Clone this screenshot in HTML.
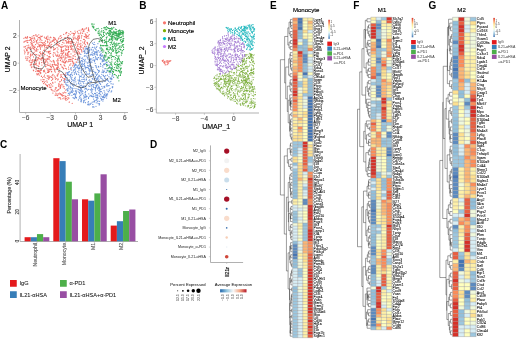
<!DOCTYPE html>
<html><head><meta charset="utf-8"><style>
html,body{margin:0;padding:0;background:#fff;}
svg{display:block;font-family:"Liberation Sans",Arial,sans-serif;}
</style></head><body>
<svg width="520" height="341" viewBox="0 0 520 341">
<rect width="520" height="341" fill="#fff"/>
<text x="1" y="8.8" font-size="10" text-anchor="start" fill="#000" font-weight="bold">A</text>
<path d="M45.2 38.3h0M66.8 32.3h0M59.2 54.8h0M26.4 60.0h0M51.9 90.2h0M32.1 43.8h0M65.2 99.5h0M61.9 57.2h0M88.2 30.3h0M80.5 48.9h0M33.4 35.7h0M35.8 71.4h0M66.0 55.3h0M27.8 42.5h0M68.7 59.5h0M44.6 71.7h0M53.8 49.7h0M40.0 70.8h0M58.5 93.9h0M72.0 48.8h0M88.5 35.8h0M51.5 84.8h0M33.9 64.3h0M81.6 50.8h0M62.1 61.7h0M55.1 77.7h0M78.1 48.6h0M49.3 78.1h0M35.0 35.7h0M32.4 45.7h0M29.2 61.2h0M60.1 94.5h0M42.2 58.6h0M87.0 38.3h0M35.5 44.5h0M39.3 63.9h0M62.7 46.9h0M48.2 70.2h0M57.9 74.1h0M49.8 57.3h0M37.7 39.2h0M23.9 38.3h0M30.6 54.6h0M64.4 38.1h0M40.5 53.4h0M47.9 36.1h0M54.6 63.9h0M46.5 47.0h0M78.5 39.1h0M58.7 38.0h0M41.1 54.9h0M59.0 86.5h0M45.6 43.8h0M38.8 66.5h0M25.7 48.2h0M41.0 79.9h0M38.4 44.1h0M36.9 42.4h0M65.0 95.8h0M73.3 63.4h0M71.7 39.8h0M32.3 38.3h0M47.0 68.8h0M78.3 42.9h0M40.5 49.2h0M39.8 71.7h0M41.0 58.9h0M47.2 61.9h0M62.3 96.1h0M57.0 67.5h0M52.9 40.8h0M35.3 63.1h0M45.4 66.5h0M60.5 86.9h0M40.3 48.0h0M60.9 85.1h0M64.3 65.5h0M57.7 79.9h0M53.7 67.7h0M86.0 46.6h0M60.8 99.1h0M79.3 37.2h0M31.9 60.7h0M28.7 45.2h0M67.4 37.7h0M50.1 64.1h0M34.5 59.8h0M57.9 52.7h0M36.8 51.2h0M60.4 60.5h0M25.1 52.2h0M65.0 66.0h0M30.8 47.1h0M41.7 36.6h0M77.9 46.6h0M61.5 80.5h0M69.3 59.4h0M53.8 52.7h0M60.3 97.9h0M41.6 36.6h0M58.6 45.0h0M31.1 39.1h0M27.2 42.2h0M44.5 50.1h0M74.0 49.0h0M56.9 40.4h0M36.4 63.2h0M85.5 34.9h0M77.9 59.9h0M56.5 90.8h0M49.8 65.6h0M69.2 102.2h0M50.6 53.4h0M27.5 36.7h0M40.7 39.2h0M42.5 45.3h0M43.2 62.0h0M34.3 60.9h0M44.3 54.1h0M55.2 65.3h0M37.1 65.5h0M24.2 47.0h0M29.8 57.4h0M43.9 44.6h0M62.5 67.3h0M49.6 51.7h0M88.8 38.2h0M33.1 66.9h0M57.1 90.8h0M62.4 95.3h0M32.7 54.4h0M60.7 74.9h0M65.2 79.0h0M57.0 67.8h0M72.5 46.1h0M28.8 47.1h0M72.0 42.5h0M56.5 56.1h0M55.5 79.2h0M66.3 32.6h0M33.6 46.2h0M72.9 50.1h0M27.9 47.3h0M68.4 49.0h0M57.9 62.4h0M82.8 42.0h0M53.5 47.3h0M37.8 71.4h0M33.2 66.9h0M86.7 36.9h0M53.6 49.9h0M33.2 53.1h0M79.2 35.9h0M83.3 49.0h0M48.4 56.9h0M47.7 59.6h0M40.3 47.1h0M57.6 41.3h0M65.5 96.9h0M72.2 61.3h0M85.0 36.5h0M55.0 53.1h0M43.5 83.5h0M67.1 49.8h0M60.6 57.0h0M34.9 39.1h0M56.7 43.6h0M53.6 37.4h0M39.7 46.5h0M61.4 94.8h0M73.3 58.4h0M51.2 67.0h0M48.7 52.7h0M28.0 48.0h0M87.7 36.4h0M57.1 75.1h0M80.8 43.3h0M41.8 45.8h0M50.2 60.9h0M31.1 38.6h0M58.3 79.1h0M54.0 69.1h0M66.4 50.0h0M32.3 46.0h0M58.5 71.5h0M49.5 43.9h0M43.8 62.1h0M39.4 45.7h0M56.7 78.5h0M51.6 46.5h0M67.9 97.8h0M46.2 59.0h0M68.9 41.9h0M57.2 42.5h0M77.9 44.4h0M56.6 41.1h0M38.6 58.7h0M67.7 99.6h0M33.5 56.9h0M27.9 56.9h0M72.2 103.3h0M67.7 55.8h0M48.5 52.2h0M42.3 53.7h0M86.9 36.2h0M87.4 42.6h0M78.1 59.9h0M36.6 54.7h0M83.0 29.0h0M51.0 89.0h0M84.5 46.4h0M46.2 47.6h0M44.8 47.9h0M86.1 28.6h0M39.3 63.2h0M49.4 46.0h0M52.2 64.6h0M85.1 40.7h0M63.9 51.9h0M45.0 54.5h0M75.5 32.8h0M30.3 65.0h0M70.7 61.0h0M39.3 58.7h0M64.8 78.5h0M67.7 36.0h0M79.3 49.3h0M61.3 55.3h0M72.5 42.0h0M40.2 45.5h0M62.0 51.8h0M57.3 44.5h0M89.2 34.6h0M55.2 89.6h0M26.6 49.3h0M31.8 41.3h0M86.2 34.8h0M63.2 74.3h0M38.2 55.0h0M33.2 42.4h0M40.7 72.7h0M66.8 42.3h0M24.6 51.8h0M68.6 40.9h0M44.5 42.3h0M50.0 69.0h0M66.0 33.7h0M50.9 48.5h0M44.5 70.2h0M47.4 58.7h0M47.9 41.8h0M71.9 42.3h0M51.8 89.7h0M54.3 39.2h0M66.1 96.6h0M48.3 65.4h0M33.5 48.5h0M58.2 97.8h0M31.1 64.4h0M36.9 36.4h0M78.2 39.0h0M75.7 43.8h0M78.5 40.8h0M38.3 57.4h0M58.0 56.2h0M32.0 45.7h0M79.1 35.7h0M63.4 68.9h0M65.2 50.2h0M51.6 71.4h0M52.0 77.3h0M53.3 60.4h0M56.2 44.8h0M54.1 40.5h0M32.4 59.8h0M29.9 60.6h0M65.8 33.0h0M57.1 55.7h0M86.6 37.2h0M84.3 39.4h0M28.2 53.6h0M73.7 38.9h0M83.0 47.8h0M77.6 37.7h0M37.6 46.9h0M57.2 51.2h0M26.3 40.7h0M31.5 67.5h0M65.8 54.3h0M62.1 94.5h0M65.4 57.0h0M76.5 47.0h0M47.6 85.4h0M53.0 40.3h0M77.9 46.2h0M62.5 77.7h0M26.1 38.2h0M64.5 59.9h0M57.7 95.5h0M32.6 44.2h0M30.9 54.1h0M38.7 71.5h0M62.7 42.4h0M65.0 63.2h0M40.0 38.2h0M50.4 47.0h0M61.0 53.6h0M66.4 60.8h0M50.7 45.0h0M85.9 37.6h0M37.0 73.4h0M57.3 76.0h0M77.5 40.1h0M44.3 49.8h0M73.0 62.4h0M72.8 61.5h0M38.8 34.8h0M46.0 84.3h0M70.8 47.1h0M60.4 60.2h0M41.4 76.0h0M87.5 43.4h0M41.1 44.8h0M73.1 51.8h0M81.9 51.9h0M54.8 91.2h0M52.7 82.4h0M61.5 50.3h0M37.9 74.5h0M46.6 37.6h0M31.0 42.5h0M65.7 90.1h0M65.5 48.8h0M73.8 42.4h0M44.9 59.2h0M25.3 46.4h0M42.5 81.7h0M48.2 51.3h0M25.9 58.4h0M52.7 86.1h0M46.8 80.8h0M59.3 43.3h0M80.7 33.7h0M77.9 39.8h0M24.0 42.2h0M56.3 87.9h0M36.1 64.7h0M42.6 43.2h0M70.0 65.0h0M65.3 54.0h0M50.3 57.0h0M82.6 33.3h0M82.4 28.6h0M37.5 46.9h0M39.3 62.1h0M58.9 84.6h0M46.9 51.8h0M35.1 60.4h0M32.2 62.2h0M82.2 45.0h0M36.5 49.9h0M34.1 38.7h0M40.2 51.8h0M58.3 39.1h0M45.5 41.2h0M30.6 56.2h0M72.2 60.1h0M30.9 42.6h0M50.2 87.4h0M69.6 65.1h0M65.6 62.3h0M50.6 83.6h0M61.7 84.2h0M51.7 44.3h0M66.2 61.6h0M44.5 75.0h0M30.3 58.9h0M65.4 45.9h0M51.8 61.7h0M64.9 58.1h0M68.4 98.1h0M75.2 56.6h0M59.6 81.8h0M57.7 75.8h0M49.8 85.3h0M42.0 57.4h0M51.6 80.3h0M47.1 47.1h0M49.7 43.0h0M54.8 69.9h0M47.2 75.8h0M54.7 49.3h0M60.0 36.3h0M78.8 53.9h0M80.0 47.2h0M48.7 46.2h0M52.0 41.0h0M42.4 45.5h0M43.8 63.5h0M52.1 75.6h0M67.3 54.5h0M67.1 45.9h0M30.6 37.7h0M46.7 38.4h0M64.0 86.7h0M68.0 95.4h0M58.9 83.7h0M60.5 47.0h0M39.3 37.4h0M54.7 37.8h0M56.3 65.0h0M59.5 93.0h0M54.7 69.9h0M48.6 58.9h0M87.2 32.5h0M65.9 75.6h0M68.9 98.2h0M57.6 63.9h0M83.0 29.3h0M48.0 63.1h0M58.5 85.9h0M37.8 60.1h0M51.7 69.2h0M78.4 49.2h0M78.4 57.7h0M57.1 47.6h0M45.7 51.1h0M43.6 71.7h0M27.2 49.8h0M24.3 41.3h0M64.5 74.8h0M68.8 43.0h0M67.9 61.9h0M74.2 34.5h0M67.1 55.0h0M60.9 46.5h0M43.8 59.1h0M44.9 59.8h0M66.2 98.4h0M62.9 98.7h0M66.4 43.0h0M71.3 45.3h0M72.2 41.1h0M72.0 33.2h0M77.8 32.8h0M44.4 82.7h0M48.1 70.9h0M52.8 78.7h0M47.8 76.2h0M65.4 58.8h0M49.3 87.1h0M61.3 49.2h0M45.8 73.2h0M63.5 50.4h0M48.7 79.3h0M63.6 95.5h0M77.1 48.5h0M24.0 46.9h0M51.7 71.8h0M61.6 47.7h0M60.4 87.9h0M85.3 44.7h0M63.9 78.7h0M54.6 42.6h0M76.1 62.0h0M74.8 44.6h0M62.1 95.6h0M55.3 72.0h0M36.4 41.5h0M47.8 70.0h0M50.4 66.4h0M75.8 38.7h0M63.3 53.2h0M61.3 46.8h0M75.2 59.4h0M37.1 40.6h0M60.6 93.6h0M83.9 31.6h0M63.3 57.2h0M40.8 70.1h0M66.1 100.2h0M68.0 56.9h0M53.4 39.0h0M40.8 53.7h0M79.1 30.3h0M27.6 37.8h0M68.5 49.6h0M62.9 84.9h0M30.8 51.6h0M40.8 36.2h0M55.6 39.6h0M39.6 37.7h0M71.2 41.7h0M33.1 61.0h0M53.7 52.8h0M65.3 37.7h0M70.9 69.2h0M41.5 58.3h0M34.2 47.5h0M79.2 52.4h0M35.0 64.4h0M67.9 42.9h0M55.4 48.7h0M40.9 42.2h0M30.3 48.9h0M83.0 31.1h0M71.8 49.2h0M88.4 27.9h0M77.1 52.9h0M36.1 60.1h0M84.0 43.5h0M61.6 37.3h0M70.8 41.8h0M64.0 64.8h0M41.9 42.5h0M64.3 81.1h0M72.2 58.0h0M77.3 52.4h0M81.4 47.1h0M48.1 39.3h0M48.4 72.4h0M53.3 66.3h0M45.1 81.3h0M49.0 84.4h0M57.7 67.4h0M87.7 43.9h0M35.9 34.6h0M70.0 41.7h0M61.9 66.9h0M70.2 34.6h0M56.4 65.2h0M42.3 36.1h0M50.6 37.2h0M62.9 92.8h0M33.6 70.7h0M73.1 39.3h0M49.5 59.0h0M75.1 52.7h0M39.7 52.4h0M40.3 59.1h0M65.6 54.7h0M52.4 65.5h0M25.3 37.4h0M82.2 29.3h0M66.2 47.1h0M68.6 47.7h0M59.6 97.7h0M64.8 45.9h0M58.2 60.0h0M44.0 76.4h0M41.6 62.5h0M59.1 38.1h0M32.1 36.8h0M43.2 57.9h0M42.9 45.4h0M61.5 76.6h0M54.3 68.8h0M64.3 62.7h0M44.4 45.3h0M38.5 66.1h0M49.2 71.7h0M24.7 53.8h0M80.7 45.0h0M60.6 64.4h0M28.0 56.5h0M52.9 83.2h0M31.1 44.0h0M34.1 52.6h0M47.1 78.6h0M64.5 92.0h0M74.0 63.2h0M84.2 36.5h0M61.6 58.8h0M63.9 55.9h0M53.7 61.9h0M71.5 49.2h0M49.6 69.4h0M49.2 51.4h0M56.8 60.8h0M36.0 50.0h0M87.1 42.4h0M61.1 64.9h0M58.0 66.4h0M69.1 56.6h0M47.5 72.4h0M68.5 67.0h0M30.4 55.5h0M50.3 69.8h0M61.7 94.3h0M52.9 74.7h0M58.8 89.4h0M35.2 51.1h0M34.2 49.0h0M57.6 65.5h0M36.3 40.7h0M65.4 73.0h0M51.0 87.2h0M44.1 79.7h0M24.2 50.1h0M67.9 41.8h0M56.7 69.2h0M41.4 76.4h0M61.8 58.3h0M31.9 38.7h0M74.0 34.9h0M30.5 39.8h0M58.3 89.9h0M64.3 88.6h0M74.7 51.5h0M71.0 53.9h0M35.1 47.2h0M62.3 53.5h0M53.5 56.3h0M52.9 74.3h0M77.7 50.0h0M39.9 56.6h0M71.2 43.7h0M55.8 87.6h0M39.9 40.0h0M47.5 41.0h0M60.9 35.5h0M59.1 56.3h0M47.0 45.5h0M36.5 48.5h0M67.7 52.9h0M30.0 47.4h0M78.9 36.5h0M53.1 90.9h0M76.9 38.9h0M47.2 82.2h0M57.2 44.2h0M70.5 46.7h0M48.2 45.6h0M64.0 43.0h0M81.4 36.1h0M57.7 68.4h0M49.3 77.2h0M61.3 50.6h0M45.1 77.6h0M47.7 65.1h0M44.4 44.1h0M42.5 57.7h0M32.6 47.9h0M67.6 53.7h0M51.1 77.3h0M70.0 45.8h0M79.7 53.7h0M65.3 40.7h0M34.6 41.9h0M43.9 55.9h0M26.5 50.6h0M66.0 40.5h0M71.1 46.3h0M52.6 79.3h0M27.0 45.5h0M73.3 33.3h0M69.7 56.9h0M65.3 61.5h0M52.1 66.0h0M85.1 36.5h0M41.1 68.7h0M59.7 45.9h0M27.8 54.2h0M51.0 42.2h0M44.4 37.2h0M39.6 45.3h0M57.9 60.9h0M33.3 70.0h0M60.0 85.1h0M63.4 62.1h0M31.4 48.9h0M47.7 42.6h0M27.9 48.3h0M45.3 62.7h0M47.8 39.6h0M31.1 64.2h0M52.5 41.3h0M65.3 98.5h0M66.9 46.0h0M40.1 37.3h0M79.2 49.5h0M45.4 40.9h0M78.3 51.3h0M48.2 69.0h0M61.3 74.9h0M56.5 65.1h0M34.3 49.7h0M69.2 39.3h0M52.9 41.4h0M75.8 59.4h0M42.6 77.5h0M57.8 59.0h0M46.2 60.4h0M83.5 39.3h0M43.4 60.7h0M61.0 53.4h0M45.2 62.1h0M77.4 31.3h0M43.5 70.6h0M66.6 49.7h0M25.7 41.2h0M68.6 61.1h0M48.4 71.3h0M51.3 67.4h0M61.1 57.1h0M31.4 40.6h0M58.9 46.0h0M56.1 69.2h0M38.8 70.7h0M31.3 66.1h0M52.9 93.0h0M60.2 81.6h0M73.8 35.5h0M49.7 39.9h0M75.0 37.2h0M75.0 31.1h0M39.5 55.3h0M37.9 49.7h0M70.5 59.4h0M46.4 85.3h0M32.0 55.3h0M63.7 34.4h0M60.1 88.4h0M68.4 46.3h0M36.6 61.0h0M36.1 69.3h0M43.0 79.5h0M49.0 37.8h0M86.4 27.8h0M46.5 38.3h0M57.0 93.8h0M68.7 56.8h0M55.3 38.9h0M79.6 56.9h0M28.9 52.0h0M35.1 54.4h0M54.7 71.0h0M49.5 53.9h0M26.9 37.9h0M68.1 47.6h0M41.9 65.1h0M41.2 70.4h0M60.8 85.9h0M65.6 75.4h0M47.8 48.3h0M72.6 65.8h0M65.8 53.6h0M60.2 57.9h0M27.9 52.6h0M55.6 54.9h0M39.9 44.7h0M46.9 37.1h0M53.8 60.9h0M61.4 49.9h0M43.8 50.4h0M29.2 40.4h0M47.4 86.2h0M83.2 47.9h0M34.7 47.3h0M70.3 43.5h0M50.2 42.1h0M63.6 93.1h0M66.6 41.8h0M46.4 37.2h0M36.3 67.9h0M84.7 43.0h0M45.4 84.2h0M66.7 57.8h0M68.6 52.6h0M27.7 58.5h0M45.9 64.7h0M63.3 46.4h0M89.0 31.0h0M64.4 82.3h0M34.2 37.7h0M74.5 33.6h0M77.5 59.2h0M59.4 71.9h0M60.5 77.2h0M63.5 52.1h0M72.7 46.5h0M75.0 50.5h0M53.8 48.1h0M55.3 77.0h0M74.9 54.5h0M73.8 33.6h0M25.7 37.0h0M60.5 40.7h0M33.7 40.3h0M75.2 45.3h0M65.8 53.1h0M76.7 62.0h0M38.7 46.0h0M41.2 60.0h0M39.1 42.3h0M38.2 70.4h0M81.2 47.2h0M42.5 52.2h0M55.9 95.1h0M63.3 61.5h0M62.1 94.5h0M47.6 86.6h0M80.8 40.7h0M30.3 39.7h0M68.9 33.6h0M88.5 29.2h0M57.2 44.5h0M31.8 64.1h0M32.8 59.6h0M47.2 64.8h0M41.9 40.3h0M50.8 69.4h0M59.7 68.8h0M69.4 102.1h0M50.2 51.1h0M49.4 56.3h0M50.9 37.7h0M64.0 97.8h0M40.7 73.6h0M48.7 45.2h0M37.0 35.6h0M83.8 30.5h0M69.6 51.6h0M66.5 68.9h0M39.3 75.0h0M72.9 55.8h0M70.8 56.9h0M58.6 73.8h0M68.5 51.4h0M65.3 68.4h0M38.6 73.7h0M55.1 82.1h0M58.3 63.3h0M38.5 37.6h0M58.4 67.2h0M77.5 45.0h0M54.2 75.9h0M81.1 30.0h0M77.8 36.1h0M34.0 46.0h0M30.7 54.1h0M69.7 61.2h0M55.4 88.0h0M73.9 38.2h0M68.7 54.9h0M58.2 44.9h0M48.3 52.8h0M37.1 70.5h0M27.7 40.4h0M71.2 47.8h0M45.3 45.3h0M78.9 33.7h0M65.8 92.7h0M37.2 59.2h0M53.1 54.9h0M70.9 49.4h0M50.8 76.5h0M77.3 53.8h0M49.3 71.1h0M84.8 41.4h0M48.4 77.8h0M73.7 55.8h0M58.6 64.8h0M54.4 62.2h0M79.2 58.6h0M55.1 95.1h0M52.9 64.4h0M57.6 90.0h0M68.7 69.2h0M31.7 43.7h0M70.8 63.8h0M51.4 71.5h0M81.4 37.9h0M45.9 66.5h0M42.0 46.8h0M44.5 46.3h0M57.6 59.0h0M27.3 50.1h0M80.4 46.4h0M59.3 55.4h0M54.5 64.3h0M62.4 54.8h0M76.7 42.1h0M27.3 50.8h0M59.0 58.1h0M61.1 51.5h0M43.1 81.3h0M27.7 60.0h0M80.7 32.2h0M63.2 40.5h0M43.3 42.9h0M79.1 37.9h0M84.4 42.6h0M51.2 77.3h0M69.1 38.6h0M43.3 44.6h0M62.3 51.2h0M60.8 38.5h0M84.0 51.6h0M79.3 38.4h0M48.9 75.9h0M38.6 68.6h0M30.1 62.4h0M71.9 59.7h0M68.6 35.5h0M78.5 36.1h0M43.1 53.4h0M73.3 64.8h0M85.2 33.8h0M55.8 93.1h0M63.3 68.2h0M29.7 37.4h0M79.6 44.1h0M84.8 29.2h0M45.9 61.2h0M60.2 87.2h0M63.1 62.1h0M47.2 55.5h0M67.6 39.3h0M81.8 35.7h0M56.6 67.9h0M31.6 62.6h0M34.7 67.8h0M57.3 54.9h0M36.9 57.7h0M37.3 36.5h0M57.0 95.1h0M56.1 87.5h0M61.5 79.6h0M34.0 47.0h0M25.9 56.9h0M58.0 49.1h0M82.6 33.2h0M62.0 44.7h0M63.1 86.9h0M70.7 31.5h0M40.1 72.7h0M88.7 29.9h0M64.6 79.8h0M77.6 53.0h0M68.6 38.3h0M46.6 37.5h0M37.0 43.6h0M55.5 64.9h0M37.0 74.7h0M46.9 39.2h0M73.0 37.1h0M62.8 60.1h0M81.3 49.7h0M86.2 35.6h0" stroke="#ef6f68" stroke-width="1.25" stroke-linecap="round" fill="none" opacity="1"/>
<path d="M75.3 97.4h0M86.2 56.2h0M88.0 102.2h0M98.2 88.7h0M82.7 93.7h0M103.9 86.8h0M96.5 97.3h0M79.9 80.7h0M106.2 94.3h0M104.9 68.7h0M93.9 71.3h0M80.7 97.9h0M94.7 60.0h0M99.0 70.3h0M96.9 95.3h0M68.4 86.8h0M94.2 101.2h0M82.8 74.2h0M112.5 74.7h0M86.0 95.4h0M75.2 64.1h0M67.3 77.9h0M107.5 75.2h0M109.2 85.6h0M66.0 82.7h0M81.1 85.3h0M95.4 65.7h0M89.6 86.3h0M109.9 74.1h0M98.1 78.2h0M85.6 91.4h0M109.1 89.9h0M69.6 80.2h0M92.5 43.2h0M82.7 91.2h0M95.9 59.2h0M102.3 59.9h0M90.7 68.8h0M104.5 86.3h0M99.5 87.3h0M92.4 96.6h0M103.9 63.8h0M69.4 75.3h0M101.0 51.7h0M77.7 66.2h0M78.9 70.0h0M82.8 66.4h0M85.8 97.3h0M95.6 93.3h0M102.0 72.2h0M91.5 85.9h0M101.7 58.9h0M89.9 59.8h0M95.3 57.8h0M105.6 78.8h0M65.7 77.6h0M101.8 86.4h0M83.8 95.3h0M96.0 106.3h0M95.5 87.4h0M102.9 67.0h0M111.7 90.9h0M80.0 66.9h0M104.5 64.0h0M90.1 75.7h0M97.3 101.8h0M88.5 98.4h0M97.3 79.6h0M83.3 79.3h0M76.5 97.9h0M103.6 97.4h0M70.0 86.0h0M101.8 74.3h0M101.2 96.2h0M96.3 100.2h0M68.9 88.2h0M99.2 81.9h0M93.9 96.5h0M104.4 64.6h0M106.3 62.3h0M91.3 95.3h0M95.2 63.3h0M79.5 78.9h0M73.5 94.4h0M73.0 97.5h0M104.7 76.8h0M95.3 89.6h0M92.9 67.4h0M89.0 80.3h0M87.2 49.2h0M86.0 86.8h0M99.4 71.1h0M83.3 59.4h0M72.3 90.4h0M89.3 70.0h0M72.4 88.2h0M91.6 88.0h0M100.1 89.3h0M100.1 83.2h0M75.9 64.3h0M70.6 83.3h0M80.8 101.6h0M104.5 71.2h0M70.1 93.3h0M87.1 96.3h0M91.7 74.8h0M99.5 104.8h0M100.7 66.3h0M104.9 97.6h0M73.3 80.1h0M105.8 93.8h0M108.9 76.6h0M95.0 100.6h0M87.6 83.8h0M109.8 66.2h0M67.5 80.5h0M86.1 80.1h0M95.6 88.4h0M86.9 67.4h0M97.5 88.9h0M74.7 84.5h0M98.5 72.3h0M93.6 44.3h0M74.1 66.9h0M103.6 96.4h0M95.5 90.8h0M73.6 86.0h0M111.1 83.7h0M71.9 95.3h0M70.6 75.1h0M91.4 96.3h0M88.5 82.5h0M93.4 94.8h0M90.8 59.9h0M105.8 95.6h0M86.2 48.4h0M96.3 54.2h0M113.6 77.4h0M100.6 98.2h0M81.4 60.7h0M94.0 107.0h0M98.6 81.0h0M89.5 71.2h0M83.5 81.9h0M96.2 102.8h0M100.7 94.6h0M97.9 98.2h0M84.7 100.2h0M85.3 88.4h0M80.4 62.2h0M101.7 58.8h0M75.2 68.3h0M79.4 92.8h0M102.9 101.0h0M104.0 76.4h0M78.6 82.9h0M81.4 76.8h0M90.0 84.5h0M90.4 104.2h0M83.5 102.6h0M71.3 70.0h0M98.3 87.3h0M101.4 91.6h0M112.9 84.1h0M93.2 84.9h0M93.6 87.6h0M68.0 73.8h0M76.4 92.7h0M78.0 68.0h0M98.4 70.5h0M107.1 95.0h0M97.4 59.0h0M96.8 80.2h0M96.9 52.4h0M96.4 79.0h0M81.2 89.5h0M69.3 94.0h0M75.3 65.1h0M89.6 47.6h0M75.1 94.5h0M77.1 66.1h0M102.4 55.3h0M82.3 65.0h0M95.9 72.3h0M97.0 97.3h0M85.1 47.9h0M86.3 88.7h0M87.3 51.9h0M74.2 70.2h0M81.1 72.1h0M111.5 78.0h0M101.3 78.6h0M111.8 76.0h0M110.8 71.6h0M85.9 61.8h0M72.8 85.4h0M96.5 75.3h0M101.1 76.8h0M74.4 74.2h0M93.9 84.6h0M69.7 95.0h0M107.3 65.2h0M74.0 81.0h0M85.2 49.6h0M72.1 91.3h0M92.8 104.4h0M83.2 86.5h0M74.3 72.7h0M89.0 105.0h0M94.8 54.8h0M79.0 67.9h0M80.1 85.8h0M75.6 71.1h0M91.7 88.8h0M89.6 79.8h0M92.9 71.0h0M83.6 100.9h0M96.9 98.9h0M111.7 67.9h0M77.3 59.8h0M84.2 76.3h0M106.8 95.3h0M96.5 75.1h0M96.7 80.2h0M92.1 52.4h0M98.5 57.5h0M74.5 65.1h0M89.7 86.4h0M95.0 72.3h0M97.5 94.8h0M97.8 88.6h0M96.2 52.3h0M74.3 69.5h0M100.8 64.6h0M97.0 92.5h0M83.4 68.8h0M66.1 79.9h0M111.8 79.5h0M80.8 88.3h0M85.1 52.0h0M97.7 51.0h0M102.5 97.2h0M95.9 83.5h0M72.4 92.5h0M105.4 81.2h0M93.1 53.6h0M100.3 58.7h0M71.1 87.7h0M76.0 88.7h0M79.7 75.8h0M78.9 68.6h0M87.3 57.7h0M94.9 87.7h0M75.9 94.2h0M100.5 63.4h0M88.0 52.9h0M111.0 78.4h0M98.6 66.4h0M99.9 55.7h0M104.1 94.9h0M67.0 80.2h0M72.1 88.5h0M104.5 94.2h0M97.0 78.7h0M92.8 47.4h0M95.5 56.5h0M75.7 69.0h0M90.2 89.6h0M95.8 87.3h0M94.5 101.8h0M97.0 57.9h0M102.7 96.6h0M103.9 61.2h0M78.7 89.4h0M64.9 81.7h0M89.1 50.4h0M86.4 53.5h0M68.3 74.7h0M89.5 64.9h0M99.8 76.3h0M87.5 57.3h0M97.3 55.2h0M78.8 72.7h0M99.6 92.8h0M81.6 70.6h0M94.7 47.2h0M86.1 83.6h0M68.8 71.9h0M94.7 60.5h0M102.7 70.0h0M70.7 76.4h0M71.2 92.4h0M84.5 63.2h0M75.7 90.7h0M93.9 59.8h0M86.6 89.0h0M100.8 48.9h0M79.9 57.0h0M75.5 72.1h0M107.1 62.0h0M71.1 91.0h0M84.1 96.3h0M107.6 79.4h0M94.0 101.6h0M106.8 96.1h0M76.0 65.1h0M81.8 64.2h0M83.7 83.6h0M108.8 91.8h0M100.4 91.7h0M104.9 57.3h0M96.6 66.1h0M90.5 63.0h0M105.3 63.7h0M106.6 98.1h0M111.5 91.0h0M97.7 84.7h0M90.9 71.2h0M79.9 93.6h0M103.3 99.6h0M104.1 55.6h0M101.1 53.6h0M86.4 67.5h0M78.4 83.3h0M109.2 72.2h0M109.5 90.3h0M78.4 99.9h0M92.3 47.3h0M93.0 96.8h0M89.4 73.2h0M84.0 100.3h0M97.1 54.2h0M81.1 64.9h0M112.6 87.7h0M63.8 80.5h0M84.8 89.1h0M89.7 96.2h0M103.7 64.4h0M73.7 91.0h0M84.9 66.1h0M99.5 103.7h0M79.4 90.2h0M71.9 77.5h0M88.4 85.8h0M110.1 77.8h0M102.1 99.5h0M88.5 101.6h0M89.0 103.9h0M91.6 49.8h0M95.3 95.0h0M84.4 81.2h0M84.2 75.2h0M86.7 46.3h0M99.9 91.3h0M89.3 52.0h0M93.8 101.9h0M72.7 80.1h0M100.1 91.3h0M99.6 88.7h0M76.4 97.4h0M111.8 70.3h0M104.1 86.4h0M69.5 71.5h0M79.7 92.5h0M70.5 68.1h0M94.6 60.8h0M78.7 74.6h0M71.7 72.9h0M87.7 104.7h0M86.9 53.6h0M93.3 49.9h0M83.3 64.3h0M84.4 64.1h0M98.5 66.8h0M106.9 89.9h0M80.7 83.2h0M110.6 67.5h0M84.8 60.4h0M91.3 85.4h0M107.0 94.2h0M93.2 86.4h0M91.0 67.6h0M87.3 74.0h0M81.2 101.3h0M80.5 76.4h0M111.1 83.8h0M87.2 62.8h0M82.4 81.7h0M103.5 57.9h0M81.6 66.6h0M90.5 58.9h0M79.5 96.3h0M70.5 87.3h0M100.7 89.3h0M91.1 103.2h0M84.9 53.2h0M101.5 98.8h0M108.1 91.6h0M93.5 106.9h0M99.4 83.2h0M71.6 81.7h0M84.9 66.8h0M99.3 52.0h0M80.5 90.5h0M65.1 76.3h0M85.2 94.2h0M92.4 70.9h0M108.5 81.2h0M79.8 67.1h0M110.3 78.4h0M82.2 87.3h0M103.5 75.3h0M83.9 85.8h0M92.1 89.9h0M94.5 61.7h0M81.9 58.4h0M103.6 96.3h0M78.8 91.9h0M75.8 81.8h0M87.8 58.8h0M111.1 91.9h0M69.9 92.1h0M92.3 102.1h0M93.0 69.3h0M108.0 70.3h0M100.4 57.6h0M100.6 84.4h0M67.2 73.8h0M100.1 54.7h0M96.5 59.0h0M84.5 79.2h0M104.7 92.0h0M86.1 99.2h0M87.0 48.1h0M97.9 43.7h0M95.6 65.8h0M75.2 95.8h0M86.5 72.1h0M99.9 89.9h0M71.8 74.3h0M111.1 72.5h0M103.5 57.1h0M109.9 82.0h0M95.3 76.5h0M107.1 70.4h0M104.5 86.7h0M101.3 55.9h0M86.5 96.4h0M70.5 86.8h0M91.3 67.8h0M86.8 73.8h0M76.1 65.2h0M91.3 92.2h0M93.1 51.1h0M108.8 65.2h0M69.4 79.9h0M90.9 61.5h0M95.2 78.6h0M112.1 87.0h0M95.5 77.2h0M107.5 85.9h0M81.0 81.4h0M91.2 54.1h0M88.8 48.1h0M106.2 85.8h0M98.1 103.5h0M84.0 101.8h0M93.1 96.5h0M89.2 62.2h0M67.8 91.1h0M81.2 85.3h0M96.5 51.0h0M100.3 77.8h0M81.0 101.7h0M93.1 94.9h0M70.4 74.4h0M92.3 78.4h0M83.8 77.2h0M84.3 56.2h0M102.0 56.6h0M66.9 72.7h0M82.5 63.0h0M102.4 55.2h0M97.4 97.2h0M85.9 74.5h0M110.8 81.4h0M66.7 84.4h0M84.4 61.1h0M89.0 104.2h0M78.1 62.2h0M110.0 88.4h0M84.6 51.4h0M106.7 84.4h0M70.3 82.8h0M65.1 74.7h0M101.2 89.1h0M89.0 51.5h0M97.4 69.7h0M96.9 46.3h0M73.8 67.3h0M79.7 58.2h0M97.4 55.2h0M83.2 87.2h0M84.7 50.7h0M65.7 77.2h0M67.3 74.4h0M87.8 53.3h0M97.4 73.9h0M104.7 60.0h0M87.0 49.7h0M87.5 48.7h0M98.2 87.8h0M92.5 106.9h0M92.8 89.5h0M80.4 87.6h0M81.4 88.8h0M66.8 89.7h0M107.7 83.6h0M99.8 47.9h0M82.1 86.0h0M80.7 99.9h0M107.7 80.3h0M113.2 84.1h0M112.0 78.8h0M72.4 75.5h0M87.5 63.1h0M81.7 75.0h0M93.0 55.2h0M76.6 74.4h0M88.6 68.7h0M97.1 52.7h0M90.1 58.9h0M102.7 88.2h0M103.2 75.4h0M89.0 65.7h0M77.3 67.5h0M99.4 96.1h0M87.5 90.1h0M73.2 71.0h0M80.9 61.0h0M81.0 91.7h0M100.7 54.2h0M74.3 93.7h0M96.6 86.3h0M95.5 87.5h0M112.8 75.9h0M104.0 90.5h0M87.7 65.3h0M76.2 73.4h0M99.6 101.3h0M85.2 68.9h0M107.0 62.7h0M84.6 53.2h0M102.8 65.7h0M85.2 67.2h0M93.4 57.5h0M81.6 92.1h0M79.6 86.6h0M95.0 52.9h0M94.3 60.1h0M92.9 79.4h0M79.2 84.1h0M93.8 74.9h0M78.4 68.5h0M81.2 101.8h0M74.7 98.7h0M74.9 80.2h0M104.0 95.5h0M76.2 93.2h0M74.0 82.8h0M103.1 97.7h0M91.0 66.5h0M75.7 91.6h0M81.5 69.6h0M88.8 59.8h0M99.1 75.4h0M89.0 73.8h0M81.6 99.0h0M80.9 63.0h0M94.5 78.6h0M68.0 85.0h0M90.1 62.4h0M79.3 97.9h0M79.9 68.6h0M83.2 51.1h0M97.0 85.5h0M85.6 67.8h0M74.3 94.1h0M86.1 97.0h0M81.8 90.2h0M112.7 86.7h0M97.7 74.0h0M86.9 53.5h0M71.1 84.2h0M98.6 57.7h0M96.0 49.3h0M94.4 51.8h0M88.9 61.5h0M91.1 49.2h0M87.5 82.2h0M97.8 77.4h0M94.6 93.4h0M92.2 55.2h0M85.4 96.9h0M91.9 91.6h0M81.2 70.7h0M96.5 47.3h0M94.3 42.3h0M100.4 58.3h0M105.7 75.7h0M85.2 96.9h0M98.4 76.5h0M95.0 48.3h0M104.0 59.2h0M100.7 55.6h0M91.2 81.9h0M98.9 71.8h0M103.5 71.2h0M76.8 91.0h0M98.7 67.1h0M88.9 74.3h0M101.3 100.0h0M80.8 54.4h0M80.3 90.2h0M96.7 67.8h0M89.7 50.6h0M110.5 72.3h0M88.8 93.9h0M72.4 89.5h0M80.7 95.7h0M95.6 73.0h0M81.9 79.6h0M73.5 70.0h0M75.4 96.9h0M91.2 81.2h0M95.1 48.6h0M103.0 60.0h0M107.6 93.9h0M97.8 95.8h0M85.1 86.1h0M88.9 50.2h0M71.7 79.6h0M72.0 72.5h0M90.4 70.1h0M88.6 97.3h0M102.5 79.0h0M90.4 54.9h0M103.2 61.0h0M100.4 55.6h0M92.2 84.4h0M81.6 72.9h0M65.4 84.1h0M98.5 50.5h0M91.1 90.2h0M87.8 57.2h0M77.8 71.6h0M81.6 94.0h0M100.2 47.8h0M98.8 93.5h0M82.7 61.4h0M89.0 70.2h0M85.1 92.6h0M105.9 72.6h0M71.4 67.8h0M109.1 67.9h0M96.9 78.3h0M86.4 79.4h0M74.9 78.2h0M81.5 100.3h0M95.1 83.3h0M106.5 72.2h0M99.6 89.9h0M72.8 84.0h0M96.7 85.1h0M79.2 80.9h0M97.4 59.7h0M103.7 60.9h0M90.8 95.4h0M68.1 90.1h0M82.9 74.3h0M89.6 60.6h0M85.0 55.6h0M96.1 97.0h0M82.8 91.7h0M85.3 92.3h0M89.4 69.1h0M74.6 78.4h0M85.5 102.7h0M78.0 80.1h0M77.9 89.0h0M68.7 72.4h0M89.3 49.4h0M105.4 68.6h0M93.6 99.1h0M98.6 80.3h0M100.1 59.0h0M88.2 52.8h0M85.1 59.3h0M92.9 60.5h0M76.5 84.0h0M88.2 55.7h0M68.1 74.9h0M88.6 89.3h0M81.7 68.2h0M75.6 95.8h0M94.3 54.0h0M104.8 78.2h0M94.5 53.3h0M86.4 88.9h0M67.1 85.3h0M67.5 72.6h0M96.3 87.1h0M84.4 65.7h0M98.8 90.7h0M96.3 67.6h0M92.1 75.3h0M101.2 89.0h0M103.6 72.6h0M78.5 65.2h0M104.2 97.7h0M106.6 85.9h0M92.0 54.5h0M70.2 89.1h0M73.8 98.1h0M79.4 98.1h0M78.0 58.3h0M85.0 66.0h0M67.3 88.6h0M92.7 74.5h0M104.7 87.6h0M91.0 95.7h0M70.2 77.0h0M76.0 67.3h0M72.1 88.5h0M92.3 93.4h0M95.2 81.0h0M91.9 62.3h0M99.3 103.8h0M96.1 85.4h0M85.5 71.6h0M102.1 61.8h0M67.8 82.4h0M104.7 57.0h0M98.1 101.1h0M88.0 62.9h0M85.5 94.3h0M95.4 51.9h0M83.8 98.2h0M103.2 80.2h0M88.0 67.1h0M96.1 74.6h0M79.1 81.6h0M84.3 97.3h0M106.2 80.1h0M82.3 57.9h0M94.8 44.5h0M90.6 65.7h0M88.0 67.7h0M67.4 90.1h0M104.3 81.0h0M68.1 81.0h0M108.4 85.6h0M75.1 79.5h0M82.0 60.3h0M102.2 82.2h0M79.5 77.2h0M111.0 78.8h0M110.2 78.8h0M86.3 77.8h0M94.9 72.7h0M95.5 76.5h0M99.2 104.9h0M96.2 94.8h0M74.6 66.1h0M74.0 88.3h0M89.9 81.5h0M79.2 80.2h0M89.2 66.4h0M80.3 95.0h0M71.2 78.3h0M88.0 104.1h0M83.0 77.5h0M99.0 79.8h0M88.8 49.8h0M105.3 96.2h0M102.5 93.0h0M95.5 97.0h0M78.6 86.8h0M98.1 98.1h0M91.9 58.9h0M75.3 77.2h0M98.8 86.1h0M68.4 93.3h0M102.5 61.0h0M102.7 72.0h0M66.8 85.7h0M97.0 99.8h0M83.6 70.8h0M74.8 94.0h0M99.7 93.7h0" stroke="#6e96db" stroke-width="1.25" stroke-linecap="round" fill="none" opacity="1"/>
<path d="M111.8 65.3h0M101.3 47.9h0M105.6 42.2h0M117.2 38.4h0M106.5 42.2h0M120.5 61.9h0M110.5 47.6h0M109.7 58.0h0M120.4 40.7h0M104.7 32.2h0M111.1 69.1h0M102.1 50.5h0M121.2 47.4h0M117.3 77.7h0M115.2 43.6h0M111.4 42.5h0M109.6 52.5h0M122.1 53.0h0M123.1 34.2h0M121.9 62.0h0M120.7 49.4h0M120.0 72.0h0M110.2 49.3h0M117.0 31.4h0M123.4 38.8h0M107.8 49.5h0M122.6 61.6h0M107.5 32.5h0M113.2 51.3h0M123.5 49.5h0M107.1 49.7h0M113.4 56.6h0M109.1 40.4h0M106.2 53.9h0M112.6 38.0h0M99.4 35.3h0M121.1 39.6h0M118.3 51.0h0M112.0 56.1h0M99.1 30.2h0M115.4 64.7h0M119.3 43.3h0M115.0 39.0h0M114.3 42.0h0M109.6 39.4h0M102.8 36.6h0M119.2 51.7h0M116.6 45.8h0M119.0 59.6h0M115.0 48.3h0M112.6 37.1h0M111.8 61.9h0M100.6 45.1h0M120.6 69.9h0M116.7 43.2h0M107.1 68.7h0M112.9 71.8h0M123.6 47.5h0M112.2 48.0h0M118.0 44.0h0M112.3 68.4h0M110.7 28.5h0M118.1 38.6h0M117.9 61.8h0M109.5 67.2h0M115.4 37.9h0M111.9 59.7h0M116.9 37.5h0M106.1 45.5h0M100.5 45.8h0M117.0 58.6h0M101.8 31.9h0M104.5 55.1h0M122.4 42.2h0M117.5 65.1h0M112.6 40.6h0M106.3 37.5h0M106.0 27.3h0M121.4 41.6h0M103.5 33.0h0M107.5 33.1h0M102.7 40.4h0M113.0 51.3h0M105.9 55.7h0M118.1 66.7h0M118.6 57.7h0M110.4 44.8h0M113.8 32.0h0M104.2 56.2h0M119.7 46.0h0M111.0 63.4h0M99.1 41.7h0M101.1 34.8h0M111.7 36.2h0M118.7 31.8h0M114.2 74.3h0M101.3 38.6h0M117.9 52.6h0M122.2 45.3h0M121.2 37.6h0M118.1 68.1h0M113.6 32.0h0M122.9 32.2h0M118.4 66.6h0M106.3 64.5h0M108.7 68.2h0M108.0 71.1h0M110.3 71.6h0M105.8 56.8h0M115.6 50.1h0M122.9 31.1h0M116.3 66.9h0M113.8 27.4h0M122.0 50.8h0M113.5 71.7h0M105.2 28.1h0M122.0 41.5h0M99.1 34.1h0M103.5 34.6h0M121.3 63.4h0M113.2 33.8h0M119.9 67.1h0M110.8 53.8h0M118.9 33.8h0M120.8 49.8h0M104.9 39.8h0M110.0 62.4h0M111.3 55.0h0M123.7 38.4h0M106.1 33.4h0M108.9 28.4h0M121.9 53.4h0M120.8 65.2h0M117.0 68.6h0M113.5 69.5h0M102.4 45.6h0M119.4 71.2h0M123.4 33.1h0M103.5 32.4h0M116.8 67.9h0M114.9 69.8h0M111.4 57.7h0M121.9 62.5h0M115.1 59.2h0M110.8 68.5h0M112.9 33.7h0M109.1 49.9h0M109.2 57.6h0M107.4 48.2h0M109.1 47.1h0M123.3 31.5h0M108.3 51.4h0M113.4 46.9h0M104.2 27.4h0M105.4 52.3h0M106.4 29.7h0M121.2 72.9h0M104.3 40.6h0M116.2 70.7h0M110.2 48.0h0M120.5 74.1h0M109.9 34.6h0M115.3 52.8h0M114.0 32.0h0M113.3 49.9h0M117.0 33.3h0M104.0 45.5h0M112.9 44.5h0M109.4 71.6h0M122.7 44.7h0M113.8 32.6h0M108.7 61.1h0M114.6 45.5h0M98.9 33.4h0M112.6 36.0h0M106.0 60.8h0M121.4 55.1h0M104.6 59.0h0M102.1 41.0h0M102.3 37.2h0M101.4 38.4h0M106.6 48.4h0M117.8 48.9h0M110.4 48.5h0M118.1 76.6h0M111.7 64.3h0M107.9 41.6h0M107.3 65.3h0M110.0 55.7h0M103.4 36.3h0M106.7 64.3h0M116.5 50.5h0M99.8 40.9h0M112.3 44.6h0M104.5 42.7h0M105.3 45.7h0M118.6 70.3h0M116.2 75.6h0M115.0 32.8h0M99.2 35.6h0M104.7 55.8h0M119.4 59.0h0M109.2 39.9h0M106.9 29.1h0M123.5 40.7h0M120.0 33.0h0M115.0 46.3h0M121.1 43.0h0M100.6 37.5h0M118.9 80.8h0M114.7 64.3h0M105.3 41.6h0M107.1 36.9h0M104.4 35.6h0M114.4 63.0h0M111.3 36.5h0M120.7 32.7h0M102.5 39.9h0M111.4 52.9h0M112.4 66.8h0M121.2 52.5h0M118.3 33.6h0M115.9 32.5h0M115.8 70.6h0M108.6 35.1h0M115.1 44.2h0M101.5 35.6h0M108.5 33.5h0M108.0 57.1h0M112.4 48.9h0M118.8 31.4h0M117.9 56.2h0M118.5 58.3h0M101.1 40.7h0M106.4 49.1h0M112.0 32.1h0M116.4 70.7h0M118.7 75.4h0M106.3 34.6h0M117.8 65.0h0M107.7 45.6h0M110.0 71.6h0M106.8 44.3h0M111.3 67.9h0M121.0 46.1h0M116.0 48.9h0M120.4 68.7h0M112.4 46.6h0M118.8 43.4h0M100.2 37.3h0M119.1 55.9h0M112.4 56.4h0M108.7 57.4h0M100.7 34.2h0M115.5 62.1h0M119.0 64.9h0M118.3 35.0h0M111.8 69.3h0M121.4 68.0h0M108.3 53.1h0M118.3 64.3h0M110.7 70.8h0M115.8 51.5h0M112.6 71.2h0M116.6 53.7h0M120.1 34.8h0M106.8 66.1h0M119.4 47.2h0M99.2 33.3h0M106.4 41.0h0M109.6 30.8h0M112.5 51.2h0M106.0 60.0h0M119.5 30.7h0M101.2 45.7h0M101.3 50.0h0M122.9 38.8h0M103.8 27.8h0M105.1 29.6h0M111.7 43.2h0M115.5 57.6h0M113.5 43.1h0M117.1 64.7h0M116.6 52.6h0M110.1 42.4h0M114.0 36.8h0M120.4 75.3h0M120.2 71.8h0M110.7 36.3h0M123.6 32.7h0M107.1 59.7h0M106.6 43.4h0M113.3 72.3h0M122.4 32.3h0M104.6 27.9h0M122.6 41.1h0M112.6 46.5h0M122.5 40.6h0M107.5 58.8h0M115.0 31.8h0M121.9 30.5h0M116.1 45.8h0M101.7 30.8h0M109.9 70.6h0M111.8 41.8h0M117.0 63.7h0M119.9 49.2h0M112.5 73.6h0M112.9 34.6h0M122.0 50.9h0M102.8 49.3h0M113.4 50.3h0M116.5 33.8h0M120.4 75.4h0M117.6 59.7h0M107.5 27.5h0M109.2 39.7h0M103.4 30.7h0M116.1 32.5h0M103.8 50.9h0M123.6 44.5h0M106.2 52.9h0M102.2 48.8h0M116.2 44.5h0M118.7 36.7h0M115.4 47.1h0M117.7 52.7h0M110.3 64.6h0M113.8 50.0h0M102.8 52.2h0M106.5 38.9h0M114.4 67.5h0M122.4 50.7h0M115.0 74.6h0M103.3 45.7h0M106.0 52.9h0M117.4 61.5h0M122.2 63.7h0M114.4 37.7h0M120.3 49.5h0M123.0 46.4h0M114.1 56.6h0M111.0 28.5h0M105.8 60.3h0M119.0 32.6h0M118.3 48.2h0M111.6 49.9h0M117.1 65.4h0M101.7 28.5h0M119.6 63.9h0M114.4 43.9h0M111.8 27.6h0M106.9 45.9h0M121.5 71.7h0M119.0 70.3h0M118.6 33.2h0M98.3 31.7h0M119.9 72.5h0M111.4 39.5h0M120.3 33.2h0M106.4 26.6h0M123.6 49.5h0M118.0 71.0h0M118.1 78.0h0M123.0 31.1h0M117.5 39.1h0M106.4 45.5h0M109.3 33.6h0M116.2 55.4h0M117.9 45.2h0M108.7 67.8h0M116.3 75.8h0M117.2 58.3h0M108.6 58.0h0M100.0 31.9h0M106.1 33.3h0M117.0 60.7h0M119.5 60.9h0M103.9 57.8h0M108.3 41.4h0M92.4 26.3h0M95.6 30.2h0M92.0 24.7h0M92.0 23.7h0M93.1 27.5h0M93.1 26.1h0M93.6 27.9h0M93.9 26.9h0M96.9 28.7h0M98.2 28.3h0M95.0 29.4h0M95.9 30.6h0M96.0 30.0h0M94.0 24.2h0M97.9 33.0h0M110.7 32.2h0M111.1 39.9h0M120.7 39.5h0M112.0 35.6h0M118.4 30.5h0M110.1 31.2h0M117.9 36.6h0M116.1 39.8h0M119.7 30.1h0M116.3 29.5h0M111.7 29.2h0M109.2 32.3h0M121.7 36.8h0M109.4 30.3h0M117.2 34.9h0M108.4 28.4h0M116.8 36.0h0M111.7 35.8h0M116.2 32.1h0M122.7 32.9h0M114.6 35.1h0M119.9 35.1h0M119.1 36.6h0M122.9 41.6h0M119.8 30.2h0M116.8 33.6h0M111.6 38.7h0M111.4 37.6h0M115.6 33.4h0M119.0 37.9h0M120.4 31.0h0M118.4 34.4h0M122.6 33.7h0M115.3 35.0h0M112.8 28.6h0M110.7 33.7h0M113.4 34.5h0M116.2 32.8h0M112.4 32.3h0M113.0 38.1h0M115.6 38.9h0M111.2 32.5h0M114.2 32.8h0M123.0 33.6h0M117.9 35.9h0M120.8 32.0h0M116.3 35.7h0M113.8 36.6h0M113.7 31.1h0M112.2 34.3h0M111.3 38.9h0M109.2 33.2h0M120.1 37.7h0M121.8 32.4h0M120.6 34.1h0M121.8 34.2h0M112.0 29.3h0M116.9 39.9h0M110.3 34.2h0M119.2 34.6h0M117.4 39.9h0M122.8 35.9h0M110.6 30.6h0M110.1 34.7h0M117.0 33.9h0M115.3 29.1h0M119.1 35.1h0M112.8 39.5h0M122.6 40.8h0M114.0 33.7h0M112.0 38.2h0M121.8 33.8h0M109.6 33.8h0M116.0 38.8h0M110.9 31.2h0M119.6 33.4h0M108.7 28.3h0M109.2 32.8h0M123.1 32.3h0M116.0 35.1h0M109.5 35.7h0M114.9 31.9h0M120.9 37.4h0M109.9 28.6h0M108.8 31.0h0M123.0 40.0h0M109.9 38.9h0M119.8 34.1h0M123.4 36.0h0M109.8 30.2h0" stroke="#35ad55" stroke-width="1.25" stroke-linecap="round" fill="none" opacity="1"/>
<path d="M29.7 48.2 L32.1 52.3 L36.1 56.3 L35.3 60.3 L33.7 64.4 L34.5 67.6 L37.7 68.4 L41.8 69.2 L45.0 65.2 L43.4 60.3 L42.6 54.7 L45.0 50.6 L49.0 46.6 L51.5 47.5 L57.0 42.9 L62.0 40.0 L67.6 37.6 L71.1 38.5 L74.6 47.3 L79.0 57.9 L79.9 64.9 L85.2 73.7 L87.9 77.3 L92.3 76.4" stroke="#262626" stroke-width="0.6" fill="none" stroke-linejoin="round"/>
<path d="M57.0 69.3 L62.3 72.0 L66.7 78.1 L71.1 83.4 L76.4 86.1 L80.8 87.8 L85.2 86.9 L87.9 83.4 L92.3 82.5 L97.5 82.5" stroke="#262626" stroke-width="0.6" fill="none" stroke-linejoin="round"/>
<path d="M102.8 42.9 L101.0 39.4 L97.5 38.5 L93.1 39.4 L89.6 43.8 L87.9 49.1 L88.7 54.4 L89.6 61.4 L91.4 68.5 L93.1 74.6 L94.9 80.8 L98.4 81.7 L104.6 80.8 L108.1 78.1" stroke="#262626" stroke-width="0.6" fill="none" stroke-linejoin="round"/>
<line x1="19.5" y1="20" x2="19.5" y2="112.5" stroke="#a8a8a8" stroke-width="0.9"/>
<line x1="19.5" y1="112.5" x2="128" y2="112.5" stroke="#a8a8a8" stroke-width="0.9"/>
<line x1="17.6" y1="35.9" x2="19.5" y2="35.9" stroke="#a8a8a8" stroke-width="0.6"/>
<text x="16.6" y="38.199999999999996" font-size="6.5" text-anchor="end" fill="#4d4d4d" stroke="#4d4d4d" stroke-width="0.14">2</text>
<line x1="17.6" y1="63.2" x2="19.5" y2="63.2" stroke="#a8a8a8" stroke-width="0.6"/>
<text x="16.6" y="65.5" font-size="6.5" text-anchor="end" fill="#4d4d4d" stroke="#4d4d4d" stroke-width="0.14">0</text>
<line x1="17.6" y1="90.4" x2="19.5" y2="90.4" stroke="#a8a8a8" stroke-width="0.6"/>
<text x="16.6" y="92.7" font-size="6.5" text-anchor="end" fill="#4d4d4d" stroke="#4d4d4d" stroke-width="0.14">−2</text>
<line x1="25.7" y1="112.5" x2="25.7" y2="114.3" stroke="#a8a8a8" stroke-width="0.6"/>
<text x="25.7" y="120" font-size="6.5" text-anchor="middle" fill="#4d4d4d" stroke="#4d4d4d" stroke-width="0.14">−6</text>
<line x1="50.3" y1="112.5" x2="50.3" y2="114.3" stroke="#a8a8a8" stroke-width="0.6"/>
<text x="50.3" y="120" font-size="6.5" text-anchor="middle" fill="#4d4d4d" stroke="#4d4d4d" stroke-width="0.14">−3</text>
<line x1="75.5" y1="112.5" x2="75.5" y2="114.3" stroke="#a8a8a8" stroke-width="0.6"/>
<text x="75.5" y="120" font-size="6.5" text-anchor="middle" fill="#4d4d4d" stroke="#4d4d4d" stroke-width="0.14">0</text>
<line x1="100.6" y1="112.5" x2="100.6" y2="114.3" stroke="#a8a8a8" stroke-width="0.6"/>
<text x="100.6" y="120" font-size="6.5" text-anchor="middle" fill="#4d4d4d" stroke="#4d4d4d" stroke-width="0.14">3</text>
<line x1="124.7" y1="112.5" x2="124.7" y2="114.3" stroke="#a8a8a8" stroke-width="0.6"/>
<text x="124.7" y="120" font-size="6.5" text-anchor="middle" fill="#4d4d4d" stroke="#4d4d4d" stroke-width="0.14">6</text>
<text x="80.2" y="127.3" font-size="7" text-anchor="middle" fill="#000" stroke="#000" stroke-width="0.14">UMAP 1</text>
<text x="9.8" y="59.3" font-size="7" text-anchor="middle" fill="#000" transform="rotate(-90 9.8 59.3)" stroke="#000" stroke-width="0.14">UMAP 2</text>
<text x="20.5" y="89.5" font-size="6" text-anchor="start" fill="#000" stroke="#000" stroke-width="0.14">Monocyte</text>
<text x="108.3" y="25.2" font-size="6" text-anchor="start" fill="#000" stroke="#000" stroke-width="0.14">M1</text>
<text x="112.4" y="101.6" font-size="6" text-anchor="start" fill="#000" stroke="#000" stroke-width="0.14">M2</text>
<text x="139.2" y="8.8" font-size="10" text-anchor="start" fill="#000" font-weight="bold">B</text>
<path d="M218.8 86.7h0M240.1 100.8h0M251.9 83.9h0M239.3 86.9h0M246.4 81.4h0M247.5 83.0h0M238.2 65.5h0M237.6 100.6h0M229.1 76.7h0M240.7 62.3h0M238.3 70.2h0M233.6 92.5h0M214.1 80.8h0M226.7 86.0h0M248.6 78.5h0M240.3 68.4h0M224.2 81.0h0M246.2 80.4h0M249.3 103.3h0M253.6 66.1h0M216.3 87.9h0M242.5 71.1h0M232.2 90.8h0M247.1 90.7h0M233.4 81.4h0M225.3 78.4h0M253.6 79.7h0M221.7 87.4h0M235.1 79.0h0M253.2 95.3h0M243.4 85.9h0M241.3 80.4h0M214.7 77.6h0M249.2 86.2h0M252.2 83.0h0M220.3 92.2h0M253.1 101.2h0M241.0 97.9h0M217.0 78.3h0M248.1 71.4h0M215.9 83.7h0M254.3 87.1h0M251.0 57.9h0M241.5 88.7h0M252.2 95.6h0M243.5 61.8h0M252.1 80.0h0M227.3 89.6h0M243.8 78.1h0M225.1 75.9h0M244.0 64.9h0M220.0 79.5h0M224.7 95.9h0M234.2 101.4h0M246.7 54.7h0M243.5 87.3h0M234.0 89.8h0M243.2 59.3h0M237.7 81.0h0M243.8 80.0h0M229.8 83.4h0M252.3 89.1h0M241.3 86.4h0M245.2 67.2h0M249.2 82.8h0M245.8 99.7h0M224.2 75.3h0M250.9 91.0h0M234.3 83.0h0M251.1 55.9h0M228.6 91.0h0M236.2 80.2h0M242.1 71.3h0M253.6 103.3h0M246.1 72.6h0M250.1 55.9h0M254.2 88.7h0M230.0 76.1h0M239.4 81.9h0M250.6 102.9h0M246.8 88.8h0M228.9 78.8h0M237.4 94.0h0M255.0 98.9h0M247.3 105.8h0M244.1 83.1h0M248.7 97.8h0M240.3 90.0h0M246.9 68.5h0M228.7 74.0h0M250.1 82.3h0M240.4 77.0h0M225.2 81.8h0M219.5 80.8h0M247.6 76.5h0M231.4 94.9h0M232.0 75.7h0M230.5 81.6h0M236.8 71.9h0M242.4 72.7h0M253.2 69.0h0M231.9 70.0h0M236.2 67.9h0M242.1 75.4h0M243.7 68.5h0M232.9 83.6h0M244.2 89.1h0M241.7 71.3h0M252.3 65.3h0M219.4 90.8h0M238.1 66.2h0M248.1 90.4h0M231.7 86.5h0M241.5 77.0h0M254.0 73.2h0M246.6 101.1h0M229.3 73.1h0M242.8 80.9h0M254.4 106.7h0M250.9 105.7h0M249.3 53.3h0M250.9 87.0h0M239.9 76.8h0M236.8 67.6h0M238.0 101.8h0M225.9 84.8h0M222.2 88.8h0M237.1 70.5h0M216.6 79.6h0M235.7 98.5h0M223.2 88.0h0M243.7 80.2h0M218.1 78.9h0M253.7 74.2h0M237.2 75.9h0M251.3 84.9h0M249.4 73.5h0M239.2 83.4h0M244.9 61.2h0M241.4 86.8h0M250.2 54.3h0M249.2 79.0h0M222.5 75.1h0M216.4 85.0h0M222.6 91.9h0M220.7 91.2h0M239.8 92.4h0M254.2 68.8h0M242.6 74.6h0M251.7 98.9h0M246.1 86.1h0M255.0 106.0h0M242.5 99.7h0M247.8 77.8h0M230.2 97.2h0M241.4 82.6h0M250.9 53.8h0M213.8 78.4h0M245.7 90.5h0M230.9 85.9h0M235.1 82.7h0M233.1 75.4h0M242.9 58.3h0M243.0 104.8h0M246.0 82.8h0M217.2 82.6h0M251.1 101.2h0M248.0 79.3h0M250.2 62.6h0M227.7 81.2h0M244.5 77.5h0M230.1 75.8h0M222.8 79.4h0M243.6 72.5h0M241.7 80.0h0M225.6 83.0h0M254.5 63.7h0M224.9 81.0h0M252.2 77.2h0M223.3 85.9h0M218.1 81.5h0M236.8 69.6h0M245.3 87.0h0M252.4 86.5h0M243.5 98.1h0M215.9 75.7h0M225.4 78.5h0M250.8 83.8h0M245.3 95.5h0M225.2 87.1h0M229.4 78.9h0M236.1 89.9h0M249.8 108.0h0M246.0 61.1h0M216.8 78.8h0M228.1 94.0h0M249.6 61.7h0M252.7 102.9h0M237.6 81.9h0M239.7 70.4h0M246.3 84.6h0M248.9 56.9h0M249.7 80.8h0M240.4 65.5h0M243.2 75.1h0M244.3 85.2h0M240.4 83.0h0M244.0 70.7h0M233.8 79.1h0M245.5 56.1h0M238.6 66.7h0M251.8 72.6h0M251.1 93.8h0M224.8 83.5h0M235.6 80.1h0M242.1 68.4h0M252.4 87.4h0M251.3 69.3h0M243.9 100.9h0M251.2 56.0h0M249.3 66.1h0M247.8 91.0h0M244.9 90.1h0M230.4 80.3h0M249.7 91.6h0M242.9 81.0h0M237.9 89.9h0M247.6 101.3h0M229.2 77.6h0M242.4 62.9h0M243.8 70.0h0M249.1 96.7h0M238.2 91.2h0M227.2 94.0h0M223.6 79.0h0M251.5 59.3h0M245.5 97.2h0M226.8 82.8h0M226.6 75.9h0M226.8 89.0h0M251.2 91.2h0M244.4 80.8h0M249.8 58.1h0M239.0 96.7h0M246.7 90.2h0M215.9 79.2h0M224.8 86.5h0M230.3 77.9h0M236.4 85.4h0M251.6 68.0h0M252.8 59.1h0M250.4 107.6h0M224.1 78.9h0M242.6 60.7h0M251.1 54.4h0M247.9 99.9h0M241.3 69.0h0M248.5 56.6h0M245.7 54.6h0M217.3 88.7h0M219.5 89.8h0M242.2 65.1h0M250.8 87.8h0M243.0 87.3h0M246.8 81.2h0M238.7 80.0h0M245.8 82.3h0M225.2 81.3h0M235.6 101.5h0M244.2 63.8h0M235.1 85.1h0M238.2 78.1h0M235.2 91.1h0M251.2 81.3h0M247.0 90.6h0M234.4 68.7h0M229.2 91.8h0M253.1 61.0h0M247.8 70.2h0M231.1 71.9h0M233.2 93.4h0M251.7 104.1h0M246.2 62.0h0M220.8 79.0h0M218.9 89.1h0M242.8 70.6h0M245.7 101.9h0M243.2 60.3h0M254.9 89.1h0M225.4 76.0h0M255.1 94.5h0M248.2 94.6h0M214.9 83.3h0M247.2 68.2h0M219.3 73.6h0M247.9 57.6h0M247.2 82.9h0M247.6 71.1h0M244.4 80.8h0M246.1 63.3h0M249.9 92.0h0M214.9 78.5h0M224.3 95.4h0M244.2 90.9h0M240.8 91.5h0M251.9 72.5h0M235.6 89.0h0M253.1 88.9h0M235.4 95.7h0M236.8 75.5h0M227.6 74.4h0M245.4 102.3h0M232.9 100.1h0M218.6 81.3h0M245.3 96.4h0M241.4 71.6h0M218.1 84.4h0M241.8 94.9h0M237.8 94.8h0M238.2 85.9h0M243.6 93.3h0M241.9 66.4h0M234.2 95.6h0M240.8 103.7h0M231.3 90.0h0M250.6 56.3h0M235.2 97.2h0M253.7 71.4h0M222.7 75.8h0M243.7 105.2h0M231.6 89.4h0M248.1 58.5h0M226.1 81.9h0M233.8 73.1h0M246.7 58.3h0M236.5 72.3h0M255.3 92.2h0M239.2 66.5h0M232.0 81.9h0M229.5 84.0h0M217.1 75.9h0M235.0 94.8h0M248.2 93.8h0M229.6 92.4h0M221.8 87.1h0M251.0 57.2h0M254.2 105.9h0M239.7 99.8h0M253.8 77.4h0M250.1 53.9h0M246.9 88.8h0M246.7 60.4h0M216.8 81.7h0M239.3 91.1h0M220.9 84.3h0M248.5 106.6h0M242.2 77.0h0M231.2 78.6h0M252.0 72.6h0M250.9 84.0h0M251.9 103.0h0M243.9 77.5h0M223.7 84.0h0M227.8 75.9h0M254.5 106.3h0M235.9 84.0h0M234.1 95.3h0M252.9 87.4h0M243.2 83.2h0M218.8 78.1h0M219.0 76.7h0M215.8 86.5h0M240.7 104.6h0M238.3 79.7h0M228.4 81.7h0M248.1 97.2h0M234.4 80.4h0M249.6 58.6h0M234.4 77.7h0M254.4 104.9h0M230.7 80.2h0M251.0 54.4h0M221.5 79.1h0M251.4 107.4h0M247.9 54.8h0M244.9 84.7h0M245.7 78.8h0M254.6 107.6h0M221.4 87.7h0M238.8 81.4h0M246.6 82.1h0M226.8 90.0h0M254.1 54.8h0M245.4 76.5h0M249.4 90.0h0M247.8 71.2h0M253.4 89.6h0M254.1 86.5h0M245.3 85.9h0M245.2 77.6h0M218.6 83.8h0M251.0 87.1h0M245.4 98.4h0M232.0 77.6h0M231.8 72.3h0M246.8 102.3h0M226.0 92.4h0M242.7 96.1h0M244.2 70.2h0M246.0 100.0h0M229.5 82.0h0M235.9 68.7h0M244.1 91.5h0M214.0 83.5h0M251.4 55.9h0M241.5 80.9h0M236.4 99.8h0M240.8 105.5h0M242.6 104.0h0M247.3 106.9h0M245.8 74.2h0M235.8 96.5h0M215.7 82.6h0M237.7 92.8h0M227.9 86.4h0M244.9 73.7h0M242.6 103.3h0M229.1 81.9h0M234.1 99.7h0M230.1 89.1h0M234.9 93.5h0M229.8 84.5h0M238.5 78.1h0M227.7 88.9h0M220.7 79.5h0M224.9 84.1h0M242.9 81.4h0M245.5 87.4h0M234.1 95.1h0M253.6 72.0h0M249.8 65.0h0M248.8 77.3h0M232.8 80.3h0M243.0 87.6h0M253.4 68.0h0M225.8 84.8h0M242.3 102.3h0M219.0 76.5h0M228.9 93.3h0M231.3 88.5h0M218.9 86.7h0M251.3 102.3h0M252.1 91.6h0M246.1 55.8h0M245.0 97.2h0M239.9 72.8h0M227.4 98.1h0M231.6 77.1h0M226.6 93.2h0M250.1 74.7h0M231.4 97.6h0M255.0 94.9h0M243.6 99.0h0M252.8 106.2h0M236.1 74.0h0M228.7 96.5h0M242.2 90.2h0M249.0 95.3h0M233.8 83.9h0M247.9 80.1h0M233.7 79.5h0M244.9 93.8h0M227.6 96.1h0M229.4 90.3h0M253.7 96.2h0M229.6 71.9h0M231.9 86.4h0M214.7 83.0h0M253.2 55.6h0M251.6 84.5h0M244.2 94.8h0M250.0 101.9h0M244.3 64.3h0M234.7 81.2h0M228.9 79.8h0M252.4 62.0h0M246.4 73.6h0M238.9 84.0h0M245.1 69.1h0M242.4 73.0h0M246.9 80.0h0M251.8 81.8h0M241.0 99.2h0M251.6 73.9h0M244.5 99.3h0M228.8 75.8h0M231.0 100.2h0M247.3 83.8h0M240.9 69.0h0M246.2 101.7h0M229.7 80.4h0M249.9 88.5h0M232.5 88.4h0M228.6 84.7h0M221.2 82.8h0M245.1 72.5h0M245.2 94.6h0M249.5 83.3h0M238.2 90.9h0M236.8 103.6h0M239.8 75.1h0M252.3 102.9h0M240.1 75.4h0M237.9 99.2h0M224.7 82.0h0M253.7 61.7h0M225.7 73.2h0M240.8 72.1h0M242.1 60.5h0M215.1 84.9h0M244.4 59.6h0M243.0 61.1h0M251.0 103.7h0M245.7 88.2h0M238.4 81.0h0M241.5 80.2h0M230.3 99.6h0M226.2 75.0h0M228.1 76.6h0M228.5 96.9h0M221.3 79.1h0M225.4 84.8h0M246.5 58.5h0M241.1 90.5h0M251.7 101.7h0M247.3 74.4h0M217.1 74.4h0M226.2 79.7h0M235.4 97.5h0M244.3 94.3h0M253.6 92.9h0M234.5 72.5h0M216.5 83.5h0M246.5 58.6h0M233.5 97.0h0M250.8 70.2h0M236.3 85.3h0M232.6 98.5h0M243.6 98.5h0M224.1 80.7h0M236.6 85.1h0M250.1 83.6h0M245.1 94.0h0M240.0 104.0h0M220.3 88.1h0M236.5 77.9h0M219.7 74.8h0M220.4 78.3h0M251.0 70.4h0M216.8 88.9h0M245.8 79.4h0M251.6 60.3h0M244.3 103.6h0M251.9 100.3h0M232.0 81.1h0M249.8 73.6h0M253.3 69.5h0M243.0 76.6h0M252.0 56.2h0M247.2 85.8h0M253.3 73.4h0M243.0 93.4h0M242.9 95.3h0M216.1 82.9h0M244.8 76.3h0M221.1 76.2h0M239.4 101.0h0M251.6 70.4h0M242.8 88.8h0M247.8 98.2h0M240.2 98.7h0M220.5 88.4h0M225.2 79.6h0M244.4 84.3h0M254.0 102.2h0M245.5 83.0h0M240.9 71.7h0M229.9 98.8h0M249.4 94.5h0M232.5 82.4h0M255.7 104.6h0M252.1 54.5h0M218.2 89.4h0M242.8 61.4h0M247.7 78.9h0M248.7 105.3h0M229.3 92.0h0M244.5 64.1h0M253.5 58.0h0M240.4 88.6h0M221.8 87.6h0M236.9 87.0h0M221.2 79.1h0M249.2 87.1h0M251.1 55.0h0M233.8 81.2h0M245.9 63.2h0M226.9 81.6h0M245.6 80.7h0M219.0 90.2h0M237.1 85.9h0M229.1 93.9h0M246.9 91.5h0M221.0 78.2h0M252.7 61.9h0M228.2 87.0h0M243.0 78.2h0M236.0 99.8h0M217.3 86.0h0M226.9 94.9h0M244.0 75.6h0M243.4 84.0h0M245.3 105.9h0M223.7 91.2h0M248.0 67.1h0M252.1 69.8h0M255.1 102.3h0M246.9 73.0h0M233.0 85.4h0M247.9 75.6h0M251.9 64.3h0M215.2 84.4h0M239.9 74.5h0M247.6 83.0h0M219.0 85.9h0M229.5 90.2h0M250.8 99.1h0M254.8 106.9h0M246.1 67.8h0M227.3 81.7h0M249.6 57.6h0M251.6 90.1h0M238.8 75.1h0M229.6 75.0h0M244.0 77.1h0M244.0 101.8h0M253.8 63.0h0M248.3 75.0h0M231.7 86.1h0M245.5 66.5h0M230.6 75.6h0M243.7 68.2h0M228.5 80.6h0M223.4 76.4h0M245.4 80.7h0M237.8 65.1h0M229.9 83.8h0M250.9 55.7h0M252.3 57.4h0M237.1 83.0h0M230.8 87.6h0M251.3 70.1h0M251.1 86.0h0M245.7 74.1h0M227.2 91.2h0M237.7 103.9h0M243.0 103.5h0M233.3 96.8h0M217.9 88.3h0M227.4 91.4h0M224.8 93.1h0M243.9 103.9h0M248.1 66.5h0M244.1 79.8h0M223.0 94.5h0M248.0 82.3h0M230.5 82.3h0M219.7 85.0h0M224.9 73.7h0M220.6 89.9h0M228.9 79.8h0M252.1 57.7h0M237.9 87.5h0M246.7 79.2h0M248.4 76.7h0M230.0 88.3h0M242.7 58.4h0M224.5 82.1h0M228.1 83.4h0M230.0 71.5h0M253.1 91.4h0M233.3 72.7h0M250.6 72.8h0M242.5 62.0h0M236.6 67.3h0M252.6 72.8h0M227.9 83.3h0M253.3 91.4h0M248.7 84.2h0M249.1 88.4h0M241.1 69.2h0M246.1 81.9h0M246.5 90.6h0M249.4 91.6h0M252.2 90.1h0M231.9 80.4h0M249.0 85.8h0M233.3 97.7h0M224.0 86.5h0M228.5 86.5h0M251.9 75.3h0M249.2 78.6h0M251.8 54.6h0M227.1 78.9h0M241.0 88.3h0M225.1 94.3h0M248.3 97.3h0M214.3 85.3h0M249.9 87.9h0M239.2 76.2h0M248.7 82.3h0M228.4 80.2h0M242.2 99.4h0M230.7 95.5h0M218.8 80.7h0M242.7 82.3h0M243.5 61.4h0M239.1 81.8h0M244.4 58.3h0M255.2 94.5h0M250.8 62.4h0M244.2 73.5h0M243.4 91.7h0M232.1 78.5h0M244.0 60.6h0M251.8 70.8h0M251.5 60.2h0M218.5 85.5h0M223.6 77.0h0M221.8 93.2h0M245.0 91.0h0M244.1 83.1h0M253.4 98.5h0M241.4 99.0h0M235.1 68.5h0M241.9 87.9h0M235.3 77.8h0M252.8 73.4h0M246.0 102.9h0M219.9 80.0h0M234.3 74.0h0M247.1 66.2h0M223.3 93.2h0M225.0 75.2h0M248.7 105.5h0M253.1 61.0h0M214.3 77.0h0M245.1 83.1h0M242.6 66.8h0M230.2 94.7h0M236.4 102.9h0M248.2 75.7h0M226.0 77.5h0M236.5 88.8h0M227.6 87.7h0M231.4 99.2h0M237.2 93.3h0M237.9 91.6h0M235.8 79.3h0M250.2 75.2h0M228.0 76.6h0M246.4 78.2h0M245.5 81.2h0M245.2 80.1h0M238.2 75.9h0M253.5 108.1h0M237.7 83.7h0M217.6 84.1h0M253.3 65.7h0M246.6 66.4h0M244.0 68.0h0M238.9 96.1h0M226.4 83.5h0M245.1 62.1h0M240.5 74.9h0M246.1 93.3h0M229.1 85.5h0M219.5 86.6h0M241.1 65.4h0M241.9 59.8h0M252.9 90.0h0M222.4 93.6h0M239.7 73.5h0M243.1 95.2h0M242.5 64.4h0M254.8 103.7h0M223.4 93.6h0M230.8 92.3h0M224.4 79.2h0M250.5 72.8h0" stroke="#70a62a" stroke-width="0.95" stroke-linecap="round" fill="none" opacity="1"/>
<path d="M221.3 71.5h0M223.8 55.1h0M216.0 49.7h0M215.6 59.7h0M229.9 48.0h0M235.6 41.8h0M232.0 50.0h0M215.9 64.9h0M217.5 65.9h0M237.3 50.8h0M226.7 41.1h0M215.9 61.6h0M223.9 56.0h0M223.8 43.7h0M216.7 64.3h0M226.0 38.9h0M230.3 65.0h0M235.2 67.2h0M225.6 50.8h0M241.0 44.5h0M225.7 67.3h0M221.8 42.8h0M230.0 41.4h0M220.0 59.0h0M217.1 65.3h0M241.1 50.1h0M215.6 56.4h0M235.5 55.9h0M220.5 42.9h0M223.2 57.0h0M218.7 52.0h0M231.1 45.3h0M231.9 55.2h0M225.4 38.7h0M229.9 57.3h0M232.6 69.5h0M232.0 64.7h0M243.0 57.2h0M239.5 55.5h0M226.1 39.3h0M227.6 62.3h0M228.9 71.9h0M225.8 55.1h0M237.7 42.3h0M217.7 68.1h0M230.6 38.3h0M229.0 64.8h0M231.5 60.8h0M229.6 47.2h0M224.7 49.1h0M241.4 44.5h0M234.9 56.2h0M220.9 70.6h0M219.9 45.1h0M217.8 61.8h0M234.9 47.8h0M215.2 57.4h0M222.7 55.5h0M218.8 50.3h0M239.7 45.5h0M223.2 72.4h0M242.1 44.0h0M218.5 48.9h0M237.6 56.5h0M242.6 50.6h0M226.5 39.6h0M220.6 69.0h0M220.1 69.9h0M238.7 56.3h0M220.8 71.6h0M226.3 47.9h0M234.4 44.5h0M220.2 40.6h0M230.7 45.7h0M218.5 69.1h0M212.0 52.1h0M232.4 55.1h0M218.6 67.5h0M223.8 55.2h0M225.3 65.3h0M226.6 55.3h0M228.9 57.6h0M239.9 46.2h0M244.5 56.1h0M222.8 59.7h0M236.2 60.9h0M234.3 48.6h0M235.7 47.2h0M230.1 39.7h0M220.8 45.0h0M223.9 49.9h0M244.6 54.5h0M230.0 49.3h0M229.9 66.5h0M229.1 53.9h0M223.2 40.3h0M225.4 56.5h0M215.1 64.1h0M226.6 58.6h0M225.9 65.7h0M234.5 37.6h0M230.0 43.6h0M236.8 48.0h0M219.8 71.4h0M212.9 49.7h0M226.0 60.9h0M220.4 58.4h0M220.3 69.6h0M231.3 49.2h0M218.6 58.3h0M213.1 53.5h0M221.0 49.8h0M232.1 63.2h0M234.4 50.7h0M222.7 58.7h0M226.9 71.3h0M229.3 57.0h0M234.0 52.7h0M228.0 60.2h0M221.6 53.2h0M230.2 45.3h0M217.3 49.9h0M225.8 50.6h0M219.9 52.6h0M230.8 36.8h0M233.8 62.2h0M217.8 43.0h0M212.5 52.2h0M234.3 49.7h0M231.3 57.8h0M228.5 71.1h0M235.4 51.2h0M233.3 64.4h0M224.6 36.1h0M220.7 62.0h0M237.6 49.3h0M241.6 48.8h0M224.7 52.6h0M229.4 43.6h0M221.8 56.8h0M225.4 41.6h0M234.0 45.0h0M227.3 68.9h0M216.1 58.8h0M219.1 70.3h0M224.3 53.7h0M222.2 47.2h0M227.9 60.1h0M242.3 50.5h0M220.9 47.6h0M234.8 39.4h0M219.9 40.7h0M228.4 63.7h0M234.7 51.0h0M229.0 37.9h0M219.4 46.9h0M223.4 60.0h0M219.4 42.5h0M217.8 52.9h0M219.0 52.7h0M219.5 63.5h0M234.0 51.2h0M230.7 54.6h0M236.6 64.8h0M226.1 64.6h0M239.5 61.4h0M226.7 65.0h0M236.4 36.7h0M231.3 36.3h0M236.3 46.7h0M224.1 44.0h0M238.9 59.3h0M221.4 63.5h0M217.5 66.0h0M231.9 64.5h0M235.0 51.9h0M231.4 56.2h0M220.9 45.3h0M228.5 49.0h0M235.3 59.6h0M224.3 44.2h0M225.8 49.0h0M213.0 53.2h0M242.0 44.1h0M236.6 64.2h0M233.8 57.4h0M219.7 60.7h0M228.8 47.4h0M242.2 58.6h0M222.9 59.7h0M241.5 51.9h0M238.7 41.5h0M227.3 42.5h0M238.7 57.5h0M224.6 48.6h0M218.4 41.4h0M234.8 45.6h0M214.7 48.7h0M224.4 49.4h0M226.9 49.2h0M227.4 59.3h0M214.8 52.4h0M217.1 57.7h0M223.0 60.3h0M238.0 49.4h0M224.3 35.9h0M218.4 58.5h0M238.8 38.4h0M223.7 55.0h0M234.2 46.3h0M223.7 62.7h0M227.8 50.8h0M230.5 37.4h0M227.3 44.9h0M216.9 54.4h0M235.2 54.5h0M228.3 60.5h0M230.7 61.5h0M224.3 49.2h0M222.9 42.7h0M220.7 56.1h0M226.9 38.1h0M236.3 54.7h0M242.1 43.5h0M214.9 61.2h0M217.2 62.0h0M240.9 54.1h0M238.1 42.0h0M235.4 48.6h0M227.1 45.6h0M218.9 45.2h0M220.5 40.5h0M241.1 48.4h0M230.4 66.4h0M234.4 39.1h0M239.9 46.3h0M239.6 59.3h0M235.1 55.3h0M222.9 70.4h0M214.2 53.4h0M226.3 35.6h0M233.0 65.4h0M218.8 42.8h0M237.6 54.6h0M243.5 44.1h0M221.1 51.4h0M224.4 60.3h0M223.9 59.0h0M240.4 40.3h0M231.0 59.9h0M221.0 54.1h0M222.6 56.7h0M214.9 58.6h0M218.3 55.7h0M217.6 51.1h0M220.2 59.3h0M244.6 51.6h0M230.0 47.2h0M221.0 53.8h0M236.8 46.0h0M231.7 43.7h0M235.8 53.3h0M221.8 51.3h0M224.8 60.5h0M226.0 57.0h0M231.9 36.3h0M228.5 63.8h0M238.2 63.2h0M234.5 37.9h0M225.2 53.8h0M214.6 56.1h0M220.3 39.4h0M236.3 57.9h0M230.5 68.9h0M213.3 48.4h0M218.7 57.4h0M224.7 70.9h0M219.1 43.8h0M225.9 48.1h0M236.3 38.8h0M235.9 42.0h0M221.2 65.9h0M231.0 42.9h0M234.7 49.9h0M235.8 42.7h0M225.8 61.0h0M223.9 43.3h0M233.2 38.3h0M244.3 47.9h0M242.0 61.3h0M220.5 73.3h0M228.7 54.1h0M217.4 52.9h0M237.2 55.8h0M244.8 54.9h0M236.4 57.6h0M241.4 46.6h0M227.0 66.4h0M219.9 48.1h0M240.2 59.6h0M227.9 33.2h0M237.4 49.9h0M219.3 48.7h0M234.3 39.3h0M220.6 58.4h0M225.9 39.8h0M214.6 54.4h0M223.1 53.5h0M214.8 47.4h0M228.5 36.1h0M228.3 67.6h0M231.4 38.0h0M232.8 36.0h0M229.3 40.0h0M234.3 66.2h0M226.6 56.9h0M222.6 66.7h0M234.7 35.8h0M235.3 38.5h0M227.6 40.2h0M227.8 59.9h0M236.3 46.1h0M213.0 51.3h0M242.5 55.6h0M232.4 64.5h0M238.8 38.5h0M220.2 62.2h0M231.1 68.5h0M237.7 46.4h0M217.0 60.0h0M215.0 53.2h0M220.6 49.3h0M233.6 59.0h0M232.3 35.1h0M242.3 58.1h0M236.7 59.0h0M224.4 41.4h0M226.3 67.6h0M237.1 38.0h0M218.1 41.2h0M236.7 43.0h0M241.6 49.7h0M217.8 49.9h0M240.6 50.1h0M240.6 62.8h0M230.6 53.9h0M235.7 57.6h0M226.3 67.9h0M221.0 48.9h0M219.5 67.9h0M221.4 60.2h0M235.1 67.6h0M232.9 55.6h0M217.7 54.2h0M219.4 67.7h0M217.4 64.5h0M217.9 46.7h0M231.1 44.0h0M234.4 43.3h0M244.0 46.3h0M224.2 41.0h0M241.7 60.2h0M233.4 35.1h0M217.1 63.7h0M220.3 73.7h0M220.7 65.9h0M236.4 59.4h0M231.9 38.4h0M229.4 40.4h0M244.5 45.8h0M220.8 54.5h0M237.9 45.4h0M238.9 64.4h0M217.5 69.7h0M231.6 59.1h0M231.1 38.3h0M238.1 51.4h0M223.6 65.7h0M222.6 71.7h0M222.7 58.7h0M219.9 62.7h0M220.9 50.2h0M236.0 67.1h0M218.4 64.5h0M234.3 62.5h0M238.9 42.3h0M228.2 32.8h0M223.2 57.6h0M220.1 65.7h0M218.4 51.0h0M234.6 41.8h0M233.9 49.3h0M233.5 66.8h0M234.5 68.5h0M234.0 65.0h0M239.9 57.4h0M229.4 39.3h0M215.0 48.9h0M221.2 56.0h0M239.6 43.8h0M217.7 57.2h0M218.7 41.1h0M224.0 47.0h0M235.2 54.7h0M222.4 38.8h0M215.1 62.2h0M218.8 54.5h0M220.3 53.0h0M228.4 43.6h0M215.2 50.0h0M239.0 38.4h0M229.6 66.4h0M230.7 47.0h0M227.7 51.3h0M240.0 58.4h0M230.0 54.0h0M241.7 47.3h0M244.7 55.7h0M238.5 51.5h0M229.0 42.0h0M241.7 50.1h0M225.1 63.5h0M227.7 50.3h0M239.5 50.3h0M218.1 52.5h0M221.6 43.3h0M237.7 47.1h0M232.6 45.2h0M237.7 61.9h0M232.1 39.9h0M228.3 67.3h0M238.1 57.2h0M232.8 39.7h0M224.9 61.8h0M243.0 43.9h0M222.5 36.9h0M244.1 56.5h0M228.0 35.0h0M242.4 42.8h0M237.6 41.1h0M229.5 44.4h0M230.8 62.4h0M228.8 49.2h0M226.5 47.9h0M236.1 59.0h0M234.7 59.2h0M228.8 40.8h0M242.5 54.8h0M226.9 43.5h0M224.1 73.4h0M225.1 66.1h0M215.4 57.5h0M220.5 42.3h0M221.6 49.1h0M233.2 49.6h0M240.7 39.1h0M240.5 50.8h0M238.3 49.0h0M220.0 69.8h0M233.0 62.7h0M229.1 62.2h0M244.4 47.1h0M221.4 69.4h0M226.1 49.8h0M221.5 50.0h0M224.3 51.8h0M228.6 34.8h0M227.7 70.3h0M240.7 53.2h0M230.9 67.7h0M222.5 38.1h0M237.2 55.0h0M227.2 37.9h0M230.1 56.5h0M222.2 49.9h0M222.9 66.2h0M226.3 35.6h0M227.4 38.8h0M224.2 51.4h0M242.1 55.2h0M244.8 55.2h0M216.2 65.6h0M233.9 45.0h0M216.7 59.2h0M243.0 42.9h0M218.1 42.5h0M218.9 50.0h0M219.3 60.2h0M219.4 43.7h0M225.5 39.6h0M212.8 52.6h0M241.6 58.2h0M221.7 49.3h0M225.8 46.0h0M222.5 36.9h0M232.3 40.9h0M228.7 61.5h0M228.2 63.5h0M237.9 51.2h0M234.9 47.9h0M217.3 69.7h0M227.3 67.9h0M240.1 42.9h0M218.9 69.5h0M219.3 57.5h0M243.3 52.0h0M225.7 72.5h0M235.4 41.9h0M242.8 55.2h0M220.5 40.1h0M220.5 74.1h0M243.4 47.3h0M227.7 66.9h0M223.6 42.3h0M228.7 71.5h0M232.2 68.9h0M217.9 53.7h0M242.6 56.4h0M226.3 61.3h0M234.9 50.9h0M229.0 66.3h0M223.8 60.8h0M230.0 68.1h0M219.4 52.0h0M219.9 66.0h0M231.4 64.9h0M231.2 58.2h0M225.9 43.9h0M223.0 42.3h0M239.0 48.5h0M235.6 55.5h0M219.0 44.2h0M234.1 68.5h0M217.6 48.7h0M231.4 38.7h0M224.1 38.6h0M220.7 56.5h0M228.4 39.8h0M220.6 69.9h0M232.8 57.6h0M222.2 45.0h0M217.5 50.2h0M233.5 60.7h0M221.0 61.0h0M242.5 52.1h0M224.7 61.1h0M241.1 61.2h0M234.2 41.3h0M215.2 46.8h0M243.6 44.9h0M221.7 71.2h0M223.2 66.9h0M219.4 68.4h0M226.5 68.0h0M227.9 48.1h0M226.7 72.2h0M214.5 51.0h0M239.8 39.0h0M238.4 40.0h0M217.6 60.0h0M217.0 50.8h0M227.8 55.2h0M230.1 39.5h0M222.5 73.0h0M233.4 60.4h0M231.9 41.0h0M222.9 41.0h0M233.6 68.0h0M228.3 41.1h0M212.0 50.4h0M227.3 55.9h0M235.1 68.4h0M244.3 46.5h0M231.9 69.4h0M216.2 65.5h0M215.3 47.7h0M225.4 60.0h0M243.3 50.5h0M231.0 49.7h0M224.3 43.6h0" stroke="#9d72d0" stroke-width="0.95" stroke-linecap="round" fill="none" opacity="1"/>
<path d="M247.0 45.7h0M245.9 35.6h0M237.9 28.5h0M243.0 34.6h0M241.5 37.1h0M234.4 35.0h0M251.9 31.3h0M239.2 29.5h0M253.7 27.0h0M239.3 36.2h0M226.2 27.5h0M240.5 36.6h0M235.3 33.0h0M252.0 42.6h0M250.4 41.9h0M248.0 36.9h0M252.9 24.6h0M252.4 33.3h0M253.8 29.4h0M253.1 37.5h0M250.9 30.9h0M239.4 30.2h0M242.6 39.7h0M226.4 27.9h0M250.7 30.1h0M253.5 36.1h0M252.2 32.1h0M252.0 32.1h0M245.9 27.7h0M244.5 31.7h0M244.4 38.5h0M242.6 40.6h0M230.0 29.0h0M235.0 29.0h0M232.8 32.8h0M247.7 29.0h0M252.6 32.1h0M251.8 43.3h0M253.3 28.4h0M245.4 28.1h0M242.7 30.7h0M238.9 33.8h0M241.7 28.7h0M253.4 36.8h0M241.0 32.9h0M243.9 33.1h0M247.4 41.0h0M242.1 29.7h0M247.9 45.8h0M246.4 36.4h0M238.1 32.3h0M246.6 44.9h0M230.3 29.0h0M244.5 26.9h0M251.8 49.3h0M244.3 30.6h0M248.6 42.0h0M242.2 29.5h0M254.2 29.4h0M252.1 32.6h0M243.9 26.1h0M240.3 38.1h0M245.7 30.5h0M253.7 38.3h0M249.1 34.0h0M251.9 44.8h0M240.4 31.1h0M241.7 38.0h0M228.1 31.7h0M245.4 27.5h0M241.1 27.0h0M251.7 29.2h0M254.1 31.2h0M254.3 42.7h0M253.3 45.4h0M252.8 41.7h0M244.0 26.8h0M239.3 33.3h0M250.2 29.1h0M250.7 33.9h0M250.9 29.9h0M232.4 30.5h0M247.1 45.4h0M243.0 39.9h0M252.7 39.2h0M254.0 36.7h0M229.2 30.7h0M251.7 49.0h0M243.7 28.5h0M251.9 40.6h0M247.3 39.7h0M243.5 34.0h0M238.9 35.6h0M236.9 31.4h0M245.3 34.5h0M253.0 41.7h0M245.0 33.1h0M249.1 26.9h0M251.8 37.0h0M243.2 29.6h0M241.3 31.5h0M236.5 29.6h0M238.7 35.5h0M246.7 49.5h0M242.7 33.4h0M233.5 29.8h0M228.8 31.6h0M240.7 27.7h0M246.1 29.0h0M247.6 28.0h0M251.6 32.0h0M236.8 34.3h0M247.9 25.3h0M235.4 28.1h0M254.5 34.4h0M246.7 36.2h0M231.8 32.1h0M235.8 30.3h0M249.1 25.8h0M243.8 41.6h0M231.4 28.9h0M250.5 47.0h0M241.5 31.6h0M252.5 48.7h0M247.1 37.6h0M244.8 32.6h0M238.2 35.7h0M247.4 47.4h0M248.2 43.9h0M252.6 45.1h0M239.9 32.5h0M251.3 48.7h0M247.1 37.8h0M249.2 39.3h0M248.4 38.7h0M254.7 28.7h0M242.0 36.9h0M250.4 50.0h0M240.4 37.3h0M244.4 29.0h0M239.3 35.1h0M254.3 38.5h0M246.1 26.1h0M251.3 25.0h0M250.3 28.6h0M253.3 47.8h0M238.4 27.9h0M239.7 30.2h0M250.8 26.3h0M246.0 31.5h0M227.4 27.9h0M250.7 27.6h0M252.7 27.4h0M253.0 24.7h0M245.1 38.2h0M246.9 36.5h0M251.7 44.3h0M247.0 27.9h0M250.1 43.3h0M228.8 29.4h0M248.2 44.8h0M246.2 33.6h0M253.3 27.5h0M250.3 44.1h0M241.4 27.5h0M250.6 46.1h0M248.6 25.8h0M249.5 40.6h0M253.2 35.2h0M234.6 33.9h0M248.7 32.3h0M246.7 39.9h0M251.2 41.4h0M250.8 41.2h0M238.3 28.8h0M248.0 31.5h0M245.3 41.7h0M235.5 30.3h0M244.7 41.0h0M251.8 49.3h0M247.5 39.2h0M241.3 38.3h0M238.6 28.9h0M241.6 35.1h0M249.5 49.2h0M241.5 26.8h0M245.5 36.4h0M251.4 37.0h0M237.6 34.4h0M236.9 31.0h0M241.0 35.3h0M247.8 37.4h0M230.6 30.8h0M244.4 44.2h0M242.9 30.4h0M250.7 50.0h0M249.8 46.4h0M243.1 30.1h0M229.1 28.8h0M249.2 45.3h0M228.4 27.8h0M249.3 39.7h0M251.4 44.0h0M253.4 31.4h0M242.1 39.3h0M240.5 28.5h0M247.9 27.8h0M244.2 28.4h0M243.7 30.2h0M247.2 48.8h0M226.2 27.4h0M235.3 28.6h0M249.7 26.2h0M244.3 27.3h0M245.0 26.9h0M241.9 26.5h0M245.4 42.5h0M242.9 34.0h0M249.9 25.0h0M241.8 38.5h0M252.7 45.2h0M232.8 34.0h0M243.3 33.9h0M239.1 27.2h0M252.5 27.1h0M248.3 39.9h0M249.5 29.0h0M243.1 30.7h0M247.1 27.4h0M242.7 39.5h0M231.3 29.1h0M243.0 34.6h0M227.4 28.8h0M234.6 31.8h0M248.8 38.6h0M252.0 40.6h0M244.7 35.2h0M250.3 35.9h0M229.9 29.5h0M249.2 24.8h0M245.8 36.3h0M244.9 35.0h0M242.7 32.8h0M239.5 34.9h0M249.9 47.2h0M234.6 33.2h0M249.4 33.4h0M252.6 36.9h0M251.2 26.8h0M251.0 48.3h0M240.1 36.3h0M254.3 34.1h0M252.8 45.8h0M250.3 42.0h0M251.4 36.6h0M231.4 29.6h0M230.5 31.8h0M246.1 26.9h0M250.4 28.6h0M242.2 40.3h0M242.0 40.0h0M237.0 29.9h0M245.8 41.7h0M253.9 30.4h0M254.6 36.0h0M250.7 36.0h0M252.2 43.1h0M254.3 28.8h0M230.7 33.2h0M239.0 27.2h0M249.5 27.6h0M241.6 30.9h0M244.8 26.5h0M245.5 30.0h0M252.2 28.1h0M227.2 28.4h0M244.4 28.8h0M252.0 49.1h0M248.7 45.1h0M248.6 46.6h0M248.8 36.0h0M246.5 39.7h0M232.4 30.5h0M246.4 49.0h0M244.5 27.3h0M247.9 35.0h0M246.2 32.6h0M235.0 28.0h0M246.1 33.9h0M249.8 42.0h0M245.8 32.5h0M237.4 31.5h0M247.8 44.0h0M254.7 29.8h0M232.3 32.4h0M249.6 45.0h0M244.5 30.7h0M229.8 30.4h0M250.7 47.0h0M247.1 38.5h0M249.1 26.1h0M254.0 39.5h0M244.4 29.2h0M246.7 28.3h0M234.8 32.9h0M251.3 39.1h0M246.9 39.2h0M253.8 36.6h0M234.6 31.7h0M227.4 30.3h0M247.3 33.8h0M251.3 25.5h0M246.1 28.9h0M249.9 40.4h0M249.2 49.9h0M245.8 42.1h0M234.5 30.9h0M243.3 31.0h0M252.3 37.8h0M247.4 32.9h0" stroke="#16b4bc" stroke-width="0.95" stroke-linecap="round" fill="none" opacity="1"/>
<path d="M168.4 61.9h0M166.8 60.6h0M165.1 62.0h0M169.2 60.5h0M166.2 64.8h0M164.9 62.6h0M170.6 60.7h0M164.1 62.8h0M168.7 63.4h0M164.4 61.5h0M165.1 61.3h0M162.6 61.5h0M162.2 60.6h0M166.8 61.5h0M164.3 62.1h0M168.6 61.1h0M165.2 64.9h0M168.0 62.2h0M163.7 60.9h0M169.8 61.3h0M167.4 60.7h0M167.5 64.3h0M166.8 62.4h0M168.8 62.3h0M167.3 61.3h0M162.7 60.8h0M167.4 62.6h0M167.9 63.6h0M170.0 61.5h0M167.8 64.7h0M162.6 60.4h0M164.5 63.4h0M162.3 60.7h0M164.1 62.8h0M163.5 60.0h0M163.4 62.2h0M170.9 60.6h0M165.2 64.7h0M165.0 63.3h0M169.4 61.5h0" stroke="#f06a62" stroke-width="0.9" stroke-linecap="round" fill="none" opacity="1"/>
<line x1="156.3" y1="18" x2="156.3" y2="113" stroke="#a8a8a8" stroke-width="0.9"/>
<line x1="156.3" y1="113" x2="259" y2="113" stroke="#a8a8a8" stroke-width="0.9"/>
<line x1="154.4" y1="21.6" x2="156.3" y2="21.6" stroke="#a8a8a8" stroke-width="0.6"/>
<text x="153.4" y="23.900000000000002" font-size="6.5" text-anchor="end" fill="#4d4d4d" stroke="#4d4d4d" stroke-width="0.14">6</text>
<line x1="154.4" y1="43.7" x2="156.3" y2="43.7" stroke="#a8a8a8" stroke-width="0.6"/>
<text x="153.4" y="46.0" font-size="6.5" text-anchor="end" fill="#4d4d4d" stroke="#4d4d4d" stroke-width="0.14">3</text>
<line x1="154.4" y1="65.6" x2="156.3" y2="65.6" stroke="#a8a8a8" stroke-width="0.6"/>
<text x="153.4" y="67.89999999999999" font-size="6.5" text-anchor="end" fill="#4d4d4d" stroke="#4d4d4d" stroke-width="0.14">0</text>
<line x1="154.4" y1="87.3" x2="156.3" y2="87.3" stroke="#a8a8a8" stroke-width="0.6"/>
<text x="153.4" y="89.6" font-size="6.5" text-anchor="end" fill="#4d4d4d" stroke="#4d4d4d" stroke-width="0.14">−3</text>
<line x1="154.4" y1="109.3" x2="156.3" y2="109.3" stroke="#a8a8a8" stroke-width="0.6"/>
<text x="153.4" y="111.6" font-size="6.5" text-anchor="end" fill="#4d4d4d" stroke="#4d4d4d" stroke-width="0.14">−6</text>
<line x1="175.6" y1="113" x2="175.6" y2="114.8" stroke="#a8a8a8" stroke-width="0.6"/>
<text x="175.6" y="121.2" font-size="6.5" text-anchor="middle" fill="#4d4d4d" stroke="#4d4d4d" stroke-width="0.14">−8</text>
<line x1="204.4" y1="113" x2="204.4" y2="114.8" stroke="#a8a8a8" stroke-width="0.6"/>
<text x="204.4" y="121.2" font-size="6.5" text-anchor="middle" fill="#4d4d4d" stroke="#4d4d4d" stroke-width="0.14">−4</text>
<line x1="233.7" y1="113" x2="233.7" y2="114.8" stroke="#a8a8a8" stroke-width="0.6"/>
<text x="233.7" y="121.2" font-size="6.5" text-anchor="middle" fill="#4d4d4d" stroke="#4d4d4d" stroke-width="0.14">0</text>
<text x="216.2" y="128.8" font-size="7" text-anchor="middle" fill="#000" stroke="#000" stroke-width="0.14">UMAP_1</text>
<text x="143.8" y="60.4" font-size="7" text-anchor="middle" fill="#000" transform="rotate(-90 143.8 60.4)" stroke="#000" stroke-width="0.14">UMAP_2</text>
<circle cx="164.5" cy="22.8" r="1.6" fill="#f8766d"/>
<text x="168" y="24.900000000000002" font-size="6" text-anchor="start" fill="#000" stroke="#000" stroke-width="0.14">Neutrophil</text>
<circle cx="164.5" cy="30.700000000000003" r="1.6" fill="#7cae00"/>
<text x="168" y="32.800000000000004" font-size="6" text-anchor="start" fill="#000" stroke="#000" stroke-width="0.14">Monocyte</text>
<circle cx="164.5" cy="38.6" r="1.6" fill="#00bfc4"/>
<text x="168" y="40.7" font-size="6" text-anchor="start" fill="#000" stroke="#000" stroke-width="0.14">M1</text>
<circle cx="164.5" cy="46.5" r="1.6" fill="#c77cff"/>
<text x="168" y="48.6" font-size="6" text-anchor="start" fill="#000" stroke="#000" stroke-width="0.14">M2</text>
<text x="0" y="148" font-size="10" text-anchor="start" fill="#000" font-weight="bold">C</text>
<line x1="20.1" y1="154" x2="20.1" y2="241.5" stroke="#a8a8a8" stroke-width="0.9"/>
<line x1="20.1" y1="241.5" x2="138" y2="241.5" stroke="#a8a8a8" stroke-width="0.9"/>
<text x="18.9" y="241.3" font-size="4.7" text-anchor="middle" fill="#333" transform="rotate(-90 18.9 241.3)" stroke="#333" stroke-width="0.08">0</text>
<text x="18.9" y="211.9" font-size="4.7" text-anchor="middle" fill="#333" transform="rotate(-90 18.9 211.9)" stroke="#333" stroke-width="0.08">20</text>
<text x="18.9" y="182.4" font-size="4.7" text-anchor="middle" fill="#333" transform="rotate(-90 18.9 182.4)" stroke="#333" stroke-width="0.08">40</text>
<text x="11.0" y="195.4" font-size="5.2" text-anchor="middle" fill="#333" transform="rotate(-90 11.0 195.4)" stroke="#333" stroke-width="0.14">Percentage (%)</text>
<rect x="24.60" y="237.20" width="6.18" height="4.10" fill="#e41a1c"/>
<rect x="30.78" y="237.20" width="6.18" height="4.10" fill="#377eb8"/>
<rect x="36.96" y="234.10" width="6.18" height="7.20" fill="#4daf4a"/>
<rect x="43.14" y="237.20" width="6.18" height="4.10" fill="#984ea3"/>
<line x1="36.96" y1="241.5" x2="36.96" y2="243" stroke="#a8a8a8" stroke-width="0.6"/>
<rect x="53.30" y="158.20" width="6.18" height="83.10" fill="#e41a1c"/>
<rect x="59.48" y="161.10" width="6.18" height="80.20" fill="#377eb8"/>
<rect x="65.66" y="181.70" width="6.18" height="59.60" fill="#4daf4a"/>
<rect x="71.84" y="199.30" width="6.18" height="42.00" fill="#984ea3"/>
<line x1="65.66" y1="241.5" x2="65.66" y2="243" stroke="#a8a8a8" stroke-width="0.6"/>
<rect x="82.00" y="199.30" width="6.18" height="42.00" fill="#e41a1c"/>
<rect x="88.18" y="200.70" width="6.18" height="40.60" fill="#377eb8"/>
<rect x="94.36" y="193.40" width="6.18" height="47.90" fill="#4daf4a"/>
<rect x="100.54" y="174.30" width="6.18" height="67.00" fill="#984ea3"/>
<line x1="94.36" y1="241.5" x2="94.36" y2="243" stroke="#a8a8a8" stroke-width="0.6"/>
<rect x="110.70" y="225.60" width="6.18" height="15.70" fill="#e41a1c"/>
<rect x="116.88" y="221.20" width="6.18" height="20.10" fill="#377eb8"/>
<rect x="123.06" y="211.00" width="6.18" height="30.30" fill="#4daf4a"/>
<rect x="129.24" y="209.50" width="6.18" height="31.80" fill="#984ea3"/>
<line x1="123.05999999999999" y1="241.5" x2="123.05999999999999" y2="243" stroke="#a8a8a8" stroke-width="0.6"/>
<text x="37.2" y="242.8" font-size="5.2" text-anchor="end" fill="#666" transform="rotate(-90 37.2 242.8)" stroke="#666" stroke-width="0.14">Neutrophil</text>
<text x="65.7" y="242.8" font-size="5.2" text-anchor="end" fill="#666" transform="rotate(-90 65.7 242.8)" stroke="#666" stroke-width="0.14">Monocyte</text>
<text x="94.60000000000001" y="242.8" font-size="5.2" text-anchor="end" fill="#666" transform="rotate(-90 94.60000000000001 242.8)" stroke="#666" stroke-width="0.14">M1</text>
<text x="123.3" y="242.8" font-size="5.2" text-anchor="end" fill="#666" transform="rotate(-90 123.3 242.8)" stroke="#666" stroke-width="0.14">M2</text>
<rect x="10.00" y="280.00" width="6.75" height="6.75" fill="#e41a1c"/>
<text x="19.5" y="285.3" font-size="5.6" text-anchor="start" fill="#111" stroke="#111" stroke-width="0.05">IgG</text>
<rect x="10.00" y="291.25" width="6.75" height="6.75" fill="#377eb8"/>
<text x="19.5" y="296.55" font-size="5.6" text-anchor="start" fill="#111" stroke="#111" stroke-width="0.05">IL21-αHSA</text>
<rect x="60.00" y="280.00" width="6.75" height="6.75" fill="#4daf4a"/>
<text x="69.5" y="285.3" font-size="5.6" text-anchor="start" fill="#111" stroke="#111" stroke-width="0.05">α-PD1</text>
<rect x="60.00" y="291.25" width="6.75" height="6.75" fill="#984ea3"/>
<text x="69.5" y="296.55" font-size="5.6" text-anchor="start" fill="#111" stroke="#111" stroke-width="0.05">IL21-αHSA+α-PD1</text>
<text x="149.9" y="148" font-size="10" text-anchor="start" fill="#000" font-weight="bold">D</text>
<line x1="210.5" y1="145.4" x2="210.5" y2="262.5" stroke="#a8a8a8" stroke-width="0.9"/>
<line x1="210.5" y1="262.5" x2="243.1" y2="262.5" stroke="#a8a8a8" stroke-width="0.9"/>
<line x1="208.9" y1="151.1" x2="210.5" y2="151.1" stroke="#a8a8a8" stroke-width="0.5"/>
<text x="205.9" y="152.4" font-size="3.6" text-anchor="end" fill="#222">M2_IgG</text>
<circle cx="226.7" cy="151.1" r="2.6" fill="#a50f26"/>
<line x1="208.9" y1="160.7" x2="210.5" y2="160.7" stroke="#a8a8a8" stroke-width="0.5"/>
<text x="205.9" y="162.0" font-size="3.6" text-anchor="end" fill="#222">M2_IL21-αHSA+α-PD1</text>
<circle cx="226.7" cy="160.7" r="2.5" fill="#f2f2f2"/>
<line x1="208.9" y1="170.29999999999998" x2="210.5" y2="170.29999999999998" stroke="#a8a8a8" stroke-width="0.5"/>
<text x="205.9" y="171.6" font-size="3.6" text-anchor="end" fill="#222">M2_PD1</text>
<circle cx="226.7" cy="170.29999999999998" r="2.6" fill="#f9dccb"/>
<line x1="208.9" y1="179.89999999999998" x2="210.5" y2="179.89999999999998" stroke="#a8a8a8" stroke-width="0.5"/>
<text x="205.9" y="181.2" font-size="3.6" text-anchor="end" fill="#222">M2_IL21-αHSA</text>
<circle cx="226.7" cy="179.89999999999998" r="2.5" fill="#c9ddeb"/>
<line x1="208.9" y1="189.5" x2="210.5" y2="189.5" stroke="#a8a8a8" stroke-width="0.5"/>
<text x="205.9" y="190.8" font-size="3.6" text-anchor="end" fill="#222">M1_IgG</text>
<circle cx="226.7" cy="189.5" r="0.6" fill="#2e6aae"/>
<line x1="208.9" y1="199.1" x2="210.5" y2="199.1" stroke="#a8a8a8" stroke-width="0.5"/>
<text x="205.9" y="200.4" font-size="3.6" text-anchor="end" fill="#222">M1_IL21-αHSA+α-PD1</text>
<circle cx="226.7" cy="199.1" r="2.7" fill="#a50f26"/>
<line x1="208.9" y1="208.7" x2="210.5" y2="208.7" stroke="#a8a8a8" stroke-width="0.5"/>
<text x="205.9" y="210.0" font-size="3.6" text-anchor="end" fill="#222">M1_PD1</text>
<circle cx="226.7" cy="208.7" r="1.0" fill="#2e6aae"/>
<line x1="208.9" y1="218.3" x2="210.5" y2="218.3" stroke="#a8a8a8" stroke-width="0.5"/>
<text x="205.9" y="219.60000000000002" font-size="3.6" text-anchor="end" fill="#222">M1_IL21-αHSA</text>
<circle cx="226.7" cy="218.3" r="2.6" fill="#f9dccb"/>
<line x1="208.9" y1="227.89999999999998" x2="210.5" y2="227.89999999999998" stroke="#a8a8a8" stroke-width="0.5"/>
<text x="205.9" y="229.2" font-size="3.6" text-anchor="end" fill="#222">Monocyte_IgG</text>
<circle cx="226.7" cy="227.89999999999998" r="0.8" fill="#3a72b0"/>
<line x1="208.9" y1="237.5" x2="210.5" y2="237.5" stroke="#a8a8a8" stroke-width="0.5"/>
<text x="205.9" y="238.8" font-size="3.6" text-anchor="end" fill="#222">Monocyte_IL21-αHSA+α-PD1</text>
<circle cx="226.7" cy="237.5" r="1.2" fill="#f7cdb5"/>
<line x1="208.9" y1="247.1" x2="210.5" y2="247.1" stroke="#a8a8a8" stroke-width="0.5"/>
<text x="205.9" y="248.4" font-size="3.6" text-anchor="end" fill="#222">Monocyte_α-PD1</text>
<circle cx="226.7" cy="247.1" r="0.8" fill="#eef3f7"/>
<line x1="208.9" y1="256.7" x2="210.5" y2="256.7" stroke="#a8a8a8" stroke-width="0.5"/>
<text x="205.9" y="258.0" font-size="3.6" text-anchor="end" fill="#222">Monocyte_IL21-αHSA</text>
<circle cx="226.7" cy="256.7" r="1.8" fill="#d0483a"/>
<line x1="226.7" y1="262.5" x2="226.7" y2="264" stroke="#a8a8a8" stroke-width="0.5"/>
<text x="228.6" y="266.9" font-size="5.3" text-anchor="end" fill="#000" transform="rotate(-90 228.6 266.9)" stroke="#000" stroke-width="0.14">Il21r</text>
<text x="188" y="285.5" font-size="4.2" text-anchor="middle" fill="#000">Percent Expressed</text>
<circle cx="177.7" cy="290.8" r="0.5" fill="#000"/>
<text x="178.89999999999998" y="294.2" font-size="3.5" text-anchor="end" fill="#333" transform="rotate(-90 178.89999999999998 294.2)">12.5</text>
<circle cx="182.89999999999998" cy="290.8" r="0.9" fill="#000"/>
<text x="184.09999999999997" y="294.2" font-size="3.5" text-anchor="end" fill="#333" transform="rotate(-90 184.09999999999997 294.2)">15.0</text>
<circle cx="188.1" cy="290.8" r="1.3" fill="#000"/>
<text x="189.29999999999998" y="294.2" font-size="3.5" text-anchor="end" fill="#333" transform="rotate(-90 189.29999999999998 294.2)">17.5</text>
<circle cx="193.29999999999998" cy="290.8" r="1.7" fill="#000"/>
<text x="194.49999999999997" y="294.2" font-size="3.5" text-anchor="end" fill="#333" transform="rotate(-90 194.49999999999997 294.2)">20.0</text>
<circle cx="198.5" cy="290.8" r="2.2" fill="#000"/>
<text x="199.7" y="294.2" font-size="3.5" text-anchor="end" fill="#333" transform="rotate(-90 199.7 294.2)">22.5</text>
<defs><linearGradient id="cb" x1="0" x2="1"><stop offset="0" stop-color="#2166ac"/><stop offset="0.25" stop-color="#92c5de"/><stop offset="0.5" stop-color="#f7f7f7"/><stop offset="0.75" stop-color="#f4a582"/><stop offset="1" stop-color="#b2182b"/></linearGradient></defs>
<text x="233.5" y="285.8" font-size="4.2" text-anchor="middle" fill="#000">Average Expression</text>
<rect x="220.10" y="289.20" width="26.40" height="3.20" fill="url(#cb)"/>
<text x="223.7" y="294.2" font-size="3.5" text-anchor="end" fill="#333" transform="rotate(-90 223.7 294.2)">−1.0</text>
<text x="228.64999999999998" y="294.2" font-size="3.5" text-anchor="end" fill="#333" transform="rotate(-90 228.64999999999998 294.2)">−0.5</text>
<text x="233.6" y="294.2" font-size="3.5" text-anchor="end" fill="#333" transform="rotate(-90 233.6 294.2)">0.0</text>
<text x="238.54999999999998" y="294.2" font-size="3.5" text-anchor="end" fill="#333" transform="rotate(-90 238.54999999999998 294.2)">0.5</text>
<text x="243.5" y="294.2" font-size="3.5" text-anchor="end" fill="#333" transform="rotate(-90 243.5 294.2)">1.0</text>
<defs><filter id="sb" x="-5%" y="-5%" width="110%" height="110%"><feGaussianBlur stdDeviation="0.28"/></filter></defs>
<g>
<rect x="292.70" y="17.90" width="5.02" height="3.017" fill="#fc8d59"/>
<rect x="297.72" y="17.90" width="5.02" height="3.017" fill="#4575b4"/>
<rect x="302.74" y="17.90" width="5.02" height="3.017" fill="#fef0a8"/>
<rect x="307.76" y="17.90" width="5.02" height="3.017" fill="#fef0a8"/>
<rect x="292.70" y="20.92" width="5.02" height="3.017" fill="#fdb674"/>
<rect x="297.72" y="20.92" width="5.02" height="3.017" fill="#4575b4"/>
<rect x="302.74" y="20.92" width="5.02" height="3.017" fill="#ffffbf"/>
<rect x="307.76" y="20.92" width="5.02" height="3.017" fill="#fdb674"/>
<rect x="292.70" y="23.93" width="5.02" height="3.017" fill="#fc8d59"/>
<rect x="297.72" y="23.93" width="5.02" height="3.017" fill="#5c8bc0"/>
<rect x="302.74" y="23.93" width="5.02" height="3.017" fill="#ffffbf"/>
<rect x="307.76" y="23.93" width="5.02" height="3.017" fill="#fee090"/>
<rect x="292.70" y="26.95" width="5.02" height="3.017" fill="#fc8d59"/>
<rect x="297.72" y="26.95" width="5.02" height="3.017" fill="#4575b4"/>
<rect x="302.74" y="26.95" width="5.02" height="3.017" fill="#ffffbf"/>
<rect x="307.76" y="26.95" width="5.02" height="3.017" fill="#fee090"/>
<rect x="292.70" y="29.97" width="5.02" height="3.017" fill="#ea5e40"/>
<rect x="297.72" y="29.97" width="5.02" height="3.017" fill="#91bfdb"/>
<rect x="302.74" y="29.97" width="5.02" height="3.017" fill="#fee090"/>
<rect x="307.76" y="29.97" width="5.02" height="3.017" fill="#d8eef5"/>
<rect x="292.70" y="32.98" width="5.02" height="3.017" fill="#ea5e40"/>
<rect x="297.72" y="32.98" width="5.02" height="3.017" fill="#91bfdb"/>
<rect x="302.74" y="32.98" width="5.02" height="3.017" fill="#ffffbf"/>
<rect x="307.76" y="32.98" width="5.02" height="3.017" fill="#ffffbf"/>
<rect x="292.70" y="36.00" width="5.02" height="3.017" fill="#ea5e40"/>
<rect x="297.72" y="36.00" width="5.02" height="3.017" fill="#91bfdb"/>
<rect x="302.74" y="36.00" width="5.02" height="3.017" fill="#fef0a8"/>
<rect x="307.76" y="36.00" width="5.02" height="3.017" fill="#ffffbf"/>
<rect x="292.70" y="39.02" width="5.02" height="3.017" fill="#d73027"/>
<rect x="297.72" y="39.02" width="5.02" height="3.017" fill="#d8eef5"/>
<rect x="302.74" y="39.02" width="5.02" height="3.017" fill="#91bfdb"/>
<rect x="307.76" y="39.02" width="5.02" height="3.017" fill="#ffffbf"/>
<rect x="292.70" y="42.04" width="5.02" height="3.017" fill="#d73027"/>
<rect x="297.72" y="42.04" width="5.02" height="3.017" fill="#ffffbf"/>
<rect x="302.74" y="42.04" width="5.02" height="3.017" fill="#91bfdb"/>
<rect x="307.76" y="42.04" width="5.02" height="3.017" fill="#f0f9dc"/>
<rect x="292.70" y="45.05" width="5.02" height="3.017" fill="#ea5e40"/>
<rect x="297.72" y="45.05" width="5.02" height="3.017" fill="#91bfdb"/>
<rect x="302.74" y="45.05" width="5.02" height="3.017" fill="#9dc7df"/>
<rect x="307.76" y="45.05" width="5.02" height="3.017" fill="#fee090"/>
<rect x="292.70" y="48.07" width="5.02" height="3.017" fill="#fc8d59"/>
<rect x="297.72" y="48.07" width="5.02" height="3.017" fill="#9dc7df"/>
<rect x="302.74" y="48.07" width="5.02" height="3.017" fill="#91bfdb"/>
<rect x="307.76" y="48.07" width="5.02" height="3.017" fill="#fc8d59"/>
<rect x="292.70" y="51.09" width="5.02" height="3.017" fill="#fef0a8"/>
<rect x="297.72" y="51.09" width="5.02" height="3.017" fill="#d73027"/>
<rect x="302.74" y="51.09" width="5.02" height="3.017" fill="#91bfdb"/>
<rect x="307.76" y="51.09" width="5.02" height="3.017" fill="#d8eef5"/>
<rect x="292.70" y="54.10" width="5.02" height="3.017" fill="#fee090"/>
<rect x="297.72" y="54.10" width="5.02" height="3.017" fill="#ea5e40"/>
<rect x="302.74" y="54.10" width="5.02" height="3.017" fill="#5c8bc0"/>
<rect x="307.76" y="54.10" width="5.02" height="3.017" fill="#ffffbf"/>
<rect x="292.70" y="57.12" width="5.02" height="3.017" fill="#fee090"/>
<rect x="297.72" y="57.12" width="5.02" height="3.017" fill="#fc8d59"/>
<rect x="302.74" y="57.12" width="5.02" height="3.017" fill="#5c8bc0"/>
<rect x="307.76" y="57.12" width="5.02" height="3.017" fill="#d8eef5"/>
<rect x="292.70" y="60.14" width="5.02" height="3.017" fill="#fdb674"/>
<rect x="297.72" y="60.14" width="5.02" height="3.017" fill="#fc8d59"/>
<rect x="302.74" y="60.14" width="5.02" height="3.017" fill="#5c8bc0"/>
<rect x="307.76" y="60.14" width="5.02" height="3.017" fill="#d8eef5"/>
<rect x="292.70" y="63.15" width="5.02" height="3.017" fill="#fee090"/>
<rect x="297.72" y="63.15" width="5.02" height="3.017" fill="#fc8d59"/>
<rect x="302.74" y="63.15" width="5.02" height="3.017" fill="#91bfdb"/>
<rect x="307.76" y="63.15" width="5.02" height="3.017" fill="#f0f9dc"/>
<rect x="292.70" y="66.17" width="5.02" height="3.017" fill="#fdb674"/>
<rect x="297.72" y="66.17" width="5.02" height="3.017" fill="#fc8d59"/>
<rect x="302.74" y="66.17" width="5.02" height="3.017" fill="#91bfdb"/>
<rect x="307.76" y="66.17" width="5.02" height="3.017" fill="#d8eef5"/>
<rect x="292.70" y="69.19" width="5.02" height="3.017" fill="#fdb674"/>
<rect x="297.72" y="69.19" width="5.02" height="3.017" fill="#fc8d59"/>
<rect x="302.74" y="69.19" width="5.02" height="3.017" fill="#91bfdb"/>
<rect x="307.76" y="69.19" width="5.02" height="3.017" fill="#d8eef5"/>
<rect x="292.70" y="72.21" width="5.02" height="3.017" fill="#fc8d59"/>
<rect x="297.72" y="72.21" width="5.02" height="3.017" fill="#fef0a8"/>
<rect x="302.74" y="72.21" width="5.02" height="3.017" fill="#4575b4"/>
<rect x="307.76" y="72.21" width="5.02" height="3.017" fill="#ffffbf"/>
<rect x="292.70" y="75.22" width="5.02" height="3.017" fill="#ea5e40"/>
<rect x="297.72" y="75.22" width="5.02" height="3.017" fill="#ffffbf"/>
<rect x="302.74" y="75.22" width="5.02" height="3.017" fill="#91bfdb"/>
<rect x="307.76" y="75.22" width="5.02" height="3.017" fill="#d8eef5"/>
<rect x="292.70" y="78.24" width="5.02" height="3.017" fill="#d73027"/>
<rect x="297.72" y="78.24" width="5.02" height="3.017" fill="#f0f9dc"/>
<rect x="302.74" y="78.24" width="5.02" height="3.017" fill="#fef0a8"/>
<rect x="307.76" y="78.24" width="5.02" height="3.017" fill="#91bfdb"/>
<rect x="292.70" y="81.26" width="5.02" height="3.017" fill="#ea5e40"/>
<rect x="297.72" y="81.26" width="5.02" height="3.017" fill="#9dc7df"/>
<rect x="302.74" y="81.26" width="5.02" height="3.017" fill="#fee090"/>
<rect x="307.76" y="81.26" width="5.02" height="3.017" fill="#91bfdb"/>
<rect x="292.70" y="84.27" width="5.02" height="3.017" fill="#ea5e40"/>
<rect x="297.72" y="84.27" width="5.02" height="3.017" fill="#9dc7df"/>
<rect x="302.74" y="84.27" width="5.02" height="3.017" fill="#fee090"/>
<rect x="307.76" y="84.27" width="5.02" height="3.017" fill="#91bfdb"/>
<rect x="292.70" y="87.29" width="5.02" height="3.017" fill="#ea5e40"/>
<rect x="297.72" y="87.29" width="5.02" height="3.017" fill="#f0f9dc"/>
<rect x="302.74" y="87.29" width="5.02" height="3.017" fill="#fef0a8"/>
<rect x="307.76" y="87.29" width="5.02" height="3.017" fill="#91bfdb"/>
<rect x="292.70" y="90.31" width="5.02" height="3.017" fill="#d73027"/>
<rect x="297.72" y="90.31" width="5.02" height="3.017" fill="#f0f9dc"/>
<rect x="302.74" y="90.31" width="5.02" height="3.017" fill="#fee090"/>
<rect x="307.76" y="90.31" width="5.02" height="3.017" fill="#91bfdb"/>
<rect x="292.70" y="93.32" width="5.02" height="3.017" fill="#d73027"/>
<rect x="297.72" y="93.32" width="5.02" height="3.017" fill="#fef0a8"/>
<rect x="302.74" y="93.32" width="5.02" height="3.017" fill="#9dc7df"/>
<rect x="307.76" y="93.32" width="5.02" height="3.017" fill="#91bfdb"/>
<rect x="292.70" y="96.34" width="5.02" height="3.017" fill="#fc8d59"/>
<rect x="297.72" y="96.34" width="5.02" height="3.017" fill="#fee090"/>
<rect x="302.74" y="96.34" width="5.02" height="3.017" fill="#d8eef5"/>
<rect x="307.76" y="96.34" width="5.02" height="3.017" fill="#4575b4"/>
<rect x="292.70" y="99.36" width="5.02" height="3.017" fill="#ea5e40"/>
<rect x="297.72" y="99.36" width="5.02" height="3.017" fill="#fef0a8"/>
<rect x="302.74" y="99.36" width="5.02" height="3.017" fill="#f0f9dc"/>
<rect x="307.76" y="99.36" width="5.02" height="3.017" fill="#4575b4"/>
<rect x="292.70" y="102.38" width="5.02" height="3.017" fill="#fc8d59"/>
<rect x="297.72" y="102.38" width="5.02" height="3.017" fill="#fef0a8"/>
<rect x="302.74" y="102.38" width="5.02" height="3.017" fill="#f0f9dc"/>
<rect x="307.76" y="102.38" width="5.02" height="3.017" fill="#4575b4"/>
<rect x="292.70" y="105.39" width="5.02" height="3.017" fill="#fc8d59"/>
<rect x="297.72" y="105.39" width="5.02" height="3.017" fill="#fef0a8"/>
<rect x="302.74" y="105.39" width="5.02" height="3.017" fill="#d8eef5"/>
<rect x="307.76" y="105.39" width="5.02" height="3.017" fill="#4575b4"/>
<rect x="292.70" y="108.41" width="5.02" height="3.017" fill="#fc8d59"/>
<rect x="297.72" y="108.41" width="5.02" height="3.017" fill="#fef0a8"/>
<rect x="302.74" y="108.41" width="5.02" height="3.017" fill="#ffffbf"/>
<rect x="307.76" y="108.41" width="5.02" height="3.017" fill="#4575b4"/>
<rect x="292.70" y="111.43" width="5.02" height="3.017" fill="#fee090"/>
<rect x="297.72" y="111.43" width="5.02" height="3.017" fill="#fef0a8"/>
<rect x="302.74" y="111.43" width="5.02" height="3.017" fill="#fee090"/>
<rect x="307.76" y="111.43" width="5.02" height="3.017" fill="#4575b4"/>
<rect x="292.70" y="114.44" width="5.02" height="3.017" fill="#fdb674"/>
<rect x="297.72" y="114.44" width="5.02" height="3.017" fill="#fef0a8"/>
<rect x="302.74" y="114.44" width="5.02" height="3.017" fill="#fee090"/>
<rect x="307.76" y="114.44" width="5.02" height="3.017" fill="#4575b4"/>
<rect x="292.70" y="117.46" width="5.02" height="3.017" fill="#fef0a8"/>
<rect x="297.72" y="117.46" width="5.02" height="3.017" fill="#fdb674"/>
<rect x="302.74" y="117.46" width="5.02" height="3.017" fill="#ffffbf"/>
<rect x="307.76" y="117.46" width="5.02" height="3.017" fill="#4575b4"/>
<rect x="292.70" y="120.48" width="5.02" height="3.017" fill="#fef0a8"/>
<rect x="297.72" y="120.48" width="5.02" height="3.017" fill="#fee090"/>
<rect x="302.74" y="120.48" width="5.02" height="3.017" fill="#fef0a8"/>
<rect x="307.76" y="120.48" width="5.02" height="3.017" fill="#4575b4"/>
<rect x="292.70" y="123.49" width="5.02" height="3.017" fill="#fee090"/>
<rect x="297.72" y="123.49" width="5.02" height="3.017" fill="#fef0a8"/>
<rect x="302.74" y="123.49" width="5.02" height="3.017" fill="#ffffbf"/>
<rect x="307.76" y="123.49" width="5.02" height="3.017" fill="#4575b4"/>
<rect x="292.70" y="126.51" width="5.02" height="3.017" fill="#fef0a8"/>
<rect x="297.72" y="126.51" width="5.02" height="3.017" fill="#fc8d59"/>
<rect x="302.74" y="126.51" width="5.02" height="3.017" fill="#ffffbf"/>
<rect x="307.76" y="126.51" width="5.02" height="3.017" fill="#4575b4"/>
<rect x="292.70" y="129.53" width="5.02" height="3.017" fill="#fef0a8"/>
<rect x="297.72" y="129.53" width="5.02" height="3.017" fill="#fdb674"/>
<rect x="302.74" y="129.53" width="5.02" height="3.017" fill="#ffffbf"/>
<rect x="307.76" y="129.53" width="5.02" height="3.017" fill="#4575b4"/>
<rect x="292.70" y="132.55" width="5.02" height="3.017" fill="#fef0a8"/>
<rect x="297.72" y="132.55" width="5.02" height="3.017" fill="#fee090"/>
<rect x="302.74" y="132.55" width="5.02" height="3.017" fill="#ffffbf"/>
<rect x="307.76" y="132.55" width="5.02" height="3.017" fill="#4575b4"/>
<rect x="292.70" y="135.56" width="5.02" height="3.017" fill="#fee090"/>
<rect x="297.72" y="135.56" width="5.02" height="3.017" fill="#fee090"/>
<rect x="302.74" y="135.56" width="5.02" height="3.017" fill="#ffffbf"/>
<rect x="307.76" y="135.56" width="5.02" height="3.017" fill="#4575b4"/>
<rect x="292.70" y="138.58" width="5.02" height="3.017" fill="#fee090"/>
<rect x="297.72" y="138.58" width="5.02" height="3.017" fill="#fee090"/>
<rect x="302.74" y="138.58" width="5.02" height="3.017" fill="#ffffbf"/>
<rect x="307.76" y="138.58" width="5.02" height="3.017" fill="#4575b4"/>
<rect x="292.70" y="141.60" width="5.02" height="3.017" fill="#9dc7df"/>
<rect x="297.72" y="141.60" width="5.02" height="3.017" fill="#9dc7df"/>
<rect x="302.74" y="141.60" width="5.02" height="3.017" fill="#d73027"/>
<rect x="307.76" y="141.60" width="5.02" height="3.017" fill="#ffffbf"/>
<rect x="292.70" y="144.61" width="5.02" height="3.017" fill="#9dc7df"/>
<rect x="297.72" y="144.61" width="5.02" height="3.017" fill="#9dc7df"/>
<rect x="302.74" y="144.61" width="5.02" height="3.017" fill="#d73027"/>
<rect x="307.76" y="144.61" width="5.02" height="3.017" fill="#fee090"/>
<rect x="292.70" y="147.63" width="5.02" height="3.017" fill="#91bfdb"/>
<rect x="297.72" y="147.63" width="5.02" height="3.017" fill="#d8eef5"/>
<rect x="302.74" y="147.63" width="5.02" height="3.017" fill="#ea5e40"/>
<rect x="307.76" y="147.63" width="5.02" height="3.017" fill="#fef0a8"/>
<rect x="292.70" y="150.65" width="5.02" height="3.017" fill="#91bfdb"/>
<rect x="297.72" y="150.65" width="5.02" height="3.017" fill="#d8eef5"/>
<rect x="302.74" y="150.65" width="5.02" height="3.017" fill="#ea5e40"/>
<rect x="307.76" y="150.65" width="5.02" height="3.017" fill="#fee090"/>
<rect x="292.70" y="153.66" width="5.02" height="3.017" fill="#9dc7df"/>
<rect x="297.72" y="153.66" width="5.02" height="3.017" fill="#f0f9dc"/>
<rect x="302.74" y="153.66" width="5.02" height="3.017" fill="#ea5e40"/>
<rect x="307.76" y="153.66" width="5.02" height="3.017" fill="#fee090"/>
<rect x="292.70" y="156.68" width="5.02" height="3.017" fill="#fee090"/>
<rect x="297.72" y="156.68" width="5.02" height="3.017" fill="#ffffbf"/>
<rect x="302.74" y="156.68" width="5.02" height="3.017" fill="#ea5e40"/>
<rect x="307.76" y="156.68" width="5.02" height="3.017" fill="#91bfdb"/>
<rect x="292.70" y="159.70" width="5.02" height="3.017" fill="#fee090"/>
<rect x="297.72" y="159.70" width="5.02" height="3.017" fill="#ffffbf"/>
<rect x="302.74" y="159.70" width="5.02" height="3.017" fill="#ea5e40"/>
<rect x="307.76" y="159.70" width="5.02" height="3.017" fill="#9dc7df"/>
<rect x="292.70" y="162.72" width="5.02" height="3.017" fill="#91bfdb"/>
<rect x="297.72" y="162.72" width="5.02" height="3.017" fill="#fee090"/>
<rect x="302.74" y="162.72" width="5.02" height="3.017" fill="#ea5e40"/>
<rect x="307.76" y="162.72" width="5.02" height="3.017" fill="#d8eef5"/>
<rect x="292.70" y="165.73" width="5.02" height="3.017" fill="#d8eef5"/>
<rect x="297.72" y="165.73" width="5.02" height="3.017" fill="#fee090"/>
<rect x="302.74" y="165.73" width="5.02" height="3.017" fill="#fc8d59"/>
<rect x="307.76" y="165.73" width="5.02" height="3.017" fill="#91bfdb"/>
<rect x="292.70" y="168.75" width="5.02" height="3.017" fill="#9dc7df"/>
<rect x="297.72" y="168.75" width="5.02" height="3.017" fill="#fee090"/>
<rect x="302.74" y="168.75" width="5.02" height="3.017" fill="#ea5e40"/>
<rect x="307.76" y="168.75" width="5.02" height="3.017" fill="#91bfdb"/>
<rect x="292.70" y="171.77" width="5.02" height="3.017" fill="#91bfdb"/>
<rect x="297.72" y="171.77" width="5.02" height="3.017" fill="#fee090"/>
<rect x="302.74" y="171.77" width="5.02" height="3.017" fill="#d8eef5"/>
<rect x="307.76" y="171.77" width="5.02" height="3.017" fill="#fc8d59"/>
<rect x="292.70" y="174.78" width="5.02" height="3.017" fill="#91bfdb"/>
<rect x="297.72" y="174.78" width="5.02" height="3.017" fill="#fee090"/>
<rect x="302.74" y="174.78" width="5.02" height="3.017" fill="#f0f9dc"/>
<rect x="307.76" y="174.78" width="5.02" height="3.017" fill="#fc8d59"/>
<rect x="292.70" y="177.80" width="5.02" height="3.017" fill="#91bfdb"/>
<rect x="297.72" y="177.80" width="5.02" height="3.017" fill="#fdb674"/>
<rect x="302.74" y="177.80" width="5.02" height="3.017" fill="#fef0a8"/>
<rect x="307.76" y="177.80" width="5.02" height="3.017" fill="#d73027"/>
<rect x="292.70" y="180.82" width="5.02" height="3.017" fill="#91bfdb"/>
<rect x="297.72" y="180.82" width="5.02" height="3.017" fill="#fef0a8"/>
<rect x="302.74" y="180.82" width="5.02" height="3.017" fill="#f0f9dc"/>
<rect x="307.76" y="180.82" width="5.02" height="3.017" fill="#ea5e40"/>
<rect x="292.70" y="183.83" width="5.02" height="3.017" fill="#91bfdb"/>
<rect x="297.72" y="183.83" width="5.02" height="3.017" fill="#fef0a8"/>
<rect x="302.74" y="183.83" width="5.02" height="3.017" fill="#d8eef5"/>
<rect x="307.76" y="183.83" width="5.02" height="3.017" fill="#ea5e40"/>
<rect x="292.70" y="186.85" width="5.02" height="3.017" fill="#9dc7df"/>
<rect x="297.72" y="186.85" width="5.02" height="3.017" fill="#fef0a8"/>
<rect x="302.74" y="186.85" width="5.02" height="3.017" fill="#9dc7df"/>
<rect x="307.76" y="186.85" width="5.02" height="3.017" fill="#ea5e40"/>
<rect x="292.70" y="189.87" width="5.02" height="3.017" fill="#91bfdb"/>
<rect x="297.72" y="189.87" width="5.02" height="3.017" fill="#fef0a8"/>
<rect x="302.74" y="189.87" width="5.02" height="3.017" fill="#d8eef5"/>
<rect x="307.76" y="189.87" width="5.02" height="3.017" fill="#ea5e40"/>
<rect x="292.70" y="192.88" width="5.02" height="3.017" fill="#91bfdb"/>
<rect x="297.72" y="192.88" width="5.02" height="3.017" fill="#fef0a8"/>
<rect x="302.74" y="192.88" width="5.02" height="3.017" fill="#d8eef5"/>
<rect x="307.76" y="192.88" width="5.02" height="3.017" fill="#ea5e40"/>
<rect x="292.70" y="195.90" width="5.02" height="3.017" fill="#91bfdb"/>
<rect x="297.72" y="195.90" width="5.02" height="3.017" fill="#fef0a8"/>
<rect x="302.74" y="195.90" width="5.02" height="3.017" fill="#f0f9dc"/>
<rect x="307.76" y="195.90" width="5.02" height="3.017" fill="#ea5e40"/>
<rect x="292.70" y="198.92" width="5.02" height="3.017" fill="#fef0a8"/>
<rect x="297.72" y="198.92" width="5.02" height="3.017" fill="#ffffbf"/>
<rect x="302.74" y="198.92" width="5.02" height="3.017" fill="#5c8bc0"/>
<rect x="307.76" y="198.92" width="5.02" height="3.017" fill="#fc8d59"/>
<rect x="292.70" y="201.94" width="5.02" height="3.017" fill="#fef0a8"/>
<rect x="297.72" y="201.94" width="5.02" height="3.017" fill="#ffffbf"/>
<rect x="302.74" y="201.94" width="5.02" height="3.017" fill="#5c8bc0"/>
<rect x="307.76" y="201.94" width="5.02" height="3.017" fill="#fc8d59"/>
<rect x="292.70" y="204.95" width="5.02" height="3.017" fill="#d8eef5"/>
<rect x="297.72" y="204.95" width="5.02" height="3.017" fill="#f0f9dc"/>
<rect x="302.74" y="204.95" width="5.02" height="3.017" fill="#f0f9dc"/>
<rect x="307.76" y="204.95" width="5.02" height="3.017" fill="#d73027"/>
<rect x="292.70" y="207.97" width="5.02" height="3.017" fill="#d8eef5"/>
<rect x="297.72" y="207.97" width="5.02" height="3.017" fill="#d8eef5"/>
<rect x="302.74" y="207.97" width="5.02" height="3.017" fill="#f0f9dc"/>
<rect x="307.76" y="207.97" width="5.02" height="3.017" fill="#d73027"/>
<rect x="292.70" y="210.99" width="5.02" height="3.017" fill="#9dc7df"/>
<rect x="297.72" y="210.99" width="5.02" height="3.017" fill="#f0f9dc"/>
<rect x="302.74" y="210.99" width="5.02" height="3.017" fill="#ffffbf"/>
<rect x="307.76" y="210.99" width="5.02" height="3.017" fill="#d73027"/>
<rect x="292.70" y="214.00" width="5.02" height="3.017" fill="#9dc7df"/>
<rect x="297.72" y="214.00" width="5.02" height="3.017" fill="#f0f9dc"/>
<rect x="302.74" y="214.00" width="5.02" height="3.017" fill="#ffffbf"/>
<rect x="307.76" y="214.00" width="5.02" height="3.017" fill="#d73027"/>
<rect x="292.70" y="217.02" width="5.02" height="3.017" fill="#91bfdb"/>
<rect x="297.72" y="217.02" width="5.02" height="3.017" fill="#d8eef5"/>
<rect x="302.74" y="217.02" width="5.02" height="3.017" fill="#ffffbf"/>
<rect x="307.76" y="217.02" width="5.02" height="3.017" fill="#d73027"/>
<rect x="292.70" y="220.04" width="5.02" height="3.017" fill="#9dc7df"/>
<rect x="297.72" y="220.04" width="5.02" height="3.017" fill="#f0f9dc"/>
<rect x="302.74" y="220.04" width="5.02" height="3.017" fill="#f0f9dc"/>
<rect x="307.76" y="220.04" width="5.02" height="3.017" fill="#ea5e40"/>
<rect x="292.70" y="223.05" width="5.02" height="3.017" fill="#f0f9dc"/>
<rect x="297.72" y="223.05" width="5.02" height="3.017" fill="#fef0a8"/>
<rect x="302.74" y="223.05" width="5.02" height="3.017" fill="#91bfdb"/>
<rect x="307.76" y="223.05" width="5.02" height="3.017" fill="#ea5e40"/>
<rect x="292.70" y="226.07" width="5.02" height="3.017" fill="#d8eef5"/>
<rect x="297.72" y="226.07" width="5.02" height="3.017" fill="#fef0a8"/>
<rect x="302.74" y="226.07" width="5.02" height="3.017" fill="#9dc7df"/>
<rect x="307.76" y="226.07" width="5.02" height="3.017" fill="#ea5e40"/>
<rect x="292.70" y="229.09" width="5.02" height="3.017" fill="#d8eef5"/>
<rect x="297.72" y="229.09" width="5.02" height="3.017" fill="#ffffbf"/>
<rect x="302.74" y="229.09" width="5.02" height="3.017" fill="#9dc7df"/>
<rect x="307.76" y="229.09" width="5.02" height="3.017" fill="#d73027"/>
<rect x="292.70" y="232.11" width="5.02" height="3.017" fill="#d8eef5"/>
<rect x="297.72" y="232.11" width="5.02" height="3.017" fill="#ffffbf"/>
<rect x="302.74" y="232.11" width="5.02" height="3.017" fill="#9dc7df"/>
<rect x="307.76" y="232.11" width="5.02" height="3.017" fill="#d73027"/>
<rect x="292.70" y="235.12" width="5.02" height="3.017" fill="#d8eef5"/>
<rect x="297.72" y="235.12" width="5.02" height="3.017" fill="#f0f9dc"/>
<rect x="302.74" y="235.12" width="5.02" height="3.017" fill="#9dc7df"/>
<rect x="307.76" y="235.12" width="5.02" height="3.017" fill="#d73027"/>
<rect x="292.70" y="238.14" width="5.02" height="3.017" fill="#d8eef5"/>
<rect x="297.72" y="238.14" width="5.02" height="3.017" fill="#ffffbf"/>
<rect x="302.74" y="238.14" width="5.02" height="3.017" fill="#9dc7df"/>
<rect x="307.76" y="238.14" width="5.02" height="3.017" fill="#d73027"/>
<rect x="292.70" y="241.16" width="5.02" height="3.017" fill="#91bfdb"/>
<rect x="297.72" y="241.16" width="5.02" height="3.017" fill="#d8eef5"/>
<rect x="302.74" y="241.16" width="5.02" height="3.017" fill="#fdb674"/>
<rect x="307.76" y="241.16" width="5.02" height="3.017" fill="#fc8d59"/>
<rect x="292.70" y="244.17" width="5.02" height="3.017" fill="#5c8bc0"/>
<rect x="297.72" y="244.17" width="5.02" height="3.017" fill="#f0f9dc"/>
<rect x="302.74" y="244.17" width="5.02" height="3.017" fill="#fdb674"/>
<rect x="307.76" y="244.17" width="5.02" height="3.017" fill="#fc8d59"/>
<rect x="292.70" y="247.19" width="5.02" height="3.017" fill="#5c8bc0"/>
<rect x="297.72" y="247.19" width="5.02" height="3.017" fill="#d8eef5"/>
<rect x="302.74" y="247.19" width="5.02" height="3.017" fill="#fdb674"/>
<rect x="307.76" y="247.19" width="5.02" height="3.017" fill="#fc8d59"/>
<rect x="292.70" y="250.21" width="5.02" height="3.017" fill="#5c8bc0"/>
<rect x="297.72" y="250.21" width="5.02" height="3.017" fill="#f0f9dc"/>
<rect x="302.74" y="250.21" width="5.02" height="3.017" fill="#fdb674"/>
<rect x="307.76" y="250.21" width="5.02" height="3.017" fill="#fc8d59"/>
<rect x="292.70" y="253.22" width="5.02" height="3.017" fill="#4575b4"/>
<rect x="297.72" y="253.22" width="5.02" height="3.017" fill="#fef0a8"/>
<rect x="302.74" y="253.22" width="5.02" height="3.017" fill="#fee090"/>
<rect x="307.76" y="253.22" width="5.02" height="3.017" fill="#ea5e40"/>
<rect x="292.70" y="256.24" width="5.02" height="3.017" fill="#5c8bc0"/>
<rect x="297.72" y="256.24" width="5.02" height="3.017" fill="#ffffbf"/>
<rect x="302.74" y="256.24" width="5.02" height="3.017" fill="#fee090"/>
<rect x="307.76" y="256.24" width="5.02" height="3.017" fill="#ea5e40"/>
<rect x="292.70" y="259.26" width="5.02" height="3.017" fill="#91bfdb"/>
<rect x="297.72" y="259.26" width="5.02" height="3.017" fill="#f0f9dc"/>
<rect x="302.74" y="259.26" width="5.02" height="3.017" fill="#fee090"/>
<rect x="307.76" y="259.26" width="5.02" height="3.017" fill="#ea5e40"/>
<rect x="292.70" y="262.28" width="5.02" height="3.017" fill="#91bfdb"/>
<rect x="297.72" y="262.28" width="5.02" height="3.017" fill="#f0f9dc"/>
<rect x="302.74" y="262.28" width="5.02" height="3.017" fill="#fef0a8"/>
<rect x="307.76" y="262.28" width="5.02" height="3.017" fill="#ea5e40"/>
<rect x="292.70" y="265.29" width="5.02" height="3.017" fill="#91bfdb"/>
<rect x="297.72" y="265.29" width="5.02" height="3.017" fill="#f0f9dc"/>
<rect x="302.74" y="265.29" width="5.02" height="3.017" fill="#fef0a8"/>
<rect x="307.76" y="265.29" width="5.02" height="3.017" fill="#ea5e40"/>
<rect x="292.70" y="268.31" width="5.02" height="3.017" fill="#d8eef5"/>
<rect x="297.72" y="268.31" width="5.02" height="3.017" fill="#9dc7df"/>
<rect x="302.74" y="268.31" width="5.02" height="3.017" fill="#ffffbf"/>
<rect x="307.76" y="268.31" width="5.02" height="3.017" fill="#d73027"/>
<rect x="292.70" y="271.33" width="5.02" height="3.017" fill="#d8eef5"/>
<rect x="297.72" y="271.33" width="5.02" height="3.017" fill="#9dc7df"/>
<rect x="302.74" y="271.33" width="5.02" height="3.017" fill="#ffffbf"/>
<rect x="307.76" y="271.33" width="5.02" height="3.017" fill="#d73027"/>
<rect x="292.70" y="274.34" width="5.02" height="3.017" fill="#d8eef5"/>
<rect x="297.72" y="274.34" width="5.02" height="3.017" fill="#9dc7df"/>
<rect x="302.74" y="274.34" width="5.02" height="3.017" fill="#ffffbf"/>
<rect x="307.76" y="274.34" width="5.02" height="3.017" fill="#d73027"/>
<rect x="292.70" y="277.36" width="5.02" height="3.017" fill="#d8eef5"/>
<rect x="297.72" y="277.36" width="5.02" height="3.017" fill="#d8eef5"/>
<rect x="302.74" y="277.36" width="5.02" height="3.017" fill="#ffffbf"/>
<rect x="307.76" y="277.36" width="5.02" height="3.017" fill="#d73027"/>
<rect x="292.70" y="280.38" width="5.02" height="3.017" fill="#d8eef5"/>
<rect x="297.72" y="280.38" width="5.02" height="3.017" fill="#d8eef5"/>
<rect x="302.74" y="280.38" width="5.02" height="3.017" fill="#ffffbf"/>
<rect x="307.76" y="280.38" width="5.02" height="3.017" fill="#d73027"/>
<rect x="292.70" y="283.39" width="5.02" height="3.017" fill="#d8eef5"/>
<rect x="297.72" y="283.39" width="5.02" height="3.017" fill="#d8eef5"/>
<rect x="302.74" y="283.39" width="5.02" height="3.017" fill="#fef0a8"/>
<rect x="307.76" y="283.39" width="5.02" height="3.017" fill="#d73027"/>
<rect x="292.70" y="286.41" width="5.02" height="3.017" fill="#91bfdb"/>
<rect x="297.72" y="286.41" width="5.02" height="3.017" fill="#f0f9dc"/>
<rect x="302.74" y="286.41" width="5.02" height="3.017" fill="#fef0a8"/>
<rect x="307.76" y="286.41" width="5.02" height="3.017" fill="#d73027"/>
<rect x="292.70" y="289.43" width="5.02" height="3.017" fill="#91bfdb"/>
<rect x="297.72" y="289.43" width="5.02" height="3.017" fill="#f0f9dc"/>
<rect x="302.74" y="289.43" width="5.02" height="3.017" fill="#fef0a8"/>
<rect x="307.76" y="289.43" width="5.02" height="3.017" fill="#d73027"/>
<rect x="292.70" y="292.45" width="5.02" height="3.017" fill="#9dc7df"/>
<rect x="297.72" y="292.45" width="5.02" height="3.017" fill="#d8eef5"/>
<rect x="302.74" y="292.45" width="5.02" height="3.017" fill="#fef0a8"/>
<rect x="307.76" y="292.45" width="5.02" height="3.017" fill="#d73027"/>
<rect x="292.70" y="295.46" width="5.02" height="3.017" fill="#9dc7df"/>
<rect x="297.72" y="295.46" width="5.02" height="3.017" fill="#d8eef5"/>
<rect x="302.74" y="295.46" width="5.02" height="3.017" fill="#fef0a8"/>
<rect x="307.76" y="295.46" width="5.02" height="3.017" fill="#d73027"/>
<rect x="292.70" y="298.48" width="5.02" height="3.017" fill="#9dc7df"/>
<rect x="297.72" y="298.48" width="5.02" height="3.017" fill="#d8eef5"/>
<rect x="302.74" y="298.48" width="5.02" height="3.017" fill="#fef0a8"/>
<rect x="307.76" y="298.48" width="5.02" height="3.017" fill="#d73027"/>
<rect x="292.70" y="301.50" width="5.02" height="3.017" fill="#9dc7df"/>
<rect x="297.72" y="301.50" width="5.02" height="3.017" fill="#d8eef5"/>
<rect x="302.74" y="301.50" width="5.02" height="3.017" fill="#fef0a8"/>
<rect x="307.76" y="301.50" width="5.02" height="3.017" fill="#d73027"/>
<rect x="292.70" y="304.51" width="5.02" height="3.017" fill="#9dc7df"/>
<rect x="297.72" y="304.51" width="5.02" height="3.017" fill="#d8eef5"/>
<rect x="302.74" y="304.51" width="5.02" height="3.017" fill="#ffffbf"/>
<rect x="307.76" y="304.51" width="5.02" height="3.017" fill="#d73027"/>
<rect x="292.70" y="307.53" width="5.02" height="3.017" fill="#9dc7df"/>
<rect x="297.72" y="307.53" width="5.02" height="3.017" fill="#d8eef5"/>
<rect x="302.74" y="307.53" width="5.02" height="3.017" fill="#fef0a8"/>
<rect x="307.76" y="307.53" width="5.02" height="3.017" fill="#d73027"/>
<rect x="292.70" y="310.55" width="5.02" height="3.017" fill="#9dc7df"/>
<rect x="297.72" y="310.55" width="5.02" height="3.017" fill="#d8eef5"/>
<rect x="302.74" y="310.55" width="5.02" height="3.017" fill="#fef0a8"/>
<rect x="307.76" y="310.55" width="5.02" height="3.017" fill="#d73027"/>
<rect x="292.70" y="313.56" width="5.02" height="3.017" fill="#9dc7df"/>
<rect x="297.72" y="313.56" width="5.02" height="3.017" fill="#d8eef5"/>
<rect x="302.74" y="313.56" width="5.02" height="3.017" fill="#fef0a8"/>
<rect x="307.76" y="313.56" width="5.02" height="3.017" fill="#ea5e40"/>
<rect x="292.70" y="316.58" width="5.02" height="3.017" fill="#9dc7df"/>
<rect x="297.72" y="316.58" width="5.02" height="3.017" fill="#d8eef5"/>
<rect x="302.74" y="316.58" width="5.02" height="3.017" fill="#fef0a8"/>
<rect x="307.76" y="316.58" width="5.02" height="3.017" fill="#ea5e40"/>
<rect x="292.70" y="319.60" width="5.02" height="3.017" fill="#9dc7df"/>
<rect x="297.72" y="319.60" width="5.02" height="3.017" fill="#d8eef5"/>
<rect x="302.74" y="319.60" width="5.02" height="3.017" fill="#fef0a8"/>
<rect x="307.76" y="319.60" width="5.02" height="3.017" fill="#d73027"/>
<rect x="292.70" y="322.62" width="5.02" height="3.017" fill="#9dc7df"/>
<rect x="297.72" y="322.62" width="5.02" height="3.017" fill="#d8eef5"/>
<rect x="302.74" y="322.62" width="5.02" height="3.017" fill="#fef0a8"/>
<rect x="307.76" y="322.62" width="5.02" height="3.017" fill="#ea5e40"/>
<rect x="292.70" y="325.63" width="5.02" height="3.017" fill="#9dc7df"/>
<rect x="297.72" y="325.63" width="5.02" height="3.017" fill="#d8eef5"/>
<rect x="302.74" y="325.63" width="5.02" height="3.017" fill="#fef0a8"/>
<rect x="307.76" y="325.63" width="5.02" height="3.017" fill="#d73027"/>
<rect x="292.70" y="328.65" width="5.02" height="3.017" fill="#9dc7df"/>
<rect x="297.72" y="328.65" width="5.02" height="3.017" fill="#d8eef5"/>
<rect x="302.74" y="328.65" width="5.02" height="3.017" fill="#fef0a8"/>
<rect x="307.76" y="328.65" width="5.02" height="3.017" fill="#ea5e40"/>
<rect x="292.70" y="331.67" width="5.02" height="3.017" fill="#9dc7df"/>
<rect x="297.72" y="331.67" width="5.02" height="3.017" fill="#d8eef5"/>
<rect x="302.74" y="331.67" width="5.02" height="3.017" fill="#fef0a8"/>
<rect x="307.76" y="331.67" width="5.02" height="3.017" fill="#d73027"/>
<rect x="292.70" y="334.68" width="5.02" height="3.017" fill="#9dc7df"/>
<rect x="297.72" y="334.68" width="5.02" height="3.017" fill="#d8eef5"/>
<rect x="302.74" y="334.68" width="5.02" height="3.017" fill="#fef0a8"/>
<rect x="307.76" y="334.68" width="5.02" height="3.017" fill="#ea5e40"/>
<path d="M292.70 17.90H312.78M292.70 20.92H312.78M292.70 23.93H312.78M292.70 26.95H312.78M292.70 29.97H312.78M292.70 32.98H312.78M292.70 36.00H312.78M292.70 39.02H312.78M292.70 42.04H312.78M292.70 45.05H312.78M292.70 48.07H312.78M292.70 51.09H312.78M292.70 54.10H312.78M292.70 57.12H312.78M292.70 60.14H312.78M292.70 63.15H312.78M292.70 66.17H312.78M292.70 69.19H312.78M292.70 72.21H312.78M292.70 75.22H312.78M292.70 78.24H312.78M292.70 81.26H312.78M292.70 84.27H312.78M292.70 87.29H312.78M292.70 90.31H312.78M292.70 93.32H312.78M292.70 96.34H312.78M292.70 99.36H312.78M292.70 102.38H312.78M292.70 105.39H312.78M292.70 108.41H312.78M292.70 111.43H312.78M292.70 114.44H312.78M292.70 117.46H312.78M292.70 120.48H312.78M292.70 123.49H312.78M292.70 126.51H312.78M292.70 129.53H312.78M292.70 132.55H312.78M292.70 135.56H312.78M292.70 138.58H312.78M292.70 141.60H312.78M292.70 144.61H312.78M292.70 147.63H312.78M292.70 150.65H312.78M292.70 153.66H312.78M292.70 156.68H312.78M292.70 159.70H312.78M292.70 162.72H312.78M292.70 165.73H312.78M292.70 168.75H312.78M292.70 171.77H312.78M292.70 174.78H312.78M292.70 177.80H312.78M292.70 180.82H312.78M292.70 183.83H312.78M292.70 186.85H312.78M292.70 189.87H312.78M292.70 192.88H312.78M292.70 195.90H312.78M292.70 198.92H312.78M292.70 201.94H312.78M292.70 204.95H312.78M292.70 207.97H312.78M292.70 210.99H312.78M292.70 214.00H312.78M292.70 217.02H312.78M292.70 220.04H312.78M292.70 223.05H312.78M292.70 226.07H312.78M292.70 229.09H312.78M292.70 232.11H312.78M292.70 235.12H312.78M292.70 238.14H312.78M292.70 241.16H312.78M292.70 244.17H312.78M292.70 247.19H312.78M292.70 250.21H312.78M292.70 253.22H312.78M292.70 256.24H312.78M292.70 259.26H312.78M292.70 262.28H312.78M292.70 265.29H312.78M292.70 268.31H312.78M292.70 271.33H312.78M292.70 274.34H312.78M292.70 277.36H312.78M292.70 280.38H312.78M292.70 283.39H312.78M292.70 286.41H312.78M292.70 289.43H312.78M292.70 292.45H312.78M292.70 295.46H312.78M292.70 298.48H312.78M292.70 301.50H312.78M292.70 304.51H312.78M292.70 307.53H312.78M292.70 310.55H312.78M292.70 313.56H312.78M292.70 316.58H312.78M292.70 319.60H312.78M292.70 322.62H312.78M292.70 325.63H312.78M292.70 328.65H312.78M292.70 331.67H312.78M292.70 334.68H312.78M292.70 337.70H312.78M292.70 17.90V337.70M297.72 17.90V337.70M302.74 17.90V337.70M307.76 17.90V337.70M312.78 17.90V337.70" stroke="#909090" stroke-width="0.5" fill="none" opacity="0.8"/>
</g>
<g font-size="3.45" fill="#000" stroke="#000" stroke-width="0.06">
<text x="313.60" y="20.62">Lyve1</text>
<text x="313.60" y="23.63">Cd274</text>
<text x="313.60" y="26.65">Cx3cr1</text>
<text x="313.60" y="29.67">Ifngr1</text>
<text x="313.60" y="32.68">Cxcl2</text>
<text x="313.60" y="35.70">Ccl7</text>
<text x="313.60" y="38.72">Clec4e</text>
<text x="313.60" y="41.73">Timd4</text>
<text x="313.60" y="44.75">Ube2c</text>
<text x="313.60" y="47.77">Ldha</text>
<text x="313.60" y="50.79">Cd80</text>
<text x="313.60" y="53.80">Fos</text>
<text x="313.60" y="56.82">Pf4</text>
<text x="313.60" y="59.84">Tnfaip3</text>
<text x="313.60" y="62.85">Eno1</text>
<text x="313.60" y="65.87">Ccl17</text>
<text x="313.60" y="68.89">Sdc4</text>
<text x="313.60" y="71.90">Runx1</text>
<text x="313.60" y="74.92">Ngp</text>
<text x="313.60" y="77.94">Clec4d</text>
<text x="313.60" y="80.96">Itgam</text>
<text x="313.60" y="83.97">Ccl3</text>
<text x="313.60" y="86.99">Ptprc</text>
<text x="313.60" y="90.01">Egr1</text>
<text x="313.60" y="93.02">Fabp5</text>
<text x="313.60" y="96.04">Prtn3</text>
<text x="313.60" y="99.06">Ap2a1</text>
<text x="313.60" y="102.07">Nfkbia</text>
<text x="313.60" y="105.09">Cxcr2</text>
<text x="313.60" y="108.11">Nlrp3</text>
<text x="313.60" y="111.13">Emp1</text>
<text x="313.60" y="114.14">Ly6g</text>
<text x="313.60" y="117.16">Ptgs2</text>
<text x="313.60" y="120.18">Tgfb1</text>
<text x="313.60" y="123.19">Actb</text>
<text x="313.60" y="126.21">Ifi27</text>
<text x="313.60" y="129.23">Tnf</text>
<text x="313.60" y="132.24">Mmp9</text>
<text x="313.60" y="135.26">Fpr2</text>
<text x="313.60" y="138.28">Gsdmd</text>
<text x="313.60" y="141.30">Ccl4</text>
<text x="313.60" y="144.31">Sod2</text>
<text x="313.60" y="147.33">Plaur</text>
<text x="313.60" y="150.35">Myc</text>
<text x="313.60" y="153.36">Marco</text>
<text x="313.60" y="156.38">Lyz2</text>
<text x="313.60" y="159.40">Tubb5</text>
<text x="313.60" y="162.41">Nr4a1</text>
<text x="313.60" y="165.43">Il18</text>
<text x="313.60" y="168.45">Jun</text>
<text x="313.60" y="171.47">Cd74</text>
<text x="313.60" y="174.48">C1qa</text>
<text x="313.60" y="177.50">Il1r2</text>
<text x="313.60" y="180.52">Hmox1</text>
<text x="313.60" y="183.53">Igf1</text>
<text x="313.60" y="186.55">Mki67</text>
<text x="313.60" y="189.57">Stab1</text>
<text x="313.60" y="192.58">H2-Ab1</text>
<text x="313.60" y="195.60">C1qc</text>
<text x="313.60" y="198.62">Ctsd</text>
<text x="313.60" y="201.63">Ccl12</text>
<text x="313.60" y="204.65">Casp1</text>
<text x="313.60" y="207.67">Gapdh</text>
<text x="313.60" y="210.69">Arg1</text>
<text x="313.60" y="213.70">Ear2</text>
<text x="313.60" y="216.72">Cxcl10</text>
<text x="313.60" y="219.74">Aldoa</text>
<text x="313.60" y="222.75">Fcgr3</text>
<text x="313.60" y="225.77">Ifit3</text>
<text x="313.60" y="228.79">Pros1</text>
<text x="313.60" y="231.80">Lamp1</text>
<text x="313.60" y="234.82">Klf4</text>
<text x="313.60" y="237.84">Txnip</text>
<text x="313.60" y="240.86">Elane</text>
<text x="313.60" y="243.87">Mt1</text>
<text x="313.60" y="246.89">Thbs1</text>
<text x="313.60" y="249.91">Pdcd1lg2</text>
<text x="313.60" y="252.92">Pik3cd</text>
<text x="313.60" y="255.94">Icam1</text>
<text x="313.60" y="258.96">Atf3</text>
<text x="313.60" y="261.97">Retnlg</text>
<text x="313.60" y="264.99">Pam16</text>
<text x="313.60" y="268.01">Fcrls</text>
<text x="313.60" y="271.03">Cd14</text>
<text x="313.60" y="274.04">Csf1r</text>
<text x="313.60" y="277.06">Il10</text>
<text x="313.60" y="280.08">H2-Eb1</text>
<text x="313.60" y="283.09">Csf3r</text>
<text x="313.60" y="286.11">Cd72</text>
<text x="313.60" y="289.13">Pdgfb</text>
<text x="313.60" y="292.14">Lgals1</text>
<text x="313.60" y="295.16">Ccl5</text>
<text x="313.60" y="298.18">Fcgr4</text>
<text x="313.60" y="301.20">Vcan</text>
<text x="313.60" y="304.21">Mertk</text>
<text x="313.60" y="307.23">Trem2</text>
<text x="313.60" y="310.25">Mmp8</text>
<text x="313.60" y="313.26">S100a6</text>
<text x="313.60" y="316.28">Mpo</text>
<text x="313.60" y="319.30">Lpl</text>
<text x="313.60" y="322.31">Cd36</text>
<text x="313.60" y="325.33">Hif1a</text>
<text x="313.60" y="328.35">Irf1</text>
<text x="313.60" y="331.37">Il1b</text>
<text x="313.60" y="334.38">Fcgr2b</text>
<text x="313.60" y="337.40">Siglec1</text>
</g>
<path d="M284.64 59.70H280.40V195.00H284.31M287.83 36.47H284.64V82.93H285.72M289.06 27.89H287.83V45.05H289.06M290.46 22.05H289.06V33.74H290.17M292.40 19.41H290.46V24.69H290.64M292.40 22.43H290.64V26.95H291.00M292.40 25.44H291.00V28.46H292.40M292.40 31.48H290.17V36.00H291.00M292.40 34.49H291.00V37.51H292.40M290.43 42.04H289.06V48.07H290.26M292.40 40.53H290.43V43.54H292.40M292.40 46.56H290.26V49.58H292.40M288.66 67.02H285.72V98.84H287.34M289.98 58.82H288.66V75.22H290.07M290.26 54.10H289.98V63.53H290.50M292.40 52.60H290.26V55.61H292.40M291.00 60.14H290.50V66.93H290.69M292.40 58.63H291.00V61.65H292.40M292.40 64.66H290.69V69.19H291.68M292.40 67.68H291.68V70.70H292.40M292.40 73.71H290.07V76.73H292.40M290.04 86.16H287.34V111.52H288.21M290.19 82.01H290.04V90.31H290.79M292.40 79.75H290.19V84.27H291.68M292.40 82.77H291.68V85.78H292.40M292.40 88.80H290.79V91.82H292.40M289.73 100.21H288.21V122.83H289.59M292.40 94.83H289.73V105.58H290.41M290.59 101.24H290.41V109.92H292.40M292.40 97.85H290.59V104.64H290.78M291.00 102.38H290.78V106.90H292.40M292.40 100.87H291.00V103.88H292.40M291.00 114.44H289.59V131.23H290.13M292.40 112.93H291.00V115.95H292.40M290.29 126.13H290.13V136.32H290.92M290.46 122.74H290.29V129.53H291.00M290.79 120.48H290.46V125.00H292.40M292.40 118.97H290.79V121.99H292.40M292.40 128.02H291.00V131.04H292.40M292.40 134.05H290.92V138.58H291.68M292.40 137.07H291.68V140.09H292.40M287.35 155.93H284.31V234.07H286.43M290.14 148.76H287.35V163.09H288.59M290.52 144.61H290.14V152.91H290.64M292.40 143.10H290.52V146.12H292.40M291.00 150.65H290.64V155.17H292.40M292.40 149.14H291.00V152.16H292.40M291.00 159.70H288.59V166.49H290.15M292.40 158.19H291.00V161.21H292.40M292.40 164.22H290.15V168.75H290.79M292.40 167.24H290.79V170.26H292.40M288.23 197.20H286.43V270.94H288.12M289.69 182.42H288.23V211.98H288.40M289.83 177.05H289.69V187.79H290.33M291.00 174.78H289.83V179.31H292.40M292.40 173.27H291.00V176.29H292.40M291.00 183.83H290.33V191.75H290.51M292.40 182.33H291.00V185.34H292.40M292.40 188.36H290.51V195.15H290.92M291.68 192.88H290.92V197.41H292.40M292.40 191.38H291.68V194.39H292.40M291.68 201.94H288.40V222.02H288.70M292.40 200.43H291.68V203.44H292.40M290.33 213.44H288.70V230.60H290.18M291.00 207.97H290.33V218.91H290.50M292.40 206.46H291.00V209.48H292.40M290.69 216.27H290.50V221.55H292.40M291.68 214.00H290.69V218.53H292.40M292.40 212.50H291.68V215.51H292.40M290.79 226.07H290.18V235.12H290.78M292.40 224.56H290.79V227.58H292.40M291.68 232.11H290.78V238.14H291.00M292.40 230.60H291.68V233.61H292.40M292.40 236.63H291.00V239.65H292.40M289.69 252.85H288.12V289.03H289.53M290.59 246.06H289.69V259.64H289.97M292.40 242.67H290.59V249.45H290.78M291.00 247.19H290.78V251.72H292.40M292.40 245.68H291.00V248.70H292.40M290.79 256.24H289.97V263.03H290.92M292.40 254.73H290.79V257.75H292.40M292.40 260.77H290.92V265.29H291.68M292.40 263.78H291.68V266.80H292.40M290.60 278.11H289.53V299.95H289.66M291.35 273.59H290.60V282.64H290.92M291.68 271.33H291.35V275.85H292.40M292.40 269.82H291.68V272.83H292.40M291.68 280.38H290.92V284.90H292.40M292.40 278.87H291.68V281.89H292.40M291.68 289.43H289.66V310.46H289.80M292.40 287.92H291.68V290.94H292.40M290.86 303.19H289.80V317.74H289.94M291.08 300.36H290.86V306.02H292.40M291.35 297.73H291.08V303.00H292.40M291.68 295.46H291.35V299.99H292.40M292.40 293.95H291.68V296.97H292.40M291.68 310.55H289.94V324.92H290.09M292.40 309.04H291.68V312.06H292.40M291.68 316.58H290.09V333.27H290.24M292.40 315.07H291.68V318.09H292.40M290.41 330.35H290.24V336.19H292.40M290.59 327.52H290.41V333.17H292.40M290.78 324.88H290.59V330.16H292.40M291.00 322.62H290.78V327.14H292.40M292.40 321.11H291.00V324.12H292.40" stroke="#262626" stroke-width="0.45" fill="none"/>
<g>
<rect x="370.80" y="17.20" width="5.25" height="3.095" fill="#fef0a8"/>
<rect x="376.05" y="17.20" width="5.25" height="3.095" fill="#d8eef5"/>
<rect x="381.30" y="17.20" width="5.25" height="3.095" fill="#9dc7df"/>
<rect x="386.55" y="17.20" width="5.25" height="3.095" fill="#d73027"/>
<rect x="370.80" y="20.30" width="5.25" height="3.095" fill="#ffffbf"/>
<rect x="376.05" y="20.30" width="5.25" height="3.095" fill="#91bfdb"/>
<rect x="381.30" y="20.30" width="5.25" height="3.095" fill="#fef0a8"/>
<rect x="386.55" y="20.30" width="5.25" height="3.095" fill="#ea5e40"/>
<rect x="370.80" y="23.39" width="5.25" height="3.095" fill="#ea5e40"/>
<rect x="376.05" y="23.39" width="5.25" height="3.095" fill="#5c8bc0"/>
<rect x="381.30" y="23.39" width="5.25" height="3.095" fill="#fef0a8"/>
<rect x="386.55" y="23.39" width="5.25" height="3.095" fill="#fef0a8"/>
<rect x="370.80" y="26.49" width="5.25" height="3.095" fill="#d73027"/>
<rect x="376.05" y="26.49" width="5.25" height="3.095" fill="#5c8bc0"/>
<rect x="381.30" y="26.49" width="5.25" height="3.095" fill="#ffffbf"/>
<rect x="386.55" y="26.49" width="5.25" height="3.095" fill="#fef0a8"/>
<rect x="370.80" y="29.58" width="5.25" height="3.095" fill="#d73027"/>
<rect x="376.05" y="29.58" width="5.25" height="3.095" fill="#91bfdb"/>
<rect x="381.30" y="29.58" width="5.25" height="3.095" fill="#f0f9dc"/>
<rect x="386.55" y="29.58" width="5.25" height="3.095" fill="#ffffbf"/>
<rect x="370.80" y="32.68" width="5.25" height="3.095" fill="#d73027"/>
<rect x="376.05" y="32.68" width="5.25" height="3.095" fill="#91bfdb"/>
<rect x="381.30" y="32.68" width="5.25" height="3.095" fill="#f0f9dc"/>
<rect x="386.55" y="32.68" width="5.25" height="3.095" fill="#fef0a8"/>
<rect x="370.80" y="35.77" width="5.25" height="3.095" fill="#d73027"/>
<rect x="376.05" y="35.77" width="5.25" height="3.095" fill="#91bfdb"/>
<rect x="381.30" y="35.77" width="5.25" height="3.095" fill="#f0f9dc"/>
<rect x="386.55" y="35.77" width="5.25" height="3.095" fill="#fef0a8"/>
<rect x="370.80" y="38.87" width="5.25" height="3.095" fill="#fef0a8"/>
<rect x="376.05" y="38.87" width="5.25" height="3.095" fill="#4575b4"/>
<rect x="381.30" y="38.87" width="5.25" height="3.095" fill="#fef0a8"/>
<rect x="386.55" y="38.87" width="5.25" height="3.095" fill="#fc8d59"/>
<rect x="370.80" y="41.96" width="5.25" height="3.095" fill="#fdb674"/>
<rect x="376.05" y="41.96" width="5.25" height="3.095" fill="#5c8bc0"/>
<rect x="381.30" y="41.96" width="5.25" height="3.095" fill="#ffffbf"/>
<rect x="386.55" y="41.96" width="5.25" height="3.095" fill="#fdb674"/>
<rect x="370.80" y="45.06" width="5.25" height="3.095" fill="#fdb674"/>
<rect x="376.05" y="45.06" width="5.25" height="3.095" fill="#4575b4"/>
<rect x="381.30" y="45.06" width="5.25" height="3.095" fill="#ffffbf"/>
<rect x="386.55" y="45.06" width="5.25" height="3.095" fill="#fdb674"/>
<rect x="370.80" y="48.15" width="5.25" height="3.095" fill="#fc8d59"/>
<rect x="376.05" y="48.15" width="5.25" height="3.095" fill="#91bfdb"/>
<rect x="381.30" y="48.15" width="5.25" height="3.095" fill="#9dc7df"/>
<rect x="386.55" y="48.15" width="5.25" height="3.095" fill="#fdb674"/>
<rect x="370.80" y="51.25" width="5.25" height="3.095" fill="#fdb674"/>
<rect x="376.05" y="51.25" width="5.25" height="3.095" fill="#91bfdb"/>
<rect x="381.30" y="51.25" width="5.25" height="3.095" fill="#f0f9dc"/>
<rect x="386.55" y="51.25" width="5.25" height="3.095" fill="#fc8d59"/>
<rect x="370.80" y="54.34" width="5.25" height="3.095" fill="#fee090"/>
<rect x="376.05" y="54.34" width="5.25" height="3.095" fill="#91bfdb"/>
<rect x="381.30" y="54.34" width="5.25" height="3.095" fill="#f0f9dc"/>
<rect x="386.55" y="54.34" width="5.25" height="3.095" fill="#fc8d59"/>
<rect x="370.80" y="57.44" width="5.25" height="3.095" fill="#fef0a8"/>
<rect x="376.05" y="57.44" width="5.25" height="3.095" fill="#5c8bc0"/>
<rect x="381.30" y="57.44" width="5.25" height="3.095" fill="#fdb674"/>
<rect x="386.55" y="57.44" width="5.25" height="3.095" fill="#ffffbf"/>
<rect x="370.80" y="60.53" width="5.25" height="3.095" fill="#fef0a8"/>
<rect x="376.05" y="60.53" width="5.25" height="3.095" fill="#5c8bc0"/>
<rect x="381.30" y="60.53" width="5.25" height="3.095" fill="#fc8d59"/>
<rect x="386.55" y="60.53" width="5.25" height="3.095" fill="#f0f9dc"/>
<rect x="370.80" y="63.63" width="5.25" height="3.095" fill="#fef0a8"/>
<rect x="376.05" y="63.63" width="5.25" height="3.095" fill="#91bfdb"/>
<rect x="381.30" y="63.63" width="5.25" height="3.095" fill="#ea5e40"/>
<rect x="386.55" y="63.63" width="5.25" height="3.095" fill="#f0f9dc"/>
<rect x="370.80" y="66.72" width="5.25" height="3.095" fill="#fc8d59"/>
<rect x="376.05" y="66.72" width="5.25" height="3.095" fill="#91bfdb"/>
<rect x="381.30" y="66.72" width="5.25" height="3.095" fill="#fdb674"/>
<rect x="386.55" y="66.72" width="5.25" height="3.095" fill="#9dc7df"/>
<rect x="370.80" y="69.82" width="5.25" height="3.095" fill="#fc8d59"/>
<rect x="376.05" y="69.82" width="5.25" height="3.095" fill="#91bfdb"/>
<rect x="381.30" y="69.82" width="5.25" height="3.095" fill="#fee090"/>
<rect x="386.55" y="69.82" width="5.25" height="3.095" fill="#d8eef5"/>
<rect x="370.80" y="72.91" width="5.25" height="3.095" fill="#fc8d59"/>
<rect x="376.05" y="72.91" width="5.25" height="3.095" fill="#5c8bc0"/>
<rect x="381.30" y="72.91" width="5.25" height="3.095" fill="#fee090"/>
<rect x="386.55" y="72.91" width="5.25" height="3.095" fill="#ffffbf"/>
<rect x="370.80" y="76.01" width="5.25" height="3.095" fill="#ea5e40"/>
<rect x="376.05" y="76.01" width="5.25" height="3.095" fill="#91bfdb"/>
<rect x="381.30" y="76.01" width="5.25" height="3.095" fill="#fef0a8"/>
<rect x="386.55" y="76.01" width="5.25" height="3.095" fill="#ffffbf"/>
<rect x="370.80" y="79.10" width="5.25" height="3.095" fill="#d8eef5"/>
<rect x="376.05" y="79.10" width="5.25" height="3.095" fill="#91bfdb"/>
<rect x="381.30" y="79.10" width="5.25" height="3.095" fill="#fc8d59"/>
<rect x="386.55" y="79.10" width="5.25" height="3.095" fill="#fee090"/>
<rect x="370.80" y="82.20" width="5.25" height="3.095" fill="#9dc7df"/>
<rect x="376.05" y="82.20" width="5.25" height="3.095" fill="#91bfdb"/>
<rect x="381.30" y="82.20" width="5.25" height="3.095" fill="#fdb674"/>
<rect x="386.55" y="82.20" width="5.25" height="3.095" fill="#fdb674"/>
<rect x="370.80" y="85.29" width="5.25" height="3.095" fill="#f0f9dc"/>
<rect x="376.05" y="85.29" width="5.25" height="3.095" fill="#5c8bc0"/>
<rect x="381.30" y="85.29" width="5.25" height="3.095" fill="#fdb674"/>
<rect x="386.55" y="85.29" width="5.25" height="3.095" fill="#fee090"/>
<rect x="370.80" y="88.39" width="5.25" height="3.095" fill="#f0f9dc"/>
<rect x="376.05" y="88.39" width="5.25" height="3.095" fill="#5c8bc0"/>
<rect x="381.30" y="88.39" width="5.25" height="3.095" fill="#fdb674"/>
<rect x="386.55" y="88.39" width="5.25" height="3.095" fill="#fee090"/>
<rect x="370.80" y="91.48" width="5.25" height="3.095" fill="#ffffbf"/>
<rect x="376.05" y="91.48" width="5.25" height="3.095" fill="#5c8bc0"/>
<rect x="381.30" y="91.48" width="5.25" height="3.095" fill="#fdb674"/>
<rect x="386.55" y="91.48" width="5.25" height="3.095" fill="#fef0a8"/>
<rect x="370.80" y="94.58" width="5.25" height="3.095" fill="#ffffbf"/>
<rect x="376.05" y="94.58" width="5.25" height="3.095" fill="#5c8bc0"/>
<rect x="381.30" y="94.58" width="5.25" height="3.095" fill="#fdb674"/>
<rect x="386.55" y="94.58" width="5.25" height="3.095" fill="#fee090"/>
<rect x="370.80" y="97.67" width="5.25" height="3.095" fill="#f0f9dc"/>
<rect x="376.05" y="97.67" width="5.25" height="3.095" fill="#f0f9dc"/>
<rect x="381.30" y="97.67" width="5.25" height="3.095" fill="#d73027"/>
<rect x="386.55" y="97.67" width="5.25" height="3.095" fill="#9dc7df"/>
<rect x="370.80" y="100.77" width="5.25" height="3.095" fill="#9dc7df"/>
<rect x="376.05" y="100.77" width="5.25" height="3.095" fill="#91bfdb"/>
<rect x="381.30" y="100.77" width="5.25" height="3.095" fill="#d73027"/>
<rect x="386.55" y="100.77" width="5.25" height="3.095" fill="#fef0a8"/>
<rect x="370.80" y="103.86" width="5.25" height="3.095" fill="#d8eef5"/>
<rect x="376.05" y="103.86" width="5.25" height="3.095" fill="#91bfdb"/>
<rect x="381.30" y="103.86" width="5.25" height="3.095" fill="#fc8d59"/>
<rect x="386.55" y="103.86" width="5.25" height="3.095" fill="#fee090"/>
<rect x="370.80" y="106.96" width="5.25" height="3.095" fill="#9dc7df"/>
<rect x="376.05" y="106.96" width="5.25" height="3.095" fill="#9dc7df"/>
<rect x="381.30" y="106.96" width="5.25" height="3.095" fill="#d73027"/>
<rect x="386.55" y="106.96" width="5.25" height="3.095" fill="#ffffbf"/>
<rect x="370.80" y="110.05" width="5.25" height="3.095" fill="#9dc7df"/>
<rect x="376.05" y="110.05" width="5.25" height="3.095" fill="#9dc7df"/>
<rect x="381.30" y="110.05" width="5.25" height="3.095" fill="#ea5e40"/>
<rect x="386.55" y="110.05" width="5.25" height="3.095" fill="#fef0a8"/>
<rect x="370.80" y="113.15" width="5.25" height="3.095" fill="#9dc7df"/>
<rect x="376.05" y="113.15" width="5.25" height="3.095" fill="#d8eef5"/>
<rect x="381.30" y="113.15" width="5.25" height="3.095" fill="#ea5e40"/>
<rect x="386.55" y="113.15" width="5.25" height="3.095" fill="#fef0a8"/>
<rect x="370.80" y="116.24" width="5.25" height="3.095" fill="#9dc7df"/>
<rect x="376.05" y="116.24" width="5.25" height="3.095" fill="#d8eef5"/>
<rect x="381.30" y="116.24" width="5.25" height="3.095" fill="#ea5e40"/>
<rect x="386.55" y="116.24" width="5.25" height="3.095" fill="#fef0a8"/>
<rect x="370.80" y="119.34" width="5.25" height="3.095" fill="#fdb674"/>
<rect x="376.05" y="119.34" width="5.25" height="3.095" fill="#fef0a8"/>
<rect x="381.30" y="119.34" width="5.25" height="3.095" fill="#4575b4"/>
<rect x="386.55" y="119.34" width="5.25" height="3.095" fill="#fdb674"/>
<rect x="370.80" y="122.43" width="5.25" height="3.095" fill="#ea5e40"/>
<rect x="376.05" y="122.43" width="5.25" height="3.095" fill="#fef0a8"/>
<rect x="381.30" y="122.43" width="5.25" height="3.095" fill="#9dc7df"/>
<rect x="386.55" y="122.43" width="5.25" height="3.095" fill="#9dc7df"/>
<rect x="370.80" y="125.53" width="5.25" height="3.095" fill="#fc8d59"/>
<rect x="376.05" y="125.53" width="5.25" height="3.095" fill="#fef0a8"/>
<rect x="381.30" y="125.53" width="5.25" height="3.095" fill="#91bfdb"/>
<rect x="386.55" y="125.53" width="5.25" height="3.095" fill="#f0f9dc"/>
<rect x="370.80" y="128.62" width="5.25" height="3.095" fill="#fc8d59"/>
<rect x="376.05" y="128.62" width="5.25" height="3.095" fill="#fef0a8"/>
<rect x="381.30" y="128.62" width="5.25" height="3.095" fill="#91bfdb"/>
<rect x="386.55" y="128.62" width="5.25" height="3.095" fill="#f0f9dc"/>
<rect x="370.80" y="131.72" width="5.25" height="3.095" fill="#fef0a8"/>
<rect x="376.05" y="131.72" width="5.25" height="3.095" fill="#fc8d59"/>
<rect x="381.30" y="131.72" width="5.25" height="3.095" fill="#ffffbf"/>
<rect x="386.55" y="131.72" width="5.25" height="3.095" fill="#5c8bc0"/>
<rect x="370.80" y="134.81" width="5.25" height="3.095" fill="#fef0a8"/>
<rect x="376.05" y="134.81" width="5.25" height="3.095" fill="#fc8d59"/>
<rect x="381.30" y="134.81" width="5.25" height="3.095" fill="#f0f9dc"/>
<rect x="386.55" y="134.81" width="5.25" height="3.095" fill="#5c8bc0"/>
<rect x="370.80" y="137.91" width="5.25" height="3.095" fill="#fdb674"/>
<rect x="376.05" y="137.91" width="5.25" height="3.095" fill="#fdb674"/>
<rect x="381.30" y="137.91" width="5.25" height="3.095" fill="#9dc7df"/>
<rect x="386.55" y="137.91" width="5.25" height="3.095" fill="#9dc7df"/>
<rect x="370.80" y="141.00" width="5.25" height="3.095" fill="#fdb674"/>
<rect x="376.05" y="141.00" width="5.25" height="3.095" fill="#fdb674"/>
<rect x="381.30" y="141.00" width="5.25" height="3.095" fill="#91bfdb"/>
<rect x="386.55" y="141.00" width="5.25" height="3.095" fill="#9dc7df"/>
<rect x="370.80" y="144.10" width="5.25" height="3.095" fill="#fee090"/>
<rect x="376.05" y="144.10" width="5.25" height="3.095" fill="#fdb674"/>
<rect x="381.30" y="144.10" width="5.25" height="3.095" fill="#9dc7df"/>
<rect x="386.55" y="144.10" width="5.25" height="3.095" fill="#9dc7df"/>
<rect x="370.80" y="147.19" width="5.25" height="3.095" fill="#fc8d59"/>
<rect x="376.05" y="147.19" width="5.25" height="3.095" fill="#fef0a8"/>
<rect x="381.30" y="147.19" width="5.25" height="3.095" fill="#fef0a8"/>
<rect x="386.55" y="147.19" width="5.25" height="3.095" fill="#5c8bc0"/>
<rect x="370.80" y="150.29" width="5.25" height="3.095" fill="#fc8d59"/>
<rect x="376.05" y="150.29" width="5.25" height="3.095" fill="#fef0a8"/>
<rect x="381.30" y="150.29" width="5.25" height="3.095" fill="#fef0a8"/>
<rect x="386.55" y="150.29" width="5.25" height="3.095" fill="#5c8bc0"/>
<rect x="370.80" y="153.38" width="5.25" height="3.095" fill="#fc8d59"/>
<rect x="376.05" y="153.38" width="5.25" height="3.095" fill="#fee090"/>
<rect x="381.30" y="153.38" width="5.25" height="3.095" fill="#fef0a8"/>
<rect x="386.55" y="153.38" width="5.25" height="3.095" fill="#4575b4"/>
<rect x="370.80" y="156.48" width="5.25" height="3.095" fill="#d73027"/>
<rect x="376.05" y="156.48" width="5.25" height="3.095" fill="#f0f9dc"/>
<rect x="381.30" y="156.48" width="5.25" height="3.095" fill="#ffffbf"/>
<rect x="386.55" y="156.48" width="5.25" height="3.095" fill="#91bfdb"/>
<rect x="370.80" y="159.57" width="5.25" height="3.095" fill="#d73027"/>
<rect x="376.05" y="159.57" width="5.25" height="3.095" fill="#f0f9dc"/>
<rect x="381.30" y="159.57" width="5.25" height="3.095" fill="#ffffbf"/>
<rect x="386.55" y="159.57" width="5.25" height="3.095" fill="#91bfdb"/>
<rect x="370.80" y="162.67" width="5.25" height="3.095" fill="#d73027"/>
<rect x="376.05" y="162.67" width="5.25" height="3.095" fill="#f0f9dc"/>
<rect x="381.30" y="162.67" width="5.25" height="3.095" fill="#ffffbf"/>
<rect x="386.55" y="162.67" width="5.25" height="3.095" fill="#91bfdb"/>
<rect x="370.80" y="165.76" width="5.25" height="3.095" fill="#d73027"/>
<rect x="376.05" y="165.76" width="5.25" height="3.095" fill="#f0f9dc"/>
<rect x="381.30" y="165.76" width="5.25" height="3.095" fill="#ffffbf"/>
<rect x="386.55" y="165.76" width="5.25" height="3.095" fill="#91bfdb"/>
<rect x="370.80" y="168.86" width="5.25" height="3.095" fill="#d73027"/>
<rect x="376.05" y="168.86" width="5.25" height="3.095" fill="#f0f9dc"/>
<rect x="381.30" y="168.86" width="5.25" height="3.095" fill="#ffffbf"/>
<rect x="386.55" y="168.86" width="5.25" height="3.095" fill="#91bfdb"/>
<rect x="370.80" y="171.95" width="5.25" height="3.095" fill="#d73027"/>
<rect x="376.05" y="171.95" width="5.25" height="3.095" fill="#9dc7df"/>
<rect x="381.30" y="171.95" width="5.25" height="3.095" fill="#f0f9dc"/>
<rect x="386.55" y="171.95" width="5.25" height="3.095" fill="#d8eef5"/>
<rect x="370.80" y="175.05" width="5.25" height="3.095" fill="#ea5e40"/>
<rect x="376.05" y="175.05" width="5.25" height="3.095" fill="#9dc7df"/>
<rect x="381.30" y="175.05" width="5.25" height="3.095" fill="#fef0a8"/>
<rect x="386.55" y="175.05" width="5.25" height="3.095" fill="#9dc7df"/>
<rect x="370.80" y="178.14" width="5.25" height="3.095" fill="#9dc7df"/>
<rect x="376.05" y="178.14" width="5.25" height="3.095" fill="#fee090"/>
<rect x="381.30" y="178.14" width="5.25" height="3.095" fill="#91bfdb"/>
<rect x="386.55" y="178.14" width="5.25" height="3.095" fill="#fc8d59"/>
<rect x="370.80" y="181.24" width="5.25" height="3.095" fill="#d8eef5"/>
<rect x="376.05" y="181.24" width="5.25" height="3.095" fill="#fee090"/>
<rect x="381.30" y="181.24" width="5.25" height="3.095" fill="#91bfdb"/>
<rect x="386.55" y="181.24" width="5.25" height="3.095" fill="#fc8d59"/>
<rect x="370.80" y="184.33" width="5.25" height="3.095" fill="#9dc7df"/>
<rect x="376.05" y="184.33" width="5.25" height="3.095" fill="#fee090"/>
<rect x="381.30" y="184.33" width="5.25" height="3.095" fill="#91bfdb"/>
<rect x="386.55" y="184.33" width="5.25" height="3.095" fill="#fc8d59"/>
<rect x="370.80" y="187.43" width="5.25" height="3.095" fill="#d8eef5"/>
<rect x="376.05" y="187.43" width="5.25" height="3.095" fill="#fee090"/>
<rect x="381.30" y="187.43" width="5.25" height="3.095" fill="#91bfdb"/>
<rect x="386.55" y="187.43" width="5.25" height="3.095" fill="#fc8d59"/>
<rect x="370.80" y="190.52" width="5.25" height="3.095" fill="#91bfdb"/>
<rect x="376.05" y="190.52" width="5.25" height="3.095" fill="#fef0a8"/>
<rect x="381.30" y="190.52" width="5.25" height="3.095" fill="#d8eef5"/>
<rect x="386.55" y="190.52" width="5.25" height="3.095" fill="#ea5e40"/>
<rect x="370.80" y="193.62" width="5.25" height="3.095" fill="#91bfdb"/>
<rect x="376.05" y="193.62" width="5.25" height="3.095" fill="#fef0a8"/>
<rect x="381.30" y="193.62" width="5.25" height="3.095" fill="#9dc7df"/>
<rect x="386.55" y="193.62" width="5.25" height="3.095" fill="#ea5e40"/>
<rect x="370.80" y="196.71" width="5.25" height="3.095" fill="#91bfdb"/>
<rect x="376.05" y="196.71" width="5.25" height="3.095" fill="#fee090"/>
<rect x="381.30" y="196.71" width="5.25" height="3.095" fill="#d8eef5"/>
<rect x="386.55" y="196.71" width="5.25" height="3.095" fill="#ea5e40"/>
<rect x="370.80" y="199.81" width="5.25" height="3.095" fill="#5c8bc0"/>
<rect x="376.05" y="199.81" width="5.25" height="3.095" fill="#f0f9dc"/>
<rect x="381.30" y="199.81" width="5.25" height="3.095" fill="#fc8d59"/>
<rect x="386.55" y="199.81" width="5.25" height="3.095" fill="#fdb674"/>
<rect x="370.80" y="202.90" width="5.25" height="3.095" fill="#5c8bc0"/>
<rect x="376.05" y="202.90" width="5.25" height="3.095" fill="#f0f9dc"/>
<rect x="381.30" y="202.90" width="5.25" height="3.095" fill="#fdb674"/>
<rect x="386.55" y="202.90" width="5.25" height="3.095" fill="#fc8d59"/>
<rect x="370.80" y="206.00" width="5.25" height="3.095" fill="#5c8bc0"/>
<rect x="376.05" y="206.00" width="5.25" height="3.095" fill="#f0f9dc"/>
<rect x="381.30" y="206.00" width="5.25" height="3.095" fill="#fdb674"/>
<rect x="386.55" y="206.00" width="5.25" height="3.095" fill="#fc8d59"/>
<rect x="370.80" y="209.09" width="5.25" height="3.095" fill="#4575b4"/>
<rect x="376.05" y="209.09" width="5.25" height="3.095" fill="#fef0a8"/>
<rect x="381.30" y="209.09" width="5.25" height="3.095" fill="#fdb674"/>
<rect x="386.55" y="209.09" width="5.25" height="3.095" fill="#fc8d59"/>
<rect x="370.80" y="212.19" width="5.25" height="3.095" fill="#5c8bc0"/>
<rect x="376.05" y="212.19" width="5.25" height="3.095" fill="#fef0a8"/>
<rect x="381.30" y="212.19" width="5.25" height="3.095" fill="#fdb674"/>
<rect x="386.55" y="212.19" width="5.25" height="3.095" fill="#fc8d59"/>
<rect x="370.80" y="215.28" width="5.25" height="3.095" fill="#5c8bc0"/>
<rect x="376.05" y="215.28" width="5.25" height="3.095" fill="#ffffbf"/>
<rect x="381.30" y="215.28" width="5.25" height="3.095" fill="#fee090"/>
<rect x="386.55" y="215.28" width="5.25" height="3.095" fill="#fc8d59"/>
<rect x="370.80" y="218.38" width="5.25" height="3.095" fill="#5c8bc0"/>
<rect x="376.05" y="218.38" width="5.25" height="3.095" fill="#fef0a8"/>
<rect x="381.30" y="218.38" width="5.25" height="3.095" fill="#fee090"/>
<rect x="386.55" y="218.38" width="5.25" height="3.095" fill="#fc8d59"/>
<rect x="370.80" y="221.47" width="5.25" height="3.095" fill="#5c8bc0"/>
<rect x="376.05" y="221.47" width="5.25" height="3.095" fill="#fef0a8"/>
<rect x="381.30" y="221.47" width="5.25" height="3.095" fill="#fee090"/>
<rect x="386.55" y="221.47" width="5.25" height="3.095" fill="#fc8d59"/>
<rect x="370.80" y="224.57" width="5.25" height="3.095" fill="#9dc7df"/>
<rect x="376.05" y="224.57" width="5.25" height="3.095" fill="#9dc7df"/>
<rect x="381.30" y="224.57" width="5.25" height="3.095" fill="#fef0a8"/>
<rect x="386.55" y="224.57" width="5.25" height="3.095" fill="#d73027"/>
<rect x="370.80" y="227.66" width="5.25" height="3.095" fill="#9dc7df"/>
<rect x="376.05" y="227.66" width="5.25" height="3.095" fill="#d8eef5"/>
<rect x="381.30" y="227.66" width="5.25" height="3.095" fill="#fef0a8"/>
<rect x="386.55" y="227.66" width="5.25" height="3.095" fill="#ea5e40"/>
<rect x="370.80" y="230.76" width="5.25" height="3.095" fill="#9dc7df"/>
<rect x="376.05" y="230.76" width="5.25" height="3.095" fill="#9dc7df"/>
<rect x="381.30" y="230.76" width="5.25" height="3.095" fill="#ffffbf"/>
<rect x="386.55" y="230.76" width="5.25" height="3.095" fill="#ea5e40"/>
<rect x="370.80" y="233.85" width="5.25" height="3.095" fill="#91bfdb"/>
<rect x="376.05" y="233.85" width="5.25" height="3.095" fill="#f0f9dc"/>
<rect x="381.30" y="233.85" width="5.25" height="3.095" fill="#fef0a8"/>
<rect x="386.55" y="233.85" width="5.25" height="3.095" fill="#ea5e40"/>
<rect x="370.80" y="236.95" width="5.25" height="3.095" fill="#91bfdb"/>
<rect x="376.05" y="236.95" width="5.25" height="3.095" fill="#f0f9dc"/>
<rect x="381.30" y="236.95" width="5.25" height="3.095" fill="#fef0a8"/>
<rect x="386.55" y="236.95" width="5.25" height="3.095" fill="#ea5e40"/>
<rect x="370.80" y="240.04" width="5.25" height="3.095" fill="#91bfdb"/>
<rect x="376.05" y="240.04" width="5.25" height="3.095" fill="#ffffbf"/>
<rect x="381.30" y="240.04" width="5.25" height="3.095" fill="#fef0a8"/>
<rect x="386.55" y="240.04" width="5.25" height="3.095" fill="#ea5e40"/>
<rect x="370.80" y="243.14" width="5.25" height="3.095" fill="#91bfdb"/>
<rect x="376.05" y="243.14" width="5.25" height="3.095" fill="#ffffbf"/>
<rect x="381.30" y="243.14" width="5.25" height="3.095" fill="#fef0a8"/>
<rect x="386.55" y="243.14" width="5.25" height="3.095" fill="#ea5e40"/>
<rect x="370.80" y="246.23" width="5.25" height="3.095" fill="#5c8bc0"/>
<rect x="376.05" y="246.23" width="5.25" height="3.095" fill="#ffffbf"/>
<rect x="381.30" y="246.23" width="5.25" height="3.095" fill="#fef0a8"/>
<rect x="386.55" y="246.23" width="5.25" height="3.095" fill="#ea5e40"/>
<rect x="370.80" y="249.33" width="5.25" height="3.095" fill="#5c8bc0"/>
<rect x="376.05" y="249.33" width="5.25" height="3.095" fill="#fee090"/>
<rect x="381.30" y="249.33" width="5.25" height="3.095" fill="#fc8d59"/>
<rect x="386.55" y="249.33" width="5.25" height="3.095" fill="#d8eef5"/>
<rect x="370.80" y="252.42" width="5.25" height="3.095" fill="#5c8bc0"/>
<rect x="376.05" y="252.42" width="5.25" height="3.095" fill="#fee090"/>
<rect x="381.30" y="252.42" width="5.25" height="3.095" fill="#fc8d59"/>
<rect x="386.55" y="252.42" width="5.25" height="3.095" fill="#f0f9dc"/>
<rect x="370.80" y="255.52" width="5.25" height="3.095" fill="#91bfdb"/>
<rect x="376.05" y="255.52" width="5.25" height="3.095" fill="#fef0a8"/>
<rect x="381.30" y="255.52" width="5.25" height="3.095" fill="#ea5e40"/>
<rect x="386.55" y="255.52" width="5.25" height="3.095" fill="#d8eef5"/>
<rect x="370.80" y="258.61" width="5.25" height="3.095" fill="#9dc7df"/>
<rect x="376.05" y="258.61" width="5.25" height="3.095" fill="#fdb674"/>
<rect x="381.30" y="258.61" width="5.25" height="3.095" fill="#fc8d59"/>
<rect x="386.55" y="258.61" width="5.25" height="3.095" fill="#9dc7df"/>
<rect x="370.80" y="261.71" width="5.25" height="3.095" fill="#9dc7df"/>
<rect x="376.05" y="261.71" width="5.25" height="3.095" fill="#fdb674"/>
<rect x="381.30" y="261.71" width="5.25" height="3.095" fill="#fc8d59"/>
<rect x="386.55" y="261.71" width="5.25" height="3.095" fill="#9dc7df"/>
<rect x="370.80" y="264.80" width="5.25" height="3.095" fill="#5c8bc0"/>
<rect x="376.05" y="264.80" width="5.25" height="3.095" fill="#fef0a8"/>
<rect x="381.30" y="264.80" width="5.25" height="3.095" fill="#fc8d59"/>
<rect x="386.55" y="264.80" width="5.25" height="3.095" fill="#fef0a8"/>
<rect x="370.80" y="267.90" width="5.25" height="3.095" fill="#5c8bc0"/>
<rect x="376.05" y="267.90" width="5.25" height="3.095" fill="#fef0a8"/>
<rect x="381.30" y="267.90" width="5.25" height="3.095" fill="#fdb674"/>
<rect x="386.55" y="267.90" width="5.25" height="3.095" fill="#fef0a8"/>
<rect x="370.80" y="270.99" width="5.25" height="3.095" fill="#5c8bc0"/>
<rect x="376.05" y="270.99" width="5.25" height="3.095" fill="#fef0a8"/>
<rect x="381.30" y="270.99" width="5.25" height="3.095" fill="#fee090"/>
<rect x="386.55" y="270.99" width="5.25" height="3.095" fill="#ffffbf"/>
<rect x="370.80" y="274.09" width="5.25" height="3.095" fill="#91bfdb"/>
<rect x="376.05" y="274.09" width="5.25" height="3.095" fill="#ffffbf"/>
<rect x="381.30" y="274.09" width="5.25" height="3.095" fill="#ea5e40"/>
<rect x="386.55" y="274.09" width="5.25" height="3.095" fill="#fef0a8"/>
<rect x="370.80" y="277.18" width="5.25" height="3.095" fill="#91bfdb"/>
<rect x="376.05" y="277.18" width="5.25" height="3.095" fill="#f0f9dc"/>
<rect x="381.30" y="277.18" width="5.25" height="3.095" fill="#ea5e40"/>
<rect x="386.55" y="277.18" width="5.25" height="3.095" fill="#ffffbf"/>
<rect x="370.80" y="280.28" width="5.25" height="3.095" fill="#91bfdb"/>
<rect x="376.05" y="280.28" width="5.25" height="3.095" fill="#d8eef5"/>
<rect x="381.30" y="280.28" width="5.25" height="3.095" fill="#ea5e40"/>
<rect x="386.55" y="280.28" width="5.25" height="3.095" fill="#fef0a8"/>
<rect x="370.80" y="283.37" width="5.25" height="3.095" fill="#91bfdb"/>
<rect x="376.05" y="283.37" width="5.25" height="3.095" fill="#d8eef5"/>
<rect x="381.30" y="283.37" width="5.25" height="3.095" fill="#ea5e40"/>
<rect x="386.55" y="283.37" width="5.25" height="3.095" fill="#fef0a8"/>
<rect x="370.80" y="286.47" width="5.25" height="3.095" fill="#f0f9dc"/>
<rect x="376.05" y="286.47" width="5.25" height="3.095" fill="#d73027"/>
<rect x="381.30" y="286.47" width="5.25" height="3.095" fill="#9dc7df"/>
<rect x="386.55" y="286.47" width="5.25" height="3.095" fill="#ffffbf"/>
<rect x="370.80" y="289.56" width="5.25" height="3.095" fill="#91bfdb"/>
<rect x="376.05" y="289.56" width="5.25" height="3.095" fill="#d73027"/>
<rect x="381.30" y="289.56" width="5.25" height="3.095" fill="#fef0a8"/>
<rect x="386.55" y="289.56" width="5.25" height="3.095" fill="#d8eef5"/>
<rect x="370.80" y="292.66" width="5.25" height="3.095" fill="#91bfdb"/>
<rect x="376.05" y="292.66" width="5.25" height="3.095" fill="#ea5e40"/>
<rect x="381.30" y="292.66" width="5.25" height="3.095" fill="#fef0a8"/>
<rect x="386.55" y="292.66" width="5.25" height="3.095" fill="#ffffbf"/>
<rect x="370.80" y="295.75" width="5.25" height="3.095" fill="#91bfdb"/>
<rect x="376.05" y="295.75" width="5.25" height="3.095" fill="#ea5e40"/>
<rect x="381.30" y="295.75" width="5.25" height="3.095" fill="#ffffbf"/>
<rect x="386.55" y="295.75" width="5.25" height="3.095" fill="#ffffbf"/>
<rect x="370.80" y="298.85" width="5.25" height="3.095" fill="#9dc7df"/>
<rect x="376.05" y="298.85" width="5.25" height="3.095" fill="#ea5e40"/>
<rect x="381.30" y="298.85" width="5.25" height="3.095" fill="#ffffbf"/>
<rect x="386.55" y="298.85" width="5.25" height="3.095" fill="#fef0a8"/>
<rect x="370.80" y="301.94" width="5.25" height="3.095" fill="#9dc7df"/>
<rect x="376.05" y="301.94" width="5.25" height="3.095" fill="#d73027"/>
<rect x="381.30" y="301.94" width="5.25" height="3.095" fill="#f0f9dc"/>
<rect x="386.55" y="301.94" width="5.25" height="3.095" fill="#ffffbf"/>
<rect x="370.80" y="305.04" width="5.25" height="3.095" fill="#d8eef5"/>
<rect x="376.05" y="305.04" width="5.25" height="3.095" fill="#d73027"/>
<rect x="381.30" y="305.04" width="5.25" height="3.095" fill="#d8eef5"/>
<rect x="386.55" y="305.04" width="5.25" height="3.095" fill="#ffffbf"/>
<rect x="370.80" y="308.13" width="5.25" height="3.095" fill="#5c8bc0"/>
<rect x="376.05" y="308.13" width="5.25" height="3.095" fill="#fc8d59"/>
<rect x="381.30" y="308.13" width="5.25" height="3.095" fill="#fee090"/>
<rect x="386.55" y="308.13" width="5.25" height="3.095" fill="#d8eef5"/>
<rect x="370.80" y="311.23" width="5.25" height="3.095" fill="#5c8bc0"/>
<rect x="376.05" y="311.23" width="5.25" height="3.095" fill="#fc8d59"/>
<rect x="381.30" y="311.23" width="5.25" height="3.095" fill="#fef0a8"/>
<rect x="386.55" y="311.23" width="5.25" height="3.095" fill="#ffffbf"/>
<rect x="370.80" y="314.32" width="5.25" height="3.095" fill="#5c8bc0"/>
<rect x="376.05" y="314.32" width="5.25" height="3.095" fill="#fdb674"/>
<rect x="381.30" y="314.32" width="5.25" height="3.095" fill="#fef0a8"/>
<rect x="386.55" y="314.32" width="5.25" height="3.095" fill="#fef0a8"/>
<rect x="370.80" y="317.42" width="5.25" height="3.095" fill="#4575b4"/>
<rect x="376.05" y="317.42" width="5.25" height="3.095" fill="#fef0a8"/>
<rect x="381.30" y="317.42" width="5.25" height="3.095" fill="#fef0a8"/>
<rect x="386.55" y="317.42" width="5.25" height="3.095" fill="#fee090"/>
<rect x="370.80" y="320.51" width="5.25" height="3.095" fill="#5c8bc0"/>
<rect x="376.05" y="320.51" width="5.25" height="3.095" fill="#fee090"/>
<rect x="381.30" y="320.51" width="5.25" height="3.095" fill="#ffffbf"/>
<rect x="386.55" y="320.51" width="5.25" height="3.095" fill="#fee090"/>
<rect x="370.80" y="323.61" width="5.25" height="3.095" fill="#5c8bc0"/>
<rect x="376.05" y="323.61" width="5.25" height="3.095" fill="#fc8d59"/>
<rect x="381.30" y="323.61" width="5.25" height="3.095" fill="#ffffbf"/>
<rect x="386.55" y="323.61" width="5.25" height="3.095" fill="#fef0a8"/>
<rect x="370.80" y="326.70" width="5.25" height="3.095" fill="#91bfdb"/>
<rect x="376.05" y="326.70" width="5.25" height="3.095" fill="#fee090"/>
<rect x="381.30" y="326.70" width="5.25" height="3.095" fill="#d8eef5"/>
<rect x="386.55" y="326.70" width="5.25" height="3.095" fill="#fc8d59"/>
<path d="M370.80 17.20H391.80M370.80 20.30H391.80M370.80 23.39H391.80M370.80 26.49H391.80M370.80 29.58H391.80M370.80 32.68H391.80M370.80 35.77H391.80M370.80 38.87H391.80M370.80 41.96H391.80M370.80 45.06H391.80M370.80 48.15H391.80M370.80 51.25H391.80M370.80 54.34H391.80M370.80 57.44H391.80M370.80 60.53H391.80M370.80 63.63H391.80M370.80 66.72H391.80M370.80 69.82H391.80M370.80 72.91H391.80M370.80 76.01H391.80M370.80 79.10H391.80M370.80 82.20H391.80M370.80 85.29H391.80M370.80 88.39H391.80M370.80 91.48H391.80M370.80 94.58H391.80M370.80 97.67H391.80M370.80 100.77H391.80M370.80 103.86H391.80M370.80 106.96H391.80M370.80 110.05H391.80M370.80 113.15H391.80M370.80 116.24H391.80M370.80 119.34H391.80M370.80 122.43H391.80M370.80 125.53H391.80M370.80 128.62H391.80M370.80 131.72H391.80M370.80 134.81H391.80M370.80 137.91H391.80M370.80 141.00H391.80M370.80 144.10H391.80M370.80 147.19H391.80M370.80 150.29H391.80M370.80 153.38H391.80M370.80 156.48H391.80M370.80 159.57H391.80M370.80 162.67H391.80M370.80 165.76H391.80M370.80 168.86H391.80M370.80 171.95H391.80M370.80 175.05H391.80M370.80 178.14H391.80M370.80 181.24H391.80M370.80 184.33H391.80M370.80 187.43H391.80M370.80 190.52H391.80M370.80 193.62H391.80M370.80 196.71H391.80M370.80 199.81H391.80M370.80 202.90H391.80M370.80 206.00H391.80M370.80 209.09H391.80M370.80 212.19H391.80M370.80 215.28H391.80M370.80 218.38H391.80M370.80 221.47H391.80M370.80 224.57H391.80M370.80 227.66H391.80M370.80 230.76H391.80M370.80 233.85H391.80M370.80 236.95H391.80M370.80 240.04H391.80M370.80 243.14H391.80M370.80 246.23H391.80M370.80 249.33H391.80M370.80 252.42H391.80M370.80 255.52H391.80M370.80 258.61H391.80M370.80 261.71H391.80M370.80 264.80H391.80M370.80 267.90H391.80M370.80 270.99H391.80M370.80 274.09H391.80M370.80 277.18H391.80M370.80 280.28H391.80M370.80 283.37H391.80M370.80 286.47H391.80M370.80 289.56H391.80M370.80 292.66H391.80M370.80 295.75H391.80M370.80 298.85H391.80M370.80 301.94H391.80M370.80 305.04H391.80M370.80 308.13H391.80M370.80 311.23H391.80M370.80 314.32H391.80M370.80 317.42H391.80M370.80 320.51H391.80M370.80 323.61H391.80M370.80 326.70H391.80M370.80 329.80H391.80M370.80 17.20V329.80M376.05 17.20V329.80M381.30 17.20V329.80M386.55 17.20V329.80M391.80 17.20V329.80" stroke="#909090" stroke-width="0.5" fill="none" opacity="0.8"/>
</g>
<g font-size="3.45" fill="#000" stroke="#000" stroke-width="0.06">
<text x="392.60" y="19.96">Slc7a2</text>
<text x="392.60" y="23.05">Ly6c2</text>
<text x="392.60" y="26.15">Cd36</text>
<text x="392.60" y="29.24">Gas6</text>
<text x="392.60" y="32.34">Isg15</text>
<text x="392.60" y="35.43">Cxcr2</text>
<text x="392.60" y="38.53">Actb</text>
<text x="392.60" y="41.62">Trem2</text>
<text x="392.60" y="44.72">Irf1</text>
<text x="392.60" y="47.81">Sdc4</text>
<text x="392.60" y="50.91">Nos2</text>
<text x="392.60" y="54.00">Ly6g</text>
<text x="392.60" y="57.10">Arg2</text>
<text x="392.60" y="60.19">Fcgr1</text>
<text x="392.60" y="63.29">S100a6</text>
<text x="392.60" y="66.38">Plac8</text>
<text x="392.60" y="69.48">Ccl17</text>
<text x="392.60" y="72.57">Mki67</text>
<text x="392.60" y="75.67">Gapdh</text>
<text x="392.60" y="78.76">Nrp1</text>
<text x="392.60" y="81.86">Vegfa</text>
<text x="392.60" y="84.95">Pycard</text>
<text x="392.60" y="88.05">Ms4a7</text>
<text x="392.60" y="91.14">Igf1</text>
<text x="392.60" y="94.24">Itgam</text>
<text x="392.60" y="97.33">Ctsg</text>
<text x="392.60" y="100.43">Tnfaip3</text>
<text x="392.60" y="103.52">Pros1</text>
<text x="392.60" y="106.62">Vsig4</text>
<text x="392.60" y="109.71">Fabp5</text>
<text x="392.60" y="112.81">Ldha</text>
<text x="392.60" y="115.90">Tgfb1</text>
<text x="392.60" y="119.00">Il21r</text>
<text x="392.60" y="122.09">Irf7</text>
<text x="392.60" y="125.19">Il1rn</text>
<text x="392.60" y="128.28">Rsad2</text>
<text x="392.60" y="131.38">Ccl5</text>
<text x="392.60" y="134.47">Ccl4</text>
<text x="392.60" y="137.57">Nfkbia</text>
<text x="392.60" y="140.66">Ccnd1</text>
<text x="392.60" y="143.76">Cd9</text>
<text x="392.60" y="146.85">Ifit3</text>
<text x="392.60" y="149.95">Lyve1</text>
<text x="392.60" y="153.04">Lcn2</text>
<text x="392.60" y="156.14">Icam1</text>
<text x="392.60" y="159.23">Retnlg</text>
<text x="392.60" y="162.33">Cd72</text>
<text x="392.60" y="165.42">Cdkn1a</text>
<text x="392.60" y="168.52">Stat1</text>
<text x="392.60" y="171.61">Clec4d</text>
<text x="392.60" y="174.71">Nr4a1</text>
<text x="392.60" y="177.80">Top2a</text>
<text x="392.60" y="180.90">Tuba1b</text>
<text x="392.60" y="183.99">Mertk</text>
<text x="392.60" y="187.09">Ptprc</text>
<text x="392.60" y="190.18">Siglec1</text>
<text x="392.60" y="193.28">Sell</text>
<text x="392.60" y="196.37">Pgk1</text>
<text x="392.60" y="199.47">Cd5l</text>
<text x="392.60" y="202.56">Ifi27</text>
<text x="392.60" y="205.66">Gbp2</text>
<text x="392.60" y="208.75">Ccl24</text>
<text x="392.60" y="211.85">Ctsb</text>
<text x="392.60" y="214.94">Ccl12</text>
<text x="392.60" y="218.04">S100a4</text>
<text x="392.60" y="221.13">Fcgr4</text>
<text x="392.60" y="224.23">Fcgr3</text>
<text x="392.60" y="227.32">Msr1</text>
<text x="392.60" y="230.42">Nlrp3</text>
<text x="392.60" y="233.51">Txnip</text>
<text x="392.60" y="236.61">Ctsd</text>
<text x="392.60" y="239.70">Il18</text>
<text x="392.60" y="242.80">Marco</text>
<text x="392.60" y="245.89">Cd274</text>
<text x="392.60" y="248.99">Rgs1</text>
<text x="392.60" y="252.08">Ccl3</text>
<text x="392.60" y="255.18">Cxcl10</text>
<text x="392.60" y="258.27">Atf3</text>
<text x="392.60" y="261.37">Socs3</text>
<text x="392.60" y="264.46">Casp1</text>
<text x="392.60" y="267.56">Slc2a1</text>
<text x="392.60" y="270.65">Tgfbi</text>
<text x="392.60" y="273.75">Pdcd1lg2</text>
<text x="392.60" y="276.84">Wfdc21</text>
<text x="392.60" y="279.94">Mmp9</text>
<text x="392.60" y="283.03">Csf3r</text>
<text x="392.60" y="286.13">Vcam1</text>
<text x="392.60" y="289.22">Pkm</text>
<text x="392.60" y="292.32">Cxcl9</text>
<text x="392.60" y="295.41">Vcan</text>
<text x="392.60" y="298.51">Fn1</text>
<text x="392.60" y="301.60">S100a8</text>
<text x="392.60" y="304.70">Cd44</text>
<text x="392.60" y="307.79">Fpr2</text>
<text x="392.60" y="310.89">Fcrls</text>
<text x="392.60" y="313.98">Csf1r</text>
<text x="392.60" y="317.08">Aldoa</text>
<text x="392.60" y="320.17">Plaur</text>
<text x="392.60" y="323.27">Mmp12</text>
<text x="392.60" y="326.36">C1qa</text>
<text x="392.60" y="329.46">Cd86</text>
</g>
<path d="M359.73 109.27H357.50V246.71H361.83M361.96 71.90H359.73V146.64H363.71M363.97 48.68H361.96V95.11H365.60M365.30 29.48H363.97V67.88H366.16M367.02 20.30H365.30V38.67H365.42M370.50 18.75H367.02V21.84H370.50M367.73 29.97H365.42V47.38H367.02M368.51 26.49H367.73V33.45H368.67M370.50 24.94H368.51V28.03H370.50M370.50 31.13H368.67V35.77H369.61M370.50 34.22H369.61V37.32H370.50M367.76 42.73H367.02V52.02H367.66M370.50 40.41H367.76V45.06H368.77M370.50 43.51H368.77V46.60H370.50M370.50 49.70H367.66V54.34H368.77M370.50 52.79H368.77V55.89H370.50M368.11 62.85H366.16V72.91H367.31M368.51 60.53H368.11V65.17H370.50M370.50 58.98H368.51V62.08H370.50M368.51 69.82H367.31V76.01H368.33M370.50 68.27H368.51V71.36H370.50M370.50 74.46H368.33V77.55H370.50M367.31 86.84H365.60V103.38H366.41M368.33 82.20H367.31V91.48H368.42M370.50 80.65H368.33V83.74H370.50M369.61 88.39H368.42V94.58H368.77M370.50 86.84H369.61V89.93H370.50M370.50 93.03H368.77V96.12H370.50M370.50 99.22H366.41V107.54H367.76M367.96 103.86H367.76V111.21H368.23M370.50 102.31H367.96V105.41H370.50M370.50 108.50H368.23V113.92H368.67M370.50 111.60H368.67V116.24H369.61M370.50 114.69H369.61V117.79H370.50M365.21 131.33H363.71V161.94H365.86M366.35 123.59H365.21V139.07H366.50M370.50 120.88H366.35V126.30H367.78M370.50 123.98H367.78V128.62H369.61M370.50 127.07H369.61V130.17H370.50M368.77 134.81H366.50V143.32H368.51M370.50 133.26H368.77V136.36H370.50M368.77 141.00H368.51V145.64H370.50M370.50 139.45H368.77V142.55H370.50M368.39 152.61H365.86V171.28H367.16M369.61 150.29H368.39V154.93H370.50M370.50 148.74H369.61V151.83H370.50M368.60 167.50H367.16V175.05H367.96M368.88 164.60H368.60V170.40H370.50M369.20 161.89H368.88V167.31H370.50M369.61 159.57H369.20V164.21H370.50M370.50 158.02H369.61V161.12H370.50M370.50 173.50H367.96V176.60H370.50M363.47 206.87H361.83V286.54H363.03M367.01 191.10H363.47V222.63H365.79M368.27 186.27H367.01V195.94H368.51M368.51 183.56H368.27V188.98H370.50M368.77 181.24H368.51V185.88H370.50M370.50 179.69H368.77V182.79H370.50M368.77 193.62H368.51V198.26H370.50M370.50 192.07H368.77V195.17H370.50M367.28 209.67H365.79V235.59H366.88M368.39 203.68H367.28V215.67H368.29M370.50 201.36H368.39V206.00H369.61M370.50 204.45H369.61V207.55H370.50M368.77 212.19H368.29V219.15H368.67M370.50 210.64H368.77V213.74H370.50M370.50 216.83H368.67V221.47H369.61M370.50 219.93H369.61V223.02H370.50M368.27 229.98H366.88V241.20H368.39M368.51 227.66H368.27V232.31H370.50M370.50 226.12H368.51V229.21H370.50M369.61 236.95H368.39V245.46H368.67M370.50 235.40H369.61V238.50H370.50M369.61 243.14H368.67V247.78H370.50M370.50 241.59H369.61V244.69H370.50M365.54 266.74H363.03V306.35H365.37M367.31 258.23H365.54V275.25H366.59M368.15 254.75H367.31V261.71H369.61M368.77 252.42H368.15V257.07H370.50M370.50 250.88H368.77V253.97H370.50M370.50 260.16H369.61V263.26H370.50M368.15 270.22H366.59V280.28H368.07M368.77 267.90H368.15V272.54H370.50M370.50 266.35H368.77V269.45H370.50M368.51 277.18H368.07V283.37H369.61M370.50 275.64H368.51V278.73H370.50M370.50 281.83H369.61V284.92H370.50M366.95 293.92H365.37V318.77H366.48M370.50 288.02H366.95V299.82H367.26M367.60 294.59H367.26V305.04H368.51M370.50 291.11H367.60V298.08H368.33M368.77 295.75H368.33V300.40H370.50M370.50 294.21H368.77V297.30H370.50M370.50 303.49H368.51V306.59H370.50M367.63 312.00H366.48V325.54H367.13M370.50 309.68H367.63V314.32H368.51M370.50 312.78H368.51V315.87H370.50M367.61 322.84H367.13V328.25H370.50M368.33 320.51H367.61V325.16H370.50M370.50 318.97H368.33V322.06H370.50" stroke="#262626" stroke-width="0.45" fill="none"/>
<g>
<rect x="452.60" y="17.30" width="5.87" height="3.847" fill="#f0f9dc"/>
<rect x="458.47" y="17.30" width="5.87" height="3.847" fill="#d73027"/>
<rect x="464.34" y="17.30" width="5.87" height="3.847" fill="#f0f9dc"/>
<rect x="470.21" y="17.30" width="5.87" height="3.847" fill="#9dc7df"/>
<rect x="452.60" y="21.15" width="5.87" height="3.847" fill="#91bfdb"/>
<rect x="458.47" y="21.15" width="5.87" height="3.847" fill="#ea5e40"/>
<rect x="464.34" y="21.15" width="5.87" height="3.847" fill="#f0f9dc"/>
<rect x="470.21" y="21.15" width="5.87" height="3.847" fill="#fee090"/>
<rect x="452.60" y="24.99" width="5.87" height="3.847" fill="#9dc7df"/>
<rect x="458.47" y="24.99" width="5.87" height="3.847" fill="#d73027"/>
<rect x="464.34" y="24.99" width="5.87" height="3.847" fill="#d8eef5"/>
<rect x="470.21" y="24.99" width="5.87" height="3.847" fill="#ffffbf"/>
<rect x="452.60" y="28.84" width="5.87" height="3.847" fill="#9dc7df"/>
<rect x="458.47" y="28.84" width="5.87" height="3.847" fill="#d73027"/>
<rect x="464.34" y="28.84" width="5.87" height="3.847" fill="#d8eef5"/>
<rect x="470.21" y="28.84" width="5.87" height="3.847" fill="#fef0a8"/>
<rect x="452.60" y="32.69" width="5.87" height="3.847" fill="#91bfdb"/>
<rect x="458.47" y="32.69" width="5.87" height="3.847" fill="#ea5e40"/>
<rect x="464.34" y="32.69" width="5.87" height="3.847" fill="#fef0a8"/>
<rect x="470.21" y="32.69" width="5.87" height="3.847" fill="#f0f9dc"/>
<rect x="452.60" y="36.53" width="5.87" height="3.847" fill="#91bfdb"/>
<rect x="458.47" y="36.53" width="5.87" height="3.847" fill="#ea5e40"/>
<rect x="464.34" y="36.53" width="5.87" height="3.847" fill="#fef0a8"/>
<rect x="470.21" y="36.53" width="5.87" height="3.847" fill="#f0f9dc"/>
<rect x="452.60" y="40.38" width="5.87" height="3.847" fill="#5c8bc0"/>
<rect x="458.47" y="40.38" width="5.87" height="3.847" fill="#ea5e40"/>
<rect x="464.34" y="40.38" width="5.87" height="3.847" fill="#fef0a8"/>
<rect x="470.21" y="40.38" width="5.87" height="3.847" fill="#f0f9dc"/>
<rect x="452.60" y="44.23" width="5.87" height="3.847" fill="#9dc7df"/>
<rect x="458.47" y="44.23" width="5.87" height="3.847" fill="#d73027"/>
<rect x="464.34" y="44.23" width="5.87" height="3.847" fill="#f0f9dc"/>
<rect x="470.21" y="44.23" width="5.87" height="3.847" fill="#f0f9dc"/>
<rect x="452.60" y="48.08" width="5.87" height="3.847" fill="#91bfdb"/>
<rect x="458.47" y="48.08" width="5.87" height="3.847" fill="#d73027"/>
<rect x="464.34" y="48.08" width="5.87" height="3.847" fill="#f0f9dc"/>
<rect x="470.21" y="48.08" width="5.87" height="3.847" fill="#ffffbf"/>
<rect x="452.60" y="51.92" width="5.87" height="3.847" fill="#91bfdb"/>
<rect x="458.47" y="51.92" width="5.87" height="3.847" fill="#ea5e40"/>
<rect x="464.34" y="51.92" width="5.87" height="3.847" fill="#ffffbf"/>
<rect x="470.21" y="51.92" width="5.87" height="3.847" fill="#ffffbf"/>
<rect x="452.60" y="55.77" width="5.87" height="3.847" fill="#5c8bc0"/>
<rect x="458.47" y="55.77" width="5.87" height="3.847" fill="#fc8d59"/>
<rect x="464.34" y="55.77" width="5.87" height="3.847" fill="#fef0a8"/>
<rect x="470.21" y="55.77" width="5.87" height="3.847" fill="#fef0a8"/>
<rect x="452.60" y="59.62" width="5.87" height="3.847" fill="#5c8bc0"/>
<rect x="458.47" y="59.62" width="5.87" height="3.847" fill="#fc8d59"/>
<rect x="464.34" y="59.62" width="5.87" height="3.847" fill="#fef0a8"/>
<rect x="470.21" y="59.62" width="5.87" height="3.847" fill="#fef0a8"/>
<rect x="452.60" y="63.46" width="5.87" height="3.847" fill="#5c8bc0"/>
<rect x="458.47" y="63.46" width="5.87" height="3.847" fill="#fc8d59"/>
<rect x="464.34" y="63.46" width="5.87" height="3.847" fill="#fef0a8"/>
<rect x="470.21" y="63.46" width="5.87" height="3.847" fill="#fef0a8"/>
<rect x="452.60" y="67.31" width="5.87" height="3.847" fill="#4575b4"/>
<rect x="458.47" y="67.31" width="5.87" height="3.847" fill="#fdb674"/>
<rect x="464.34" y="67.31" width="5.87" height="3.847" fill="#fef0a8"/>
<rect x="470.21" y="67.31" width="5.87" height="3.847" fill="#fef0a8"/>
<rect x="452.60" y="71.16" width="5.87" height="3.847" fill="#5c8bc0"/>
<rect x="458.47" y="71.16" width="5.87" height="3.847" fill="#fdb674"/>
<rect x="464.34" y="71.16" width="5.87" height="3.847" fill="#fee090"/>
<rect x="470.21" y="71.16" width="5.87" height="3.847" fill="#ffffbf"/>
<rect x="452.60" y="75.00" width="5.87" height="3.847" fill="#5c8bc0"/>
<rect x="458.47" y="75.00" width="5.87" height="3.847" fill="#fdb674"/>
<rect x="464.34" y="75.00" width="5.87" height="3.847" fill="#fee090"/>
<rect x="470.21" y="75.00" width="5.87" height="3.847" fill="#ffffbf"/>
<rect x="452.60" y="78.85" width="5.87" height="3.847" fill="#9dc7df"/>
<rect x="458.47" y="78.85" width="5.87" height="3.847" fill="#fc8d59"/>
<rect x="464.34" y="78.85" width="5.87" height="3.847" fill="#91bfdb"/>
<rect x="470.21" y="78.85" width="5.87" height="3.847" fill="#fee090"/>
<rect x="452.60" y="82.70" width="5.87" height="3.847" fill="#91bfdb"/>
<rect x="458.47" y="82.70" width="5.87" height="3.847" fill="#fdb674"/>
<rect x="464.34" y="82.70" width="5.87" height="3.847" fill="#d8eef5"/>
<rect x="470.21" y="82.70" width="5.87" height="3.847" fill="#fdb674"/>
<rect x="452.60" y="86.55" width="5.87" height="3.847" fill="#91bfdb"/>
<rect x="458.47" y="86.55" width="5.87" height="3.847" fill="#fdb674"/>
<rect x="464.34" y="86.55" width="5.87" height="3.847" fill="#d8eef5"/>
<rect x="470.21" y="86.55" width="5.87" height="3.847" fill="#fdb674"/>
<rect x="452.60" y="90.39" width="5.87" height="3.847" fill="#fee090"/>
<rect x="458.47" y="90.39" width="5.87" height="3.847" fill="#91bfdb"/>
<rect x="464.34" y="90.39" width="5.87" height="3.847" fill="#d8eef5"/>
<rect x="470.21" y="90.39" width="5.87" height="3.847" fill="#fc8d59"/>
<rect x="452.60" y="94.24" width="5.87" height="3.847" fill="#ffffbf"/>
<rect x="458.47" y="94.24" width="5.87" height="3.847" fill="#91bfdb"/>
<rect x="464.34" y="94.24" width="5.87" height="3.847" fill="#ffffbf"/>
<rect x="470.21" y="94.24" width="5.87" height="3.847" fill="#ea5e40"/>
<rect x="452.60" y="98.09" width="5.87" height="3.847" fill="#ffffbf"/>
<rect x="458.47" y="98.09" width="5.87" height="3.847" fill="#f0f9dc"/>
<rect x="464.34" y="98.09" width="5.87" height="3.847" fill="#91bfdb"/>
<rect x="470.21" y="98.09" width="5.87" height="3.847" fill="#d73027"/>
<rect x="452.60" y="101.93" width="5.87" height="3.847" fill="#fee090"/>
<rect x="458.47" y="101.93" width="5.87" height="3.847" fill="#ffffbf"/>
<rect x="464.34" y="101.93" width="5.87" height="3.847" fill="#5c8bc0"/>
<rect x="470.21" y="101.93" width="5.87" height="3.847" fill="#fc8d59"/>
<rect x="452.60" y="105.78" width="5.87" height="3.847" fill="#9dc7df"/>
<rect x="458.47" y="105.78" width="5.87" height="3.847" fill="#fef0a8"/>
<rect x="464.34" y="105.78" width="5.87" height="3.847" fill="#9dc7df"/>
<rect x="470.21" y="105.78" width="5.87" height="3.847" fill="#d73027"/>
<rect x="452.60" y="109.63" width="5.87" height="3.847" fill="#9dc7df"/>
<rect x="458.47" y="109.63" width="5.87" height="3.847" fill="#ffffbf"/>
<rect x="464.34" y="109.63" width="5.87" height="3.847" fill="#d8eef5"/>
<rect x="470.21" y="109.63" width="5.87" height="3.847" fill="#d73027"/>
<rect x="452.60" y="113.47" width="5.87" height="3.847" fill="#9dc7df"/>
<rect x="458.47" y="113.47" width="5.87" height="3.847" fill="#ffffbf"/>
<rect x="464.34" y="113.47" width="5.87" height="3.847" fill="#d8eef5"/>
<rect x="470.21" y="113.47" width="5.87" height="3.847" fill="#d73027"/>
<rect x="452.60" y="117.32" width="5.87" height="3.847" fill="#91bfdb"/>
<rect x="458.47" y="117.32" width="5.87" height="3.847" fill="#f0f9dc"/>
<rect x="464.34" y="117.32" width="5.87" height="3.847" fill="#ffffbf"/>
<rect x="470.21" y="117.32" width="5.87" height="3.847" fill="#ea5e40"/>
<rect x="452.60" y="121.17" width="5.87" height="3.847" fill="#91bfdb"/>
<rect x="458.47" y="121.17" width="5.87" height="3.847" fill="#f0f9dc"/>
<rect x="464.34" y="121.17" width="5.87" height="3.847" fill="#ffffbf"/>
<rect x="470.21" y="121.17" width="5.87" height="3.847" fill="#ea5e40"/>
<rect x="452.60" y="125.02" width="5.87" height="3.847" fill="#91bfdb"/>
<rect x="458.47" y="125.02" width="5.87" height="3.847" fill="#fef0a8"/>
<rect x="464.34" y="125.02" width="5.87" height="3.847" fill="#d8eef5"/>
<rect x="470.21" y="125.02" width="5.87" height="3.847" fill="#ea5e40"/>
<rect x="452.60" y="128.86" width="5.87" height="3.847" fill="#91bfdb"/>
<rect x="458.47" y="128.86" width="5.87" height="3.847" fill="#ffffbf"/>
<rect x="464.34" y="128.86" width="5.87" height="3.847" fill="#f0f9dc"/>
<rect x="470.21" y="128.86" width="5.87" height="3.847" fill="#ea5e40"/>
<rect x="452.60" y="132.71" width="5.87" height="3.847" fill="#5c8bc0"/>
<rect x="458.47" y="132.71" width="5.87" height="3.847" fill="#fee090"/>
<rect x="464.34" y="132.71" width="5.87" height="3.847" fill="#f0f9dc"/>
<rect x="470.21" y="132.71" width="5.87" height="3.847" fill="#fc8d59"/>
<rect x="452.60" y="136.56" width="5.87" height="3.847" fill="#5c8bc0"/>
<rect x="458.47" y="136.56" width="5.87" height="3.847" fill="#fef0a8"/>
<rect x="464.34" y="136.56" width="5.87" height="3.847" fill="#ffffbf"/>
<rect x="470.21" y="136.56" width="5.87" height="3.847" fill="#fc8d59"/>
<rect x="452.60" y="140.40" width="5.87" height="3.847" fill="#5c8bc0"/>
<rect x="458.47" y="140.40" width="5.87" height="3.847" fill="#fef0a8"/>
<rect x="464.34" y="140.40" width="5.87" height="3.847" fill="#f0f9dc"/>
<rect x="470.21" y="140.40" width="5.87" height="3.847" fill="#ea5e40"/>
<rect x="452.60" y="144.25" width="5.87" height="3.847" fill="#91bfdb"/>
<rect x="458.47" y="144.25" width="5.87" height="3.847" fill="#d8eef5"/>
<rect x="464.34" y="144.25" width="5.87" height="3.847" fill="#fc8d59"/>
<rect x="470.21" y="144.25" width="5.87" height="3.847" fill="#fdb674"/>
<rect x="452.60" y="148.10" width="5.87" height="3.847" fill="#91bfdb"/>
<rect x="458.47" y="148.10" width="5.87" height="3.847" fill="#d8eef5"/>
<rect x="464.34" y="148.10" width="5.87" height="3.847" fill="#fdb674"/>
<rect x="470.21" y="148.10" width="5.87" height="3.847" fill="#fc8d59"/>
<rect x="452.60" y="151.94" width="5.87" height="3.847" fill="#91bfdb"/>
<rect x="458.47" y="151.94" width="5.87" height="3.847" fill="#d8eef5"/>
<rect x="464.34" y="151.94" width="5.87" height="3.847" fill="#fdb674"/>
<rect x="470.21" y="151.94" width="5.87" height="3.847" fill="#fc8d59"/>
<rect x="452.60" y="155.79" width="5.87" height="3.847" fill="#9dc7df"/>
<rect x="458.47" y="155.79" width="5.87" height="3.847" fill="#9dc7df"/>
<rect x="464.34" y="155.79" width="5.87" height="3.847" fill="#fc8d59"/>
<rect x="470.21" y="155.79" width="5.87" height="3.847" fill="#fdb674"/>
<rect x="452.60" y="159.64" width="5.87" height="3.847" fill="#9dc7df"/>
<rect x="458.47" y="159.64" width="5.87" height="3.847" fill="#9dc7df"/>
<rect x="464.34" y="159.64" width="5.87" height="3.847" fill="#fdb674"/>
<rect x="470.21" y="159.64" width="5.87" height="3.847" fill="#fc8d59"/>
<rect x="452.60" y="163.49" width="5.87" height="3.847" fill="#9dc7df"/>
<rect x="458.47" y="163.49" width="5.87" height="3.847" fill="#9dc7df"/>
<rect x="464.34" y="163.49" width="5.87" height="3.847" fill="#fdb674"/>
<rect x="470.21" y="163.49" width="5.87" height="3.847" fill="#fc8d59"/>
<rect x="452.60" y="167.33" width="5.87" height="3.847" fill="#5c8bc0"/>
<rect x="458.47" y="167.33" width="5.87" height="3.847" fill="#fef0a8"/>
<rect x="464.34" y="167.33" width="5.87" height="3.847" fill="#fdb674"/>
<rect x="470.21" y="167.33" width="5.87" height="3.847" fill="#fef0a8"/>
<rect x="452.60" y="171.18" width="5.87" height="3.847" fill="#5c8bc0"/>
<rect x="458.47" y="171.18" width="5.87" height="3.847" fill="#fef0a8"/>
<rect x="464.34" y="171.18" width="5.87" height="3.847" fill="#fdb674"/>
<rect x="470.21" y="171.18" width="5.87" height="3.847" fill="#fef0a8"/>
<rect x="452.60" y="175.03" width="5.87" height="3.847" fill="#4575b4"/>
<rect x="458.47" y="175.03" width="5.87" height="3.847" fill="#fef0a8"/>
<rect x="464.34" y="175.03" width="5.87" height="3.847" fill="#fdb674"/>
<rect x="470.21" y="175.03" width="5.87" height="3.847" fill="#fee090"/>
<rect x="452.60" y="178.87" width="5.87" height="3.847" fill="#5c8bc0"/>
<rect x="458.47" y="178.87" width="5.87" height="3.847" fill="#fef0a8"/>
<rect x="464.34" y="178.87" width="5.87" height="3.847" fill="#fdb674"/>
<rect x="470.21" y="178.87" width="5.87" height="3.847" fill="#fee090"/>
<rect x="452.60" y="182.72" width="5.87" height="3.847" fill="#5c8bc0"/>
<rect x="458.47" y="182.72" width="5.87" height="3.847" fill="#f0f9dc"/>
<rect x="464.34" y="182.72" width="5.87" height="3.847" fill="#fee090"/>
<rect x="470.21" y="182.72" width="5.87" height="3.847" fill="#fc8d59"/>
<rect x="452.60" y="186.57" width="5.87" height="3.847" fill="#5c8bc0"/>
<rect x="458.47" y="186.57" width="5.87" height="3.847" fill="#ffffbf"/>
<rect x="464.34" y="186.57" width="5.87" height="3.847" fill="#fee090"/>
<rect x="470.21" y="186.57" width="5.87" height="3.847" fill="#fdb674"/>
<rect x="452.60" y="190.41" width="5.87" height="3.847" fill="#5c8bc0"/>
<rect x="458.47" y="190.41" width="5.87" height="3.847" fill="#fef0a8"/>
<rect x="464.34" y="190.41" width="5.87" height="3.847" fill="#fee090"/>
<rect x="470.21" y="190.41" width="5.87" height="3.847" fill="#fdb674"/>
<rect x="452.60" y="194.26" width="5.87" height="3.847" fill="#5c8bc0"/>
<rect x="458.47" y="194.26" width="5.87" height="3.847" fill="#fef0a8"/>
<rect x="464.34" y="194.26" width="5.87" height="3.847" fill="#fdb674"/>
<rect x="470.21" y="194.26" width="5.87" height="3.847" fill="#fee090"/>
<rect x="452.60" y="198.11" width="5.87" height="3.847" fill="#fef0a8"/>
<rect x="458.47" y="198.11" width="5.87" height="3.847" fill="#d8eef5"/>
<rect x="464.34" y="198.11" width="5.87" height="3.847" fill="#ea5e40"/>
<rect x="470.21" y="198.11" width="5.87" height="3.847" fill="#91bfdb"/>
<rect x="452.60" y="201.96" width="5.87" height="3.847" fill="#fef0a8"/>
<rect x="458.47" y="201.96" width="5.87" height="3.847" fill="#f0f9dc"/>
<rect x="464.34" y="201.96" width="5.87" height="3.847" fill="#ea5e40"/>
<rect x="470.21" y="201.96" width="5.87" height="3.847" fill="#91bfdb"/>
<rect x="452.60" y="205.80" width="5.87" height="3.847" fill="#fef0a8"/>
<rect x="458.47" y="205.80" width="5.87" height="3.847" fill="#ffffbf"/>
<rect x="464.34" y="205.80" width="5.87" height="3.847" fill="#ea5e40"/>
<rect x="470.21" y="205.80" width="5.87" height="3.847" fill="#91bfdb"/>
<rect x="452.60" y="209.65" width="5.87" height="3.847" fill="#ffffbf"/>
<rect x="458.47" y="209.65" width="5.87" height="3.847" fill="#9dc7df"/>
<rect x="464.34" y="209.65" width="5.87" height="3.847" fill="#ea5e40"/>
<rect x="470.21" y="209.65" width="5.87" height="3.847" fill="#f0f9dc"/>
<rect x="452.60" y="213.50" width="5.87" height="3.847" fill="#d8eef5"/>
<rect x="458.47" y="213.50" width="5.87" height="3.847" fill="#d8eef5"/>
<rect x="464.34" y="213.50" width="5.87" height="3.847" fill="#d73027"/>
<rect x="470.21" y="213.50" width="5.87" height="3.847" fill="#f0f9dc"/>
<rect x="452.60" y="217.34" width="5.87" height="3.847" fill="#9dc7df"/>
<rect x="458.47" y="217.34" width="5.87" height="3.847" fill="#fdb674"/>
<rect x="464.34" y="217.34" width="5.87" height="3.847" fill="#fc8d59"/>
<rect x="470.21" y="217.34" width="5.87" height="3.847" fill="#9dc7df"/>
<rect x="452.60" y="221.19" width="5.87" height="3.847" fill="#d8eef5"/>
<rect x="458.47" y="221.19" width="5.87" height="3.847" fill="#fc8d59"/>
<rect x="464.34" y="221.19" width="5.87" height="3.847" fill="#fdb674"/>
<rect x="470.21" y="221.19" width="5.87" height="3.847" fill="#91bfdb"/>
<rect x="452.60" y="225.04" width="5.87" height="3.847" fill="#5c8bc0"/>
<rect x="458.47" y="225.04" width="5.87" height="3.847" fill="#fef0a8"/>
<rect x="464.34" y="225.04" width="5.87" height="3.847" fill="#fc8d59"/>
<rect x="470.21" y="225.04" width="5.87" height="3.847" fill="#f0f9dc"/>
<rect x="452.60" y="228.88" width="5.87" height="3.847" fill="#91bfdb"/>
<rect x="458.47" y="228.88" width="5.87" height="3.847" fill="#fee090"/>
<rect x="464.34" y="228.88" width="5.87" height="3.847" fill="#fc8d59"/>
<rect x="470.21" y="228.88" width="5.87" height="3.847" fill="#d8eef5"/>
<rect x="452.60" y="232.73" width="5.87" height="3.847" fill="#9dc7df"/>
<rect x="458.47" y="232.73" width="5.87" height="3.847" fill="#fef0a8"/>
<rect x="464.34" y="232.73" width="5.87" height="3.847" fill="#ea5e40"/>
<rect x="470.21" y="232.73" width="5.87" height="3.847" fill="#f0f9dc"/>
<rect x="452.60" y="236.58" width="5.87" height="3.847" fill="#9dc7df"/>
<rect x="458.47" y="236.58" width="5.87" height="3.847" fill="#ffffbf"/>
<rect x="464.34" y="236.58" width="5.87" height="3.847" fill="#ea5e40"/>
<rect x="470.21" y="236.58" width="5.87" height="3.847" fill="#d8eef5"/>
<rect x="452.60" y="240.43" width="5.87" height="3.847" fill="#9dc7df"/>
<rect x="458.47" y="240.43" width="5.87" height="3.847" fill="#ffffbf"/>
<rect x="464.34" y="240.43" width="5.87" height="3.847" fill="#d73027"/>
<rect x="470.21" y="240.43" width="5.87" height="3.847" fill="#d8eef5"/>
<rect x="452.60" y="244.27" width="5.87" height="3.847" fill="#9dc7df"/>
<rect x="458.47" y="244.27" width="5.87" height="3.847" fill="#ffffbf"/>
<rect x="464.34" y="244.27" width="5.87" height="3.847" fill="#d73027"/>
<rect x="470.21" y="244.27" width="5.87" height="3.847" fill="#d8eef5"/>
<rect x="452.60" y="248.12" width="5.87" height="3.847" fill="#d8eef5"/>
<rect x="458.47" y="248.12" width="5.87" height="3.847" fill="#ffffbf"/>
<rect x="464.34" y="248.12" width="5.87" height="3.847" fill="#d73027"/>
<rect x="470.21" y="248.12" width="5.87" height="3.847" fill="#d8eef5"/>
<rect x="452.60" y="251.97" width="5.87" height="3.847" fill="#ea5e40"/>
<rect x="458.47" y="251.97" width="5.87" height="3.847" fill="#9dc7df"/>
<rect x="464.34" y="251.97" width="5.87" height="3.847" fill="#fee090"/>
<rect x="470.21" y="251.97" width="5.87" height="3.847" fill="#9dc7df"/>
<rect x="452.60" y="255.81" width="5.87" height="3.847" fill="#ea5e40"/>
<rect x="458.47" y="255.81" width="5.87" height="3.847" fill="#91bfdb"/>
<rect x="464.34" y="255.81" width="5.87" height="3.847" fill="#fee090"/>
<rect x="470.21" y="255.81" width="5.87" height="3.847" fill="#d8eef5"/>
<rect x="452.60" y="259.66" width="5.87" height="3.847" fill="#fef0a8"/>
<rect x="458.47" y="259.66" width="5.87" height="3.847" fill="#4575b4"/>
<rect x="464.34" y="259.66" width="5.87" height="3.847" fill="#fdb674"/>
<rect x="470.21" y="259.66" width="5.87" height="3.847" fill="#fee090"/>
<rect x="452.60" y="263.51" width="5.87" height="3.847" fill="#fdb674"/>
<rect x="458.47" y="263.51" width="5.87" height="3.847" fill="#4575b4"/>
<rect x="464.34" y="263.51" width="5.87" height="3.847" fill="#fef0a8"/>
<rect x="470.21" y="263.51" width="5.87" height="3.847" fill="#fef0a8"/>
<rect x="452.60" y="267.35" width="5.87" height="3.847" fill="#fdb674"/>
<rect x="458.47" y="267.35" width="5.87" height="3.847" fill="#5c8bc0"/>
<rect x="464.34" y="267.35" width="5.87" height="3.847" fill="#fef0a8"/>
<rect x="470.21" y="267.35" width="5.87" height="3.847" fill="#fef0a8"/>
<rect x="452.60" y="271.20" width="5.87" height="3.847" fill="#ea5e40"/>
<rect x="458.47" y="271.20" width="5.87" height="3.847" fill="#f0f9dc"/>
<rect x="464.34" y="271.20" width="5.87" height="3.847" fill="#fef0a8"/>
<rect x="470.21" y="271.20" width="5.87" height="3.847" fill="#91bfdb"/>
<rect x="452.60" y="275.05" width="5.87" height="3.847" fill="#ea5e40"/>
<rect x="458.47" y="275.05" width="5.87" height="3.847" fill="#d8eef5"/>
<rect x="464.34" y="275.05" width="5.87" height="3.847" fill="#fef0a8"/>
<rect x="470.21" y="275.05" width="5.87" height="3.847" fill="#9dc7df"/>
<rect x="452.60" y="278.90" width="5.87" height="3.847" fill="#d73027"/>
<rect x="458.47" y="278.90" width="5.87" height="3.847" fill="#f0f9dc"/>
<rect x="464.34" y="278.90" width="5.87" height="3.847" fill="#d8eef5"/>
<rect x="470.21" y="278.90" width="5.87" height="3.847" fill="#9dc7df"/>
<rect x="452.60" y="282.74" width="5.87" height="3.847" fill="#ea5e40"/>
<rect x="458.47" y="282.74" width="5.87" height="3.847" fill="#ffffbf"/>
<rect x="464.34" y="282.74" width="5.87" height="3.847" fill="#ffffbf"/>
<rect x="470.21" y="282.74" width="5.87" height="3.847" fill="#5c8bc0"/>
<rect x="452.60" y="286.59" width="5.87" height="3.847" fill="#ea5e40"/>
<rect x="458.47" y="286.59" width="5.87" height="3.847" fill="#ffffbf"/>
<rect x="464.34" y="286.59" width="5.87" height="3.847" fill="#ffffbf"/>
<rect x="470.21" y="286.59" width="5.87" height="3.847" fill="#5c8bc0"/>
<rect x="452.60" y="290.44" width="5.87" height="3.847" fill="#fc8d59"/>
<rect x="458.47" y="290.44" width="5.87" height="3.847" fill="#fee090"/>
<rect x="464.34" y="290.44" width="5.87" height="3.847" fill="#5c8bc0"/>
<rect x="470.21" y="290.44" width="5.87" height="3.847" fill="#f0f9dc"/>
<rect x="452.60" y="294.28" width="5.87" height="3.847" fill="#fc8d59"/>
<rect x="458.47" y="294.28" width="5.87" height="3.847" fill="#fee090"/>
<rect x="464.34" y="294.28" width="5.87" height="3.847" fill="#5c8bc0"/>
<rect x="470.21" y="294.28" width="5.87" height="3.847" fill="#ffffbf"/>
<rect x="452.60" y="298.13" width="5.87" height="3.847" fill="#ea5e40"/>
<rect x="458.47" y="298.13" width="5.87" height="3.847" fill="#ffffbf"/>
<rect x="464.34" y="298.13" width="5.87" height="3.847" fill="#91bfdb"/>
<rect x="470.21" y="298.13" width="5.87" height="3.847" fill="#fef0a8"/>
<rect x="452.60" y="301.98" width="5.87" height="3.847" fill="#d73027"/>
<rect x="458.47" y="301.98" width="5.87" height="3.847" fill="#ffffbf"/>
<rect x="464.34" y="301.98" width="5.87" height="3.847" fill="#9dc7df"/>
<rect x="470.21" y="301.98" width="5.87" height="3.847" fill="#d8eef5"/>
<rect x="452.60" y="305.82" width="5.87" height="3.847" fill="#d73027"/>
<rect x="458.47" y="305.82" width="5.87" height="3.847" fill="#f0f9dc"/>
<rect x="464.34" y="305.82" width="5.87" height="3.847" fill="#9dc7df"/>
<rect x="470.21" y="305.82" width="5.87" height="3.847" fill="#f0f9dc"/>
<rect x="452.60" y="309.67" width="5.87" height="3.847" fill="#ea5e40"/>
<rect x="458.47" y="309.67" width="5.87" height="3.847" fill="#91bfdb"/>
<rect x="464.34" y="309.67" width="5.87" height="3.847" fill="#f0f9dc"/>
<rect x="470.21" y="309.67" width="5.87" height="3.847" fill="#fef0a8"/>
<rect x="452.60" y="313.52" width="5.87" height="3.847" fill="#ea5e40"/>
<rect x="458.47" y="313.52" width="5.87" height="3.847" fill="#91bfdb"/>
<rect x="464.34" y="313.52" width="5.87" height="3.847" fill="#d8eef5"/>
<rect x="470.21" y="313.52" width="5.87" height="3.847" fill="#fee090"/>
<rect x="452.60" y="317.37" width="5.87" height="3.847" fill="#d73027"/>
<rect x="458.47" y="317.37" width="5.87" height="3.847" fill="#9dc7df"/>
<rect x="464.34" y="317.37" width="5.87" height="3.847" fill="#ffffbf"/>
<rect x="470.21" y="317.37" width="5.87" height="3.847" fill="#ffffbf"/>
<rect x="452.60" y="321.21" width="5.87" height="3.847" fill="#d73027"/>
<rect x="458.47" y="321.21" width="5.87" height="3.847" fill="#9dc7df"/>
<rect x="464.34" y="321.21" width="5.87" height="3.847" fill="#ffffbf"/>
<rect x="470.21" y="321.21" width="5.87" height="3.847" fill="#f0f9dc"/>
<rect x="452.60" y="325.06" width="5.87" height="3.847" fill="#d73027"/>
<rect x="458.47" y="325.06" width="5.87" height="3.847" fill="#d8eef5"/>
<rect x="464.34" y="325.06" width="5.87" height="3.847" fill="#d8eef5"/>
<rect x="470.21" y="325.06" width="5.87" height="3.847" fill="#d8eef5"/>
<rect x="452.60" y="328.91" width="5.87" height="3.847" fill="#d73027"/>
<rect x="458.47" y="328.91" width="5.87" height="3.847" fill="#d8eef5"/>
<rect x="464.34" y="328.91" width="5.87" height="3.847" fill="#ffffbf"/>
<rect x="470.21" y="328.91" width="5.87" height="3.847" fill="#d8eef5"/>
<rect x="452.60" y="332.75" width="5.87" height="3.847" fill="#d73027"/>
<rect x="458.47" y="332.75" width="5.87" height="3.847" fill="#d8eef5"/>
<rect x="464.34" y="332.75" width="5.87" height="3.847" fill="#ffffbf"/>
<rect x="470.21" y="332.75" width="5.87" height="3.847" fill="#9dc7df"/>
<path d="M452.60 17.30H476.08M452.60 21.15H476.08M452.60 24.99H476.08M452.60 28.84H476.08M452.60 32.69H476.08M452.60 36.53H476.08M452.60 40.38H476.08M452.60 44.23H476.08M452.60 48.08H476.08M452.60 51.92H476.08M452.60 55.77H476.08M452.60 59.62H476.08M452.60 63.46H476.08M452.60 67.31H476.08M452.60 71.16H476.08M452.60 75.00H476.08M452.60 78.85H476.08M452.60 82.70H476.08M452.60 86.55H476.08M452.60 90.39H476.08M452.60 94.24H476.08M452.60 98.09H476.08M452.60 101.93H476.08M452.60 105.78H476.08M452.60 109.63H476.08M452.60 113.47H476.08M452.60 117.32H476.08M452.60 121.17H476.08M452.60 125.02H476.08M452.60 128.86H476.08M452.60 132.71H476.08M452.60 136.56H476.08M452.60 140.40H476.08M452.60 144.25H476.08M452.60 148.10H476.08M452.60 151.94H476.08M452.60 155.79H476.08M452.60 159.64H476.08M452.60 163.49H476.08M452.60 167.33H476.08M452.60 171.18H476.08M452.60 175.03H476.08M452.60 178.87H476.08M452.60 182.72H476.08M452.60 186.57H476.08M452.60 190.41H476.08M452.60 194.26H476.08M452.60 198.11H476.08M452.60 201.96H476.08M452.60 205.80H476.08M452.60 209.65H476.08M452.60 213.50H476.08M452.60 217.34H476.08M452.60 221.19H476.08M452.60 225.04H476.08M452.60 228.88H476.08M452.60 232.73H476.08M452.60 236.58H476.08M452.60 240.43H476.08M452.60 244.27H476.08M452.60 248.12H476.08M452.60 251.97H476.08M452.60 255.81H476.08M452.60 259.66H476.08M452.60 263.51H476.08M452.60 267.35H476.08M452.60 271.20H476.08M452.60 275.05H476.08M452.60 278.90H476.08M452.60 282.74H476.08M452.60 286.59H476.08M452.60 290.44H476.08M452.60 294.28H476.08M452.60 298.13H476.08M452.60 301.98H476.08M452.60 305.82H476.08M452.60 309.67H476.08M452.60 313.52H476.08M452.60 317.37H476.08M452.60 321.21H476.08M452.60 325.06H476.08M452.60 328.91H476.08M452.60 332.75H476.08M452.60 336.60H476.08M452.60 17.30V336.60M458.47 17.30V336.60M464.34 17.30V336.60M470.21 17.30V336.60M476.08 17.30V336.60" stroke="#909090" stroke-width="0.5" fill="none" opacity="0.8"/>
</g>
<g font-size="3.6" fill="#000" stroke="#000" stroke-width="0.06">
<text x="476.80" y="20.48">Ccl5</text>
<text x="476.80" y="24.33">Ptprc</text>
<text x="476.80" y="28.18">Pycard</text>
<text x="476.80" y="32.02">Cd163</text>
<text x="476.80" y="35.87">Thbs1</text>
<text x="476.80" y="39.72">Vcam1</text>
<text x="476.80" y="43.57">Cd209a</text>
<text x="476.80" y="47.41">Myc</text>
<text x="476.80" y="51.26">Fcgr1</text>
<text x="476.80" y="55.11">Cx3cr1</text>
<text x="476.80" y="58.95">Sdc4</text>
<text x="476.80" y="62.80">Lgals1</text>
<text x="476.80" y="66.65">Timd4</text>
<text x="476.80" y="70.49">Csf1r</text>
<text x="476.80" y="74.34">Gsdmd</text>
<text x="476.80" y="78.19">Ccl4</text>
<text x="476.80" y="82.04">H2-Aa</text>
<text x="476.80" y="85.88">Ctsg</text>
<text x="476.80" y="89.73">Nlrp3</text>
<text x="476.80" y="93.58">Casp1</text>
<text x="476.80" y="97.42">Fpr1</text>
<text x="476.80" y="101.27">Tpi1</text>
<text x="476.80" y="105.12">Mki67</text>
<text x="476.80" y="108.96">Fn1</text>
<text x="476.80" y="112.81">Mpo</text>
<text x="476.80" y="116.66">Cdkn1a</text>
<text x="476.80" y="120.51">S100a4</text>
<text x="476.80" y="124.35">Tgfbi</text>
<text x="476.80" y="128.20">Eno1</text>
<text x="476.80" y="132.05">Ms4a3</text>
<text x="476.80" y="135.89">Ly6g</text>
<text x="476.80" y="139.74">Plac8</text>
<text x="476.80" y="143.59">Mmp8</text>
<text x="476.80" y="147.43">Itgb1</text>
<text x="476.80" y="151.28">C1qc</text>
<text x="476.80" y="155.13">Tnfaip3</text>
<text x="476.80" y="158.98">Itgam</text>
<text x="476.80" y="162.82">S100a9</text>
<text x="476.80" y="166.67">Cd44</text>
<text x="476.80" y="170.52">Stmn1</text>
<text x="476.80" y="174.36">Ccl22</text>
<text x="476.80" y="178.21">S100a8</text>
<text x="476.80" y="182.06">Siglec1</text>
<text x="476.80" y="185.90">Ms4a7</text>
<text x="476.80" y="189.75">Lyve1</text>
<text x="476.80" y="193.60">Pros1</text>
<text x="476.80" y="197.44">Fos</text>
<text x="476.80" y="201.29">Arg2</text>
<text x="476.80" y="205.14">Il4ra</text>
<text x="476.80" y="208.99">Ccl7</text>
<text x="476.80" y="212.83">Ptgs2</text>
<text x="476.80" y="216.68">Prtn3</text>
<text x="476.80" y="220.53">Mmp12</text>
<text x="476.80" y="224.37">Actb</text>
<text x="476.80" y="228.22">Il10</text>
<text x="476.80" y="232.07">Stab1</text>
<text x="476.80" y="235.91">Pkm</text>
<text x="476.80" y="239.76">Txnip</text>
<text x="476.80" y="243.61">Pdgfb</text>
<text x="476.80" y="247.46">Slc2a1</text>
<text x="476.80" y="251.30">Vim</text>
<text x="476.80" y="255.15">Mt1</text>
<text x="476.80" y="259.00">Ccnd1</text>
<text x="476.80" y="262.84">Ctsb</text>
<text x="476.80" y="266.69">Sell</text>
<text x="476.80" y="270.54">Cd9</text>
<text x="476.80" y="274.38">Egr1</text>
<text x="476.80" y="278.23">Nos2</text>
<text x="476.80" y="282.08">Csf3r</text>
<text x="476.80" y="285.93">Ctsd</text>
<text x="476.80" y="289.77">Ccl2</text>
<text x="476.80" y="293.62">Arg1</text>
<text x="476.80" y="297.47">Cxcl9</text>
<text x="476.80" y="301.31">Plaur</text>
<text x="476.80" y="305.16">Fabp5</text>
<text x="476.80" y="309.01">Pf4</text>
<text x="476.80" y="312.85">Pik3cd</text>
<text x="476.80" y="316.70">Ifit3</text>
<text x="476.80" y="320.55">Pgk1</text>
<text x="476.80" y="324.40">Ccl24</text>
<text x="476.80" y="328.24">Cd86</text>
<text x="476.80" y="332.09">Clec4d</text>
<text x="476.80" y="335.94">Klf2</text>
</g>
<path d="M442.74 160.46H439.80V277.54H446.03M443.26 102.40H442.74V218.52H446.94M447.36 66.29H443.26V138.51H444.97M447.48 48.92H447.36V83.66H449.54M448.57 27.40H447.48V70.44H449.73M452.30 19.22H448.57V35.57H448.72M449.73 25.96H448.72V45.19H449.35M452.30 23.07H449.73V28.84H450.61M452.30 26.92H450.61V30.76H452.30M450.51 39.42H449.35V50.96H450.12M451.43 36.53H450.51V42.31H452.30M452.30 34.61H451.43V38.46H452.30M450.36 48.08H450.12V53.85H452.30M452.30 46.15H450.36V50.00H452.30M450.18 65.87H449.73V75.00H451.43M451.03 62.50H450.18V69.23H452.30M451.43 59.62H451.03V65.39H452.30M452.30 57.69H451.43V61.54H452.30M452.30 73.08H451.43V76.93H452.30M452.30 80.78H449.54V86.55H451.43M452.30 84.62H451.43V88.47H452.30M446.26 108.61H444.97V168.41H447.23M448.11 98.09H446.26V119.12H448.73M449.57 94.24H448.11V101.93H449.50M452.30 92.32H449.57V96.16H452.30M452.30 100.01H449.50V103.86H452.30M450.23 110.59H448.73V127.66H449.16M452.30 107.70H450.23V113.47H451.43M452.30 111.55H451.43V115.40H452.30M451.43 121.17H449.16V134.15H449.74M452.30 119.25H451.43V123.09H452.30M450.36 128.86H449.74V139.44H450.12M452.30 126.94H450.36V130.79H452.30M450.36 136.56H450.12V142.33H452.30M452.30 134.63H450.36V138.48H452.30M449.82 154.83H447.23V182.00H449.27M450.23 149.06H449.82V160.60H450.23M452.30 146.17H450.23V151.94H451.43M452.30 150.02H451.43V153.87H452.30M452.30 157.72H450.23V163.49H451.43M452.30 161.56H451.43V165.41H452.30M450.26 175.03H449.27V188.97H449.73M451.43 171.18H450.26V178.87H450.61M452.30 169.26H451.43V173.10H452.30M452.30 176.95H450.61V180.80H452.30M452.30 184.64H449.73V193.30H450.18M450.61 190.41H450.18V196.18H452.30M452.30 188.49H450.61V192.34H452.30M448.40 209.17H446.94V227.86H448.16M450.18 204.84H448.40V213.50H449.82M450.61 201.96H450.18V207.73H452.30M452.30 200.03H450.61V203.88H452.30M452.30 211.57H449.82V215.42H452.30M450.04 221.19H448.16V234.53H448.95M452.30 219.27H450.04V223.11H452.30M450.18 228.88H448.95V240.18H450.01M452.30 226.96H450.18V230.81H452.30M452.30 234.65H450.01V245.71H450.26M450.51 241.39H450.26V250.04H452.30M452.30 238.50H450.51V244.27H451.43M452.30 242.35H451.43V246.20H452.30M447.82 260.14H446.03V294.94H446.73M450.36 255.81H447.82V264.47H449.35M452.30 253.89H450.36V257.74H452.30M452.30 261.58H449.35V267.35H450.61M452.30 265.43H450.61V269.28H452.30M449.12 279.38H446.73V310.51H446.83M450.36 275.05H449.12V283.70H449.29M452.30 273.12H450.36V276.97H452.30M452.30 280.82H449.29V286.59H451.43M452.30 284.67H451.43V288.51H452.30M448.72 301.50H446.83V319.53H448.30M449.43 297.17H448.72V305.82H450.36M450.61 294.28H449.43V300.05H452.30M452.30 292.36H450.61V296.21H452.30M452.30 303.90H450.36V307.75H452.30M450.36 313.52H448.30V325.54H449.40M452.30 311.59H450.36V315.44H452.30M450.61 321.21H449.40V329.87H449.85M452.30 319.29H450.61V323.14H452.30M452.30 326.98H449.85V332.75H450.61M452.30 330.83H450.61V334.68H452.30" stroke="#262626" stroke-width="0.45" fill="none"/>
<defs><linearGradient id="hg328" x1="0" y1="0" x2="0" y2="1"><stop offset="0" stop-color="#d73027"/><stop offset="0.17" stop-color="#fc8d59"/><stop offset="0.33" stop-color="#fee090"/><stop offset="0.5" stop-color="#ffffbf"/><stop offset="0.67" stop-color="#e0f3f8"/><stop offset="0.83" stop-color="#91bfdb"/><stop offset="1" stop-color="#4575b4"/></linearGradient></defs>
<rect x="328.30" y="19.80" width="1.6" height="19.00" fill="url(#hg328)"/>
<text x="330.60" y="23.30" font-size="2.9" fill="#333">1</text>
<text x="330.60" y="26.50" font-size="2.9" fill="#333">0.5</text>
<text x="330.60" y="29.70" font-size="2.9" fill="#333">0</text>
<text x="330.60" y="32.90" font-size="2.9" fill="#333">-0.5</text>
<text x="330.60" y="36.10" font-size="2.9" fill="#333">-1</text>
<rect x="327.30" y="41.60" width="4.7" height="4.3" fill="#e41a1c"/>
<text x="333.50" y="44.90" font-size="3.5" fill="#333">IgG</text>
<rect x="327.30" y="46.45" width="4.7" height="4.3" fill="#377eb8"/>
<text x="333.50" y="49.75" font-size="3.5" fill="#333">IL21-αHSA</text>
<rect x="327.30" y="51.30" width="4.7" height="4.3" fill="#4daf4a"/>
<text x="333.50" y="54.60" font-size="3.5" fill="#333">α-PD1</text>
<rect x="327.30" y="56.15" width="4.7" height="4.3" fill="#984ea3"/>
<text x="333.50" y="59.45" font-size="3.5" fill="#333">IL21-αHSA</text>
<text x="333.50" y="64.05" font-size="3.5" fill="#333">+α-PD1</text>
<defs><linearGradient id="hg411" x1="0" y1="0" x2="0" y2="1"><stop offset="0" stop-color="#d73027"/><stop offset="0.17" stop-color="#fc8d59"/><stop offset="0.33" stop-color="#fee090"/><stop offset="0.5" stop-color="#ffffbf"/><stop offset="0.67" stop-color="#e0f3f8"/><stop offset="0.83" stop-color="#91bfdb"/><stop offset="1" stop-color="#4575b4"/></linearGradient></defs>
<rect x="411.70" y="17.90" width="1.6" height="19.40" fill="url(#hg411)"/>
<text x="413.90" y="21.90" font-size="2.9" fill="#333">1</text>
<text x="413.90" y="25.10" font-size="2.9" fill="#333">0.5</text>
<text x="413.90" y="28.30" font-size="2.9" fill="#333">0</text>
<text x="413.90" y="31.50" font-size="2.9" fill="#333">-0.5</text>
<text x="413.90" y="34.70" font-size="2.9" fill="#333">-1</text>
<rect x="411.10" y="40.00" width="4.7" height="4.3" fill="#e41a1c"/>
<text x="417.30" y="43.30" font-size="3.5" fill="#333">IgG</text>
<rect x="411.10" y="44.85" width="4.7" height="4.3" fill="#377eb8"/>
<text x="417.30" y="48.15" font-size="3.5" fill="#333">IL21-αHSA</text>
<rect x="411.10" y="49.70" width="4.7" height="4.3" fill="#4daf4a"/>
<text x="417.30" y="53.00" font-size="3.5" fill="#333">α-PD1</text>
<rect x="411.10" y="54.55" width="4.7" height="4.3" fill="#984ea3"/>
<text x="417.30" y="57.85" font-size="3.5" fill="#333">IL21-αHSA</text>
<text x="417.30" y="62.45" font-size="3.5" fill="#333">+α-PD1</text>
<defs><linearGradient id="hg493" x1="0" y1="0" x2="0" y2="1"><stop offset="0" stop-color="#d73027"/><stop offset="0.17" stop-color="#fc8d59"/><stop offset="0.33" stop-color="#fee090"/><stop offset="0.5" stop-color="#ffffbf"/><stop offset="0.67" stop-color="#e0f3f8"/><stop offset="0.83" stop-color="#91bfdb"/><stop offset="1" stop-color="#4575b4"/></linearGradient></defs>
<rect x="493.30" y="17.90" width="1.6" height="19.10" fill="url(#hg493)"/>
<text x="495.50" y="21.90" font-size="2.9" fill="#333">1</text>
<text x="495.50" y="25.10" font-size="2.9" fill="#333">0.5</text>
<text x="495.50" y="28.30" font-size="2.9" fill="#333">0</text>
<text x="495.50" y="31.50" font-size="2.9" fill="#333">-0.5</text>
<text x="495.50" y="34.70" font-size="2.9" fill="#333">-1</text>
<rect x="491.90" y="40.10" width="4.7" height="4.3" fill="#e41a1c"/>
<text x="498.10" y="43.40" font-size="3.5" fill="#333">IgG</text>
<rect x="491.90" y="44.95" width="4.7" height="4.3" fill="#377eb8"/>
<text x="498.10" y="48.25" font-size="3.5" fill="#333">IL21-αHSA</text>
<rect x="491.90" y="49.80" width="4.7" height="4.3" fill="#4daf4a"/>
<text x="498.10" y="53.10" font-size="3.5" fill="#333">α-PD1</text>
<rect x="491.90" y="54.65" width="4.7" height="4.3" fill="#984ea3"/>
<text x="498.10" y="57.95" font-size="3.5" fill="#333">IL21-αHSA</text>
<text x="498.10" y="62.55" font-size="3.5" fill="#333">+α-PD1</text>
<text x="270" y="8.8" font-size="10" text-anchor="start" fill="#000" font-weight="bold">E</text>
<text x="353.3" y="8.8" font-size="10" text-anchor="start" fill="#000" font-weight="bold">F</text>
<text x="428.6" y="8.8" font-size="10" text-anchor="start" fill="#000" font-weight="bold">G</text>
<text x="306.1" y="12.2" font-size="6.1" text-anchor="middle" fill="#000" stroke="#000" stroke-width="0.14">Monocyte</text>
<text x="382.1" y="12.1" font-size="6.1" text-anchor="middle" fill="#000" stroke="#000" stroke-width="0.14">M1</text>
<text x="461.6" y="12.1" font-size="6.1" text-anchor="middle" fill="#000" stroke="#000" stroke-width="0.14">M2</text>
</svg></body></html>
